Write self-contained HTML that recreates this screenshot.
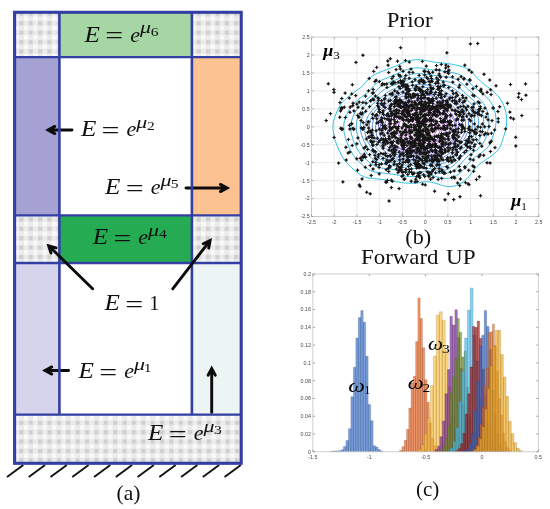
<!DOCTYPE html>
<html lang="en"><head><meta charset="utf-8"><title>Figure</title>
<style>
html,body{margin:0;padding:0;background:#fff;overflow:hidden;}
svg{display:block;}
text{white-space:pre;}
.si{font-family:"Liberation Serif",serif;font-style:italic;}
.sr{font-family:"Liberation Serif",serif;}
.sbi{font-family:"Liberation Serif",serif;font-style:italic;font-weight:bold;}
.ss{font-family:"Liberation Sans",sans-serif;}
</style></head><body>
<svg width="550" height="509" viewBox="0 0 550 509">
<rect width="550" height="509" fill="#fff"/>
<defs>
<pattern id="p1" patternUnits="userSpaceOnUse" x="19.2" y="21.1" width="9.38" height="9.38"><rect width="9.38" height="9.38" fill="#ebebeb"/><rect x="0.1" y="0.1" width="4.09" height="4.09" fill="#cfcfcf"/><rect x="4.79" y="4.79" width="4.09" height="4.09" fill="#fbfbfb"/></pattern>
<pattern id="p2" patternUnits="userSpaceOnUse" x="196.5" y="21.1" width="9.38" height="9.38"><rect width="9.38" height="9.38" fill="#ebebeb"/><rect x="0.1" y="0.1" width="4.09" height="4.09" fill="#cfcfcf"/><rect x="4.79" y="4.79" width="4.09" height="4.09" fill="#fbfbfb"/></pattern>
<pattern id="p3" patternUnits="userSpaceOnUse" x="19.2" y="217.3" width="9.38" height="9.38"><rect width="9.38" height="9.38" fill="#ebebeb"/><rect x="0.1" y="0.1" width="4.09" height="4.09" fill="#cfcfcf"/><rect x="4.79" y="4.79" width="4.09" height="4.09" fill="#fbfbfb"/></pattern>
<pattern id="p4" patternUnits="userSpaceOnUse" x="196.5" y="217.3" width="9.38" height="9.38"><rect width="9.38" height="9.38" fill="#ebebeb"/><rect x="0.1" y="0.1" width="4.09" height="4.09" fill="#cfcfcf"/><rect x="4.79" y="4.79" width="4.09" height="4.09" fill="#fbfbfb"/></pattern>
<pattern id="p5" patternUnits="userSpaceOnUse" x="19.2" y="420.7" width="9.38" height="9.38"><rect width="9.38" height="9.38" fill="#ebebeb"/><rect x="0.1" y="0.1" width="4.09" height="4.09" fill="#cfcfcf"/><rect x="4.79" y="4.79" width="4.09" height="4.09" fill="#fbfbfb"/></pattern>
</defs>
<rect x="14.6" y="12.3" width="226.6" height="451.0" fill="#fff"/>
<rect x="14.6" y="12.3" width="44.80" height="44.90" fill="url(#p1)"/>
<rect x="191.9" y="12.3" width="49.30" height="44.90" fill="url(#p2)"/>
<rect x="14.6" y="215.3" width="44.80" height="47.70" fill="url(#p3)"/>
<rect x="191.9" y="215.3" width="49.30" height="47.70" fill="url(#p4)"/>
<rect x="14.6" y="414.7" width="226.60" height="48.60" fill="url(#p5)"/>
<rect x="59.4" y="12.3" width="132.50" height="44.90" fill="#a5d6a4"/>
<rect x="14.6" y="57.2" width="44.80" height="158.10" fill="#a6a1d3"/>
<rect x="191.9" y="57.2" width="49.30" height="158.10" fill="#fcc291"/>
<rect x="59.4" y="215.3" width="132.50" height="47.70" fill="#25ab52"/>
<rect x="14.6" y="263.0" width="44.80" height="151.70" fill="#d6d4ec"/>
<rect x="191.9" y="263.0" width="49.30" height="151.70" fill="#edf4f4"/>
<line x1="7.0" y1="477.0" x2="23.3" y2="464.9" stroke="#111" stroke-width="1.9" stroke-linecap="butt"/>
<line x1="28.76" y1="477.0" x2="45.06" y2="464.9" stroke="#111" stroke-width="1.9" stroke-linecap="butt"/>
<line x1="50.52" y1="477.0" x2="66.82000000000001" y2="464.9" stroke="#111" stroke-width="1.9" stroke-linecap="butt"/>
<line x1="72.28" y1="477.0" x2="88.58" y2="464.9" stroke="#111" stroke-width="1.9" stroke-linecap="butt"/>
<line x1="94.04" y1="477.0" x2="110.34" y2="464.9" stroke="#111" stroke-width="1.9" stroke-linecap="butt"/>
<line x1="115.80000000000001" y1="477.0" x2="132.10000000000002" y2="464.9" stroke="#111" stroke-width="1.9" stroke-linecap="butt"/>
<line x1="137.56" y1="477.0" x2="153.86" y2="464.9" stroke="#111" stroke-width="1.9" stroke-linecap="butt"/>
<line x1="159.32000000000002" y1="477.0" x2="175.62000000000003" y2="464.9" stroke="#111" stroke-width="1.9" stroke-linecap="butt"/>
<line x1="181.08" y1="477.0" x2="197.38000000000002" y2="464.9" stroke="#111" stroke-width="1.9" stroke-linecap="butt"/>
<line x1="202.84" y1="477.0" x2="219.14000000000001" y2="464.9" stroke="#111" stroke-width="1.9" stroke-linecap="butt"/>
<line x1="224.60000000000002" y1="477.0" x2="240.90000000000003" y2="464.9" stroke="#111" stroke-width="1.9" stroke-linecap="butt"/>
<path d="M72.0 130.0L48.1 130.0M54.8 126.4L48.1 130.0L54.8 133.6" fill="none" stroke="#0c0c0c" stroke-width="2.9" stroke-linecap="round" stroke-linejoin="miter"/>
<path d="M186.0 188.0L227.1 188.0M220.4 191.6L227.1 188.0L220.4 184.4" fill="none" stroke="#0c0c0c" stroke-width="2.9" stroke-linecap="round" stroke-linejoin="miter"/>
<path d="M68.6 370.5L45.1 370.5M51.8 366.9L45.1 370.5L51.8 374.1" fill="none" stroke="#0c0c0c" stroke-width="2.9" stroke-linecap="round" stroke-linejoin="miter"/>
<path d="M211.7 412.4L211.7 368.5M215.3 375.2L211.7 368.5L208.1 375.2" fill="none" stroke="#0c0c0c" stroke-width="2.9" stroke-linecap="round" stroke-linejoin="miter"/>
<line x1="59.4" y1="12.3" x2="59.4" y2="414.7" stroke="#333fa3" stroke-width="2.6" stroke-linecap="butt"/>
<line x1="191.9" y1="12.3" x2="191.9" y2="414.7" stroke="#333fa3" stroke-width="2.6" stroke-linecap="butt"/>
<line x1="14.6" y1="57.2" x2="241.2" y2="57.2" stroke="#333fa3" stroke-width="2.3" stroke-linecap="butt"/>
<line x1="14.6" y1="215.3" x2="241.2" y2="215.3" stroke="#333fa3" stroke-width="2.3" stroke-linecap="butt"/>
<line x1="14.6" y1="263.0" x2="241.2" y2="263.0" stroke="#333fa3" stroke-width="2.3" stroke-linecap="butt"/>
<line x1="14.6" y1="414.7" x2="241.2" y2="414.7" stroke="#333fa3" stroke-width="2.3" stroke-linecap="butt"/>
<rect x="14.6" y="12.3" width="226.60" height="451.00" fill="none" stroke="#333fa3" stroke-width="3.1"/>
<path d="M92.6 288.7L48.7 245.8M56.0 247.9L48.7 245.8L51.0 253.0" fill="none" stroke="#0c0c0c" stroke-width="2.9" stroke-linecap="round" stroke-linejoin="miter"/>
<path d="M172.7 288.8L210.1 240.5M208.8 248.0L210.1 240.5L203.2 243.7" fill="none" stroke="#0c0c0c" stroke-width="2.9" stroke-linecap="round" stroke-linejoin="miter"/>
<text class="si" transform="translate(84.61 41.80) scale(1.129 1)" font-size="22.30" fill="#111">E</text>
<text class="sr" transform="translate(105.31 44.30) scale(1.299 1)" font-size="24.50" fill="#111">=</text>
<text class="si" transform="translate(130.24 41.80) scale(1.081 1)" font-size="20.50" fill="#111">e</text>
<text class="si" transform="translate(140.00 33.30) scale(1.289 1)" font-size="17.00" fill="#111">μ</text>
<text class="sr" transform="translate(150.64 35.50) scale(1.300 1)" font-size="12.00" fill="#111">6</text>
<text class="si" transform="translate(80.91 136.40) scale(1.129 1)" font-size="22.30" fill="#111">E</text>
<text class="sr" transform="translate(101.61 138.90) scale(1.299 1)" font-size="24.50" fill="#111">=</text>
<text class="si" transform="translate(126.54 136.40) scale(1.081 1)" font-size="20.50" fill="#111">e</text>
<text class="si" transform="translate(136.30 127.90) scale(1.289 1)" font-size="17.00" fill="#111">μ</text>
<text class="sr" transform="translate(146.94 130.10) scale(1.300 1)" font-size="12.00" fill="#111">2</text>
<text class="si" transform="translate(105.01 194.30) scale(1.129 1)" font-size="22.30" fill="#111">E</text>
<text class="sr" transform="translate(125.71 196.80) scale(1.299 1)" font-size="24.50" fill="#111">=</text>
<text class="si" transform="translate(150.64 194.30) scale(1.081 1)" font-size="20.50" fill="#111">e</text>
<text class="si" transform="translate(160.40 185.80) scale(1.289 1)" font-size="17.00" fill="#111">μ</text>
<text class="sr" transform="translate(170.80 188.00) scale(1.300 1)" font-size="12.00" fill="#111">5</text>
<text class="si" transform="translate(92.71 244.00) scale(1.129 1)" font-size="22.30" fill="#111">E</text>
<text class="sr" transform="translate(113.41 246.50) scale(1.299 1)" font-size="24.50" fill="#111">=</text>
<text class="si" transform="translate(138.34 244.00) scale(1.081 1)" font-size="20.50" fill="#111">e</text>
<text class="si" transform="translate(148.10 235.50) scale(1.289 1)" font-size="17.00" fill="#111">μ</text>
<text class="sr" transform="translate(159.09 237.70) scale(1.300 1)" font-size="12.00" fill="#111">4</text>
<text class="si" transform="translate(78.51 378.20) scale(1.129 1)" font-size="22.30" fill="#111">E</text>
<text class="sr" transform="translate(99.21 380.70) scale(1.299 1)" font-size="24.50" fill="#111">=</text>
<text class="si" transform="translate(124.14 378.20) scale(1.081 1)" font-size="20.50" fill="#111">e</text>
<text class="si" transform="translate(133.90 369.70) scale(1.289 1)" font-size="17.00" fill="#111">μ</text>
<text class="sr" transform="translate(143.83 371.90) scale(1.300 1)" font-size="12.00" fill="#111">1</text>
<text class="si" transform="translate(148.01 440.30) scale(1.129 1)" font-size="22.30" fill="#111">E</text>
<text class="sr" transform="translate(168.71 442.80) scale(1.299 1)" font-size="24.50" fill="#111">=</text>
<text class="si" transform="translate(193.64 440.30) scale(1.081 1)" font-size="20.50" fill="#111">e</text>
<text class="si" transform="translate(203.40 431.80) scale(1.289 1)" font-size="17.00" fill="#111">μ</text>
<text class="sr" transform="translate(213.96 434.00) scale(1.300 1)" font-size="12.00" fill="#111">3</text>
<text class="si" transform="translate(104.51 310.20) scale(1.129 1)" font-size="22.30" fill="#111">E</text>
<text class="sr" transform="translate(125.21 312.70) scale(1.299 1)" font-size="24.50" fill="#111">=</text>
<text class="sr" transform="translate(149.21 310.20) scale(0.950 1)" font-size="21.50" fill="#111">1</text>
<text class="sr" transform="translate(116.48 500.20) scale(1.027 1)" font-size="21.00" fill="#111">(a)</text>
<rect x="311.5" y="37.1" width="227.30" height="179.40" fill="#fff"/>
<path d="M334.23 37.1V216.5M311.5 198.56H538.8M356.96 37.1V216.5M311.5 180.62H538.8M379.69 37.1V216.5M311.5 162.68H538.8M402.42 37.1V216.5M311.5 144.74H538.8M425.15 37.1V216.5M311.5 126.80H538.8M447.88 37.1V216.5M311.5 108.86H538.8M470.61 37.1V216.5M311.5 90.92H538.8M493.34 37.1V216.5M311.5 72.98H538.8M516.07 37.1V216.5M311.5 55.04H538.8" stroke="#dcdcdc" stroke-width="0.6" fill="none"/>
<path d="M333.1 124.0L333.3 121.8L334.0 119.5L334.7 117.4L335.5 115.2L336.3 113.1L337.2 111.0L338.1 109.0L339.2 107.0L340.3 105.1L341.7 103.3L343.1 101.5L344.7 99.9L346.5 98.3L348.2 96.8L350.0 95.4L351.7 94.1L353.5 92.7L355.2 91.5L356.9 90.3L358.6 89.1L360.2 88.0L361.7 86.8L363.0 85.5L364.2 84.2L365.4 82.8L366.4 81.4L367.5 80.0L368.8 78.8L370.1 77.6L371.5 76.5L373.0 75.5L374.5 74.6L376.1 73.8L377.8 73.1L379.4 72.4L381.0 71.8L382.7 71.1L384.3 70.5L385.9 69.9L387.4 69.3L389.0 68.7L390.5 68.1L392.0 67.5L393.6 66.9L395.1 66.3L396.6 65.6L398.1 64.9L399.6 64.2L401.1 63.5L402.6 62.8L404.1 62.1L405.7 61.6L407.3 61.1L409.0 60.7L410.6 60.4L412.3 60.1L414.0 60.0L415.6 59.8L417.3 59.8L419.0 59.8L420.7 59.8L422.4 60.0L424.0 60.2L425.7 60.5L427.3 60.8L429.0 61.1L430.6 61.5L432.2 61.8L433.9 62.1L435.5 62.3L437.2 62.5L438.9 62.7L440.7 62.8L442.4 63.0L444.2 63.2L446.0 63.4L447.8 63.7L449.6 63.9L451.5 64.2L453.3 64.5L455.2 64.9L457.1 65.3L459.0 65.7L460.9 66.3L462.9 66.8L464.8 67.5L466.6 68.3L468.3 69.2L470.0 70.3L471.5 71.5L472.8 72.9L474.1 74.4L475.4 75.8L476.7 77.3L478.0 78.7L479.4 80.1L480.8 81.5L482.3 82.9L483.9 84.2L485.6 85.6L487.4 86.9L489.2 88.2L491.1 89.6L492.9 91.1L494.7 92.6L496.4 94.3L497.9 96.1L499.4 97.9L500.7 99.8L502.0 101.8L503.0 103.8L503.9 105.9L504.7 108.1L505.4 110.3L505.9 112.6L506.2 114.8L506.5 117.1L506.7 119.4L506.7 121.7L506.6 124.0L506.4 126.3L506.0 128.6L505.4 130.8L504.8 133.0L504.1 135.2L503.4 137.4L502.7 139.5L502.0 141.6L501.3 143.8L500.5 145.8L499.4 147.8L498.2 149.7L496.7 151.5L495.0 153.2L493.1 154.7L491.2 156.1L489.2 157.5L487.2 158.8L485.4 160.0L483.6 161.3L481.8 162.5L480.2 163.7L478.6 165.0L477.2 166.3L475.9 167.6L474.6 169.0L473.4 170.5L472.3 172.0L471.3 173.6L470.1 175.1L468.9 176.6L467.6 178.0L466.2 179.3L464.8 180.6L463.3 181.8L461.8 182.8L460.1 183.8L458.4 184.7L456.6 185.4L454.8 186.0L452.8 186.3L450.9 186.5L448.8 186.6L446.8 186.4L444.7 186.0L442.6 185.5L440.6 184.9L438.6 184.2L436.7 183.6L434.8 183.1L433.1 182.6L431.4 182.2L429.7 181.9L428.2 181.8L426.6 181.7L425.1 181.8L423.6 181.9L422.0 182.1L420.5 182.4L419.0 182.7L417.5 182.9L415.9 183.0L414.3 183.2L412.8 183.2L411.2 183.3L409.6 183.2L408.0 183.2L406.4 183.1L404.8 182.9L403.3 182.8L401.7 182.5L400.1 182.3L398.5 182.0L396.8 181.8L395.2 181.5L393.5 181.2L391.8 180.9L390.2 180.6L388.4 180.3L386.6 180.0L384.8 179.8L382.9 179.5L381.0 179.3L379.0 179.1L376.9 178.9L374.7 178.7L372.5 178.5L370.2 178.3L367.9 177.9L365.7 177.3L363.6 176.6L361.6 175.6L359.8 174.5L358.1 173.3L356.5 172.0L354.8 170.6L353.2 169.2L351.6 167.8L350.1 166.2L348.5 164.7L347.1 163.1L345.6 161.4L344.3 159.7L343.0 157.8L341.9 156.0L340.8 154.0L339.9 152.0L339.0 150.0L338.1 148.0L337.2 145.9L336.4 143.8L335.6 141.7L334.9 139.6L334.4 137.4L334.0 135.2L333.5 133.0L333.1 130.8L333.0 128.5L333.0 126.3Z" fill="none" stroke="rgb(40, 195, 225)" stroke-width="1.0"/>
<path d="M343.9 124.2L344.1 122.3L344.7 120.3L345.3 118.4L346.0 116.6L346.7 114.7L347.5 112.9L348.3 111.1L349.3 109.4L350.3 107.7L351.5 106.1L352.8 104.6L354.2 103.1L355.7 101.8L357.2 100.5L358.7 99.2L360.2 98.0L361.7 96.9L363.2 95.8L364.7 94.7L366.1 93.6L367.4 92.5L368.6 91.4L369.8 90.3L370.8 89.1L371.8 87.9L372.8 86.7L373.8 85.6L375.0 84.5L376.2 83.5L377.4 82.5L378.7 81.7L380.1 80.9L381.5 80.2L382.9 79.6L384.4 78.9L385.8 78.4L387.2 77.8L388.6 77.2L390.0 76.7L391.3 76.1L392.7 75.6L394.1 75.0L395.4 74.5L396.7 73.9L398.0 73.3L399.4 72.7L400.7 72.1L402.0 71.5L403.3 70.9L404.7 70.3L406.1 69.8L407.5 69.3L408.9 68.9L410.3 68.6L411.8 68.4L413.2 68.2L414.7 68.0L416.2 68.0L417.7 67.9L419.1 68.0L420.6 68.0L422.1 68.2L423.5 68.4L425.0 68.6L426.4 68.9L427.9 69.2L429.3 69.4L430.7 69.7L432.2 69.9L433.6 70.1L435.1 70.2L436.6 70.4L438.2 70.5L439.7 70.7L441.2 70.9L442.8 71.0L444.4 71.2L446.0 71.5L447.6 71.7L449.3 72.0L451.0 72.3L452.6 72.6L454.3 73.0L456.0 73.5L457.7 74.0L459.3 74.6L460.9 75.4L462.4 76.2L463.8 77.2L465.1 78.3L466.3 79.4L467.5 80.7L468.7 81.9L469.9 83.1L471.1 84.4L472.3 85.6L473.7 86.7L475.1 87.9L476.6 89.0L478.1 90.2L479.7 91.4L481.3 92.6L482.9 93.8L484.5 95.1L486.1 96.5L487.5 98.0L488.8 99.6L490.0 101.2L491.2 102.9L492.2 104.7L493.1 106.5L493.8 108.4L494.5 110.3L495.0 112.2L495.4 114.2L495.7 116.2L495.9 118.2L496.0 120.2L496.0 122.2L495.9 124.2L495.6 126.2L495.3 128.2L494.8 130.2L494.3 132.1L493.7 134.1L493.1 136.0L492.5 137.8L491.9 139.7L491.2 141.5L490.3 143.3L489.3 145.0L488.2 146.7L486.8 148.2L485.4 149.7L483.7 151.0L482.1 152.3L480.4 153.5L478.8 154.6L477.2 155.8L475.6 156.9L474.2 158.0L472.8 159.1L471.5 160.2L470.3 161.4L469.2 162.6L468.1 163.9L467.1 165.2L466.1 166.5L465.1 167.8L464.0 169.1L462.9 170.4L461.7 171.6L460.5 172.7L459.3 173.8L457.9 174.7L456.5 175.6L455.0 176.4L453.5 177.2L451.9 177.7L450.2 178.1L448.5 178.4L446.8 178.5L445.0 178.5L443.2 178.3L441.4 178.0L439.6 177.6L437.8 177.1L436.2 176.6L434.5 176.2L432.9 175.8L431.4 175.4L430.0 175.2L428.5 175.0L427.2 175.0L425.8 175.0L424.5 175.1L423.1 175.3L421.8 175.5L420.5 175.8L419.1 176.0L417.8 176.2L416.4 176.3L415.0 176.4L413.6 176.5L412.2 176.5L410.9 176.5L409.4 176.5L408.0 176.4L406.6 176.3L405.2 176.1L403.8 175.9L402.4 175.8L401.0 175.6L399.5 175.3L398.1 175.1L396.6 174.9L395.1 174.6L393.6 174.4L392.0 174.1L390.4 173.9L388.8 173.7L387.2 173.5L385.4 173.3L383.6 173.1L381.8 172.9L379.8 172.8L377.9 172.5L376.0 172.2L374.0 171.8L372.2 171.2L370.4 170.5L368.7 169.6L367.2 168.6L365.7 167.5L364.2 166.4L362.8 165.2L361.4 163.9L360.0 162.6L358.7 161.3L357.3 159.9L356.0 158.5L354.8 157.0L353.6 155.5L352.6 153.9L351.6 152.2L350.6 150.5L349.8 148.8L349.0 147.0L348.2 145.3L347.4 143.5L346.6 141.6L346.0 139.8L345.4 137.9L345.0 136.0L344.4 134.1L344.0 132.1L343.8 130.2L343.8 128.2L343.8 126.2Z" fill="none" stroke="rgb(46, 186, 223)" stroke-width="1.0"/>
<path d="M351.1 124.5L351.3 122.7L351.6 120.9L352.2 119.2L352.8 117.5L353.4 115.8L354.1 114.2L354.9 112.6L355.8 111.0L356.8 109.5L357.9 108.0L359.0 106.6L360.2 105.3L361.5 104.0L362.8 102.8L364.1 101.6L365.5 100.5L366.8 99.5L368.1 98.4L369.4 97.4L370.6 96.4L371.8 95.4L372.9 94.3L373.9 93.3L374.9 92.2L375.9 91.2L376.9 90.2L377.9 89.1L378.9 88.1L380.0 87.2L381.1 86.3L382.3 85.6L383.6 84.8L384.9 84.2L386.2 83.6L387.5 83.0L388.8 82.5L390.1 82.0L391.4 81.5L392.6 81.0L393.9 80.5L395.2 80.1L396.4 79.6L397.6 79.1L398.9 78.6L400.1 78.1L401.3 77.6L402.5 77.1L403.7 76.6L405.0 76.2L406.2 75.7L407.4 75.3L408.7 74.9L410.0 74.6L411.3 74.3L412.6 74.1L413.9 73.9L415.3 73.8L416.6 73.7L417.9 73.7L419.3 73.7L420.6 73.8L421.9 73.9L423.2 74.0L424.6 74.2L425.9 74.4L427.2 74.6L428.5 74.7L429.8 74.9L431.1 75.1L432.5 75.2L433.8 75.4L435.2 75.5L436.6 75.6L438.0 75.7L439.4 75.8L440.8 76.0L442.3 76.2L443.8 76.4L445.3 76.6L446.8 76.8L448.3 77.1L449.8 77.4L451.3 77.8L452.9 78.2L454.4 78.7L455.8 79.3L457.2 80.0L458.6 80.8L459.8 81.7L461.1 82.7L462.3 83.7L463.4 84.7L464.5 85.9L465.6 87.0L466.7 88.1L467.8 89.2L469.0 90.3L470.3 91.3L471.6 92.4L473.0 93.5L474.3 94.6L475.7 95.7L477.1 96.9L478.5 98.1L479.9 99.4L481.1 100.7L482.3 102.1L483.4 103.6L484.5 105.2L485.4 106.8L486.2 108.4L486.9 110.1L487.5 111.8L488.0 113.6L488.4 115.4L488.7 117.2L488.9 119.0L489.0 120.8L489.0 122.6L488.9 124.5L488.7 126.3L488.4 128.1L488.0 129.9L487.6 131.7L487.1 133.4L486.6 135.1L486.1 136.9L485.4 138.5L484.7 140.2L483.9 141.8L482.9 143.3L481.9 144.8L480.7 146.2L479.4 147.6L478.0 148.8L476.5 150.0L475.0 151.1L473.6 152.1L472.1 153.2L470.7 154.2L469.4 155.2L468.1 156.2L466.9 157.2L465.8 158.3L464.8 159.4L463.8 160.5L462.8 161.6L461.8 162.8L460.8 163.9L459.8 165.0L458.8 166.2L457.8 167.2L456.6 168.2L455.5 169.2L454.2 170.1L453.0 170.9L451.7 171.6L450.3 172.2L448.8 172.7L447.4 173.1L445.8 173.4L444.3 173.6L442.7 173.6L441.1 173.5L439.5 173.3L437.9 173.0L436.3 172.7L434.8 172.4L433.4 172.1L431.9 171.8L430.5 171.5L429.2 171.3L427.9 171.2L426.7 171.2L425.4 171.2L424.2 171.3L423.0 171.4L421.7 171.5L420.5 171.7L419.3 171.9L418.0 172.0L416.8 172.2L415.5 172.2L414.2 172.3L413.0 172.3L411.7 172.2L410.4 172.2L409.1 172.1L407.9 171.9L406.6 171.8L405.3 171.6L404.0 171.4L402.7 171.2L401.4 170.9L400.1 170.7L398.8 170.5L397.4 170.2L396.1 170.0L394.7 169.8L393.2 169.5L391.8 169.3L390.3 169.1L388.7 168.9L387.1 168.7L385.4 168.6L383.7 168.4L382.0 168.1L380.3 167.7L378.7 167.3L377.0 166.7L375.4 166.1L373.8 165.4L372.3 164.5L370.9 163.6L369.6 162.6L368.3 161.5L367.0 160.4L365.7 159.3L364.4 158.1L363.2 156.8L362.0 155.6L360.9 154.2L359.8 152.8L358.8 151.4L357.9 149.9L357.0 148.4L356.2 146.8L355.4 145.2L354.6 143.6L353.9 142.0L353.3 140.3L352.8 138.6L352.3 136.9L351.7 135.2L351.3 133.4L351.0 131.6L350.9 129.9L350.8 128.1L350.9 126.3Z" fill="none" stroke="rgb(52, 177, 222)" stroke-width="1.0"/>
<path d="M356.4 124.7L356.6 123.1L356.8 121.4L357.1 119.8L357.6 118.2L358.2 116.7L358.8 115.1L359.5 113.6L360.3 112.1L361.1 110.7L362.0 109.3L363.0 108.0L364.1 106.7L365.2 105.5L366.4 104.4L367.7 103.3L368.9 102.2L370.2 101.2L371.4 100.3L372.7 99.3L373.8 98.4L375.0 97.5L376.0 96.6L377.1 95.6L378.1 94.7L379.1 93.8L380.1 92.9L381.1 92.0L382.1 91.1L383.2 90.3L384.2 89.6L385.4 88.8L386.5 88.2L387.7 87.6L388.9 87.1L390.2 86.6L391.4 86.1L392.6 85.7L393.8 85.2L394.9 84.8L396.1 84.4L397.3 84.0L398.4 83.6L399.6 83.2L400.7 82.7L401.8 82.3L402.9 81.8L404.0 81.4L405.2 80.9L406.3 80.5L407.4 80.0L408.6 79.6L409.7 79.2L410.9 78.9L412.1 78.6L413.3 78.3L414.5 78.1L415.7 77.9L416.9 77.8L418.2 77.7L419.4 77.7L420.6 77.7L421.9 77.8L423.1 77.9L424.3 78.0L425.5 78.2L426.7 78.3L428.0 78.5L429.2 78.7L430.4 78.8L431.6 79.0L432.9 79.2L434.1 79.3L435.4 79.5L436.7 79.7L438.0 79.8L439.3 80.0L440.6 80.2L442.0 80.4L443.3 80.7L444.7 80.9L446.0 81.2L447.4 81.6L448.8 81.9L450.2 82.4L451.5 82.8L452.8 83.4L454.1 84.0L455.4 84.8L456.6 85.6L457.7 86.4L458.8 87.3L459.9 88.2L461.0 89.2L462.0 90.2L463.0 91.3L464.0 92.3L465.1 93.3L466.3 94.3L467.5 95.2L468.7 96.2L470.0 97.3L471.2 98.3L472.5 99.4L473.8 100.5L475.0 101.7L476.2 102.9L477.3 104.2L478.4 105.5L479.4 107.0L480.2 108.4L481.0 109.9L481.7 111.5L482.2 113.1L482.7 114.7L483.1 116.3L483.4 118.0L483.6 119.7L483.7 121.3L483.7 123.0L483.6 124.7L483.3 126.4L483.1 128.0L482.7 129.7L482.3 131.3L481.8 132.9L481.3 134.5L480.8 136.1L480.2 137.6L479.5 139.1L478.7 140.6L477.8 142.0L476.9 143.4L475.8 144.7L474.7 145.9L473.5 147.1L472.2 148.2L470.9 149.3L469.6 150.3L468.3 151.2L467.0 152.2L465.8 153.1L464.6 154.1L463.5 155.0L462.5 156.0L461.5 157.0L460.5 158.0L459.6 159.1L458.7 160.1L457.8 161.1L456.9 162.2L456.0 163.2L455.0 164.3L454.0 165.2L452.9 166.1L451.8 167.0L450.7 167.8L449.5 168.5L448.2 169.1L446.9 169.6L445.6 170.0L444.2 170.3L442.7 170.5L441.3 170.6L439.8 170.5L438.3 170.4L436.8 170.2L435.4 169.9L434.0 169.6L432.6 169.3L431.3 169.0L429.9 168.7L428.7 168.4L427.5 168.2L426.3 168.1L425.1 168.0L424.0 168.1L422.8 168.1L421.7 168.1L420.5 168.2L419.4 168.3L418.3 168.4L417.1 168.4L415.9 168.5L414.8 168.5L413.6 168.5L412.5 168.4L411.3 168.4L410.1 168.3L409.0 168.2L407.8 168.0L406.6 167.9L405.4 167.7L404.2 167.5L403.0 167.3L401.8 167.1L400.6 166.9L399.4 166.7L398.1 166.5L396.8 166.3L395.5 166.1L394.2 165.9L392.8 165.7L391.4 165.5L389.9 165.3L388.4 165.1L386.8 164.9L385.3 164.7L383.7 164.3L382.2 163.9L380.7 163.4L379.2 162.9L377.7 162.2L376.3 161.5L375.0 160.7L373.7 159.8L372.5 158.8L371.3 157.7L370.2 156.7L369.0 155.6L367.9 154.4L366.8 153.2L365.8 152.0L364.8 150.7L363.9 149.4L363.1 148.0L362.3 146.6L361.5 145.2L360.7 143.8L360.0 142.3L359.4 140.8L358.8 139.2L358.3 137.7L357.9 136.1L357.4 134.5L356.9 132.9L356.6 131.3L356.4 129.7L356.3 128.0L356.3 126.4Z" fill="none" stroke="rgb(58, 168, 221)" stroke-width="1.0"/>
<path d="M360.5 124.9L360.7 123.4L360.9 121.9L361.2 120.4L361.6 118.9L362.2 117.4L362.9 116.0L363.6 114.6L364.4 113.2L365.2 111.9L366.2 110.6L367.1 109.4L368.2 108.3L369.3 107.1L370.4 106.1L371.6 105.1L372.8 104.1L374.0 103.2L375.1 102.3L376.3 101.5L377.4 100.6L378.4 99.8L379.5 98.9L380.4 98.1L381.4 97.3L382.4 96.5L383.4 95.7L384.3 94.9L385.3 94.1L386.2 93.3L387.2 92.6L388.2 91.9L389.2 91.3L390.3 90.7L391.3 90.1L392.4 89.6L393.5 89.1L394.6 88.7L395.7 88.2L396.7 87.8L397.8 87.3L398.9 86.9L399.9 86.5L401.0 86.0L402.0 85.6L403.0 85.1L404.1 84.7L405.1 84.2L406.2 83.8L407.2 83.4L408.3 83.0L409.4 82.6L410.5 82.3L411.6 82.0L412.7 81.7L413.8 81.5L414.9 81.3L416.1 81.2L417.2 81.1L418.4 81.1L419.5 81.1L420.7 81.1L421.8 81.2L423.0 81.4L424.1 81.5L425.2 81.7L426.4 81.8L427.5 82.0L428.6 82.2L429.8 82.3L430.9 82.5L432.0 82.7L433.2 82.9L434.4 83.0L435.5 83.2L436.8 83.4L438.0 83.5L439.2 83.7L440.4 83.9L441.7 84.1L442.9 84.4L444.2 84.7L445.5 85.0L446.8 85.3L448.1 85.7L449.3 86.1L450.6 86.6L451.8 87.2L452.9 87.9L454.1 88.6L455.2 89.3L456.2 90.1L457.3 90.9L458.3 91.8L459.3 92.7L460.3 93.7L461.3 94.6L462.3 95.5L463.4 96.5L464.5 97.4L465.6 98.4L466.7 99.3L467.8 100.4L468.9 101.4L470.0 102.5L471.0 103.6L472.1 104.8L473.1 106.0L474.0 107.3L474.8 108.6L475.5 109.9L476.2 111.3L476.8 112.8L477.3 114.2L477.7 115.7L478.0 117.2L478.3 118.8L478.4 120.3L478.5 121.9L478.5 123.4L478.4 124.9L478.3 126.5L478.1 128.0L477.8 129.5L477.5 131.0L477.2 132.5L476.8 134.0L476.3 135.5L475.8 136.9L475.1 138.3L474.5 139.7L473.7 141.0L472.9 142.3L472.0 143.5L471.1 144.7L470.1 145.9L469.0 147.0L467.9 148.0L466.7 149.0L465.6 150.0L464.4 150.9L463.3 151.8L462.3 152.7L461.3 153.6L460.3 154.6L459.3 155.5L458.4 156.4L457.5 157.4L456.6 158.3L455.7 159.2L454.7 160.2L453.8 161.1L452.9 162.0L451.9 162.8L450.8 163.6L449.7 164.3L448.6 165.0L447.4 165.6L446.2 166.0L445.0 166.5L443.7 166.8L442.4 167.0L441.0 167.1L439.7 167.2L438.3 167.1L436.9 167.0L435.6 166.8L434.3 166.6L433.0 166.4L431.7 166.1L430.5 165.8L429.3 165.6L428.1 165.4L427.0 165.3L425.9 165.2L424.8 165.1L423.7 165.1L422.7 165.2L421.6 165.2L420.6 165.3L419.5 165.3L418.5 165.4L417.4 165.5L416.3 165.6L415.2 165.7L414.2 165.7L413.1 165.7L412.0 165.6L410.9 165.6L409.8 165.5L408.7 165.4L407.6 165.2L406.5 165.1L405.4 165.0L404.2 164.8L403.1 164.6L402.0 164.4L400.8 164.2L399.6 164.0L398.4 163.8L397.2 163.6L396.0 163.4L394.7 163.2L393.4 162.9L392.1 162.7L390.7 162.5L389.3 162.3L387.9 161.9L386.5 161.6L385.2 161.2L383.8 160.7L382.5 160.1L381.1 159.5L379.8 158.8L378.6 158.1L377.4 157.3L376.2 156.4L375.1 155.5L374.0 154.5L372.9 153.5L371.9 152.5L370.9 151.4L369.9 150.2L369.0 149.1L368.1 147.9L367.2 146.6L366.3 145.4L365.5 144.1L364.8 142.7L364.1 141.4L363.4 140.0L362.9 138.5L362.4 137.1L361.8 135.6L361.3 134.2L361.0 132.7L360.7 131.1L360.5 129.6L360.4 128.0L360.4 126.5Z" fill="none" stroke="rgb(65, 159, 220)" stroke-width="1.0"/>
<path d="M365.1 125.2L365.4 123.8L365.7 122.4L366.0 121.0L366.5 119.6L367.1 118.3L367.7 117.0L368.4 115.7L369.2 114.5L370.0 113.3L370.8 112.1L371.7 111.0L372.6 109.9L373.6 108.9L374.6 107.9L375.6 106.9L376.6 106.0L377.6 105.1L378.6 104.3L379.5 103.4L380.5 102.6L381.4 101.7L382.2 100.9L383.1 100.1L384.0 99.2L384.8 98.5L385.7 97.7L386.5 96.9L387.4 96.2L388.3 95.4L389.2 94.7L390.1 94.1L391.1 93.5L392.1 92.9L393.1 92.3L394.1 91.8L395.1 91.4L396.1 90.9L397.1 90.5L398.2 90.1L399.2 89.7L400.2 89.3L401.2 88.9L402.2 88.5L403.2 88.1L404.2 87.8L405.1 87.4L406.1 87.0L407.1 86.7L408.1 86.3L409.2 86.0L410.2 85.7L411.2 85.4L412.2 85.2L413.3 85.0L414.3 84.8L415.4 84.7L416.5 84.5L417.5 84.5L418.6 84.5L419.7 84.5L420.7 84.5L421.8 84.5L422.9 84.6L423.9 84.7L425.0 84.8L426.0 84.9L427.1 85.0L428.2 85.1L429.2 85.2L430.3 85.4L431.4 85.5L432.5 85.6L433.6 85.7L434.7 85.9L435.9 86.0L437.0 86.2L438.2 86.3L439.4 86.5L440.5 86.7L441.7 87.0L442.9 87.3L444.1 87.6L445.3 87.9L446.4 88.4L447.5 88.8L448.7 89.4L449.7 90.0L450.8 90.6L451.8 91.3L452.8 92.1L453.7 92.8L454.7 93.6L455.6 94.5L456.5 95.3L457.4 96.2L458.3 97.1L459.3 98.0L460.2 98.8L461.2 99.7L462.2 100.6L463.2 101.5L464.2 102.5L465.2 103.4L466.2 104.4L467.2 105.5L468.2 106.6L469.1 107.7L470.0 108.8L470.8 110.0L471.5 111.3L472.2 112.6L472.8 113.9L473.3 115.2L473.8 116.6L474.2 118.0L474.5 119.4L474.7 120.8L474.9 122.3L475.0 123.7L475.0 125.2L474.9 126.6L474.8 128.1L474.7 129.5L474.5 130.9L474.2 132.4L473.8 133.8L473.4 135.1L472.9 136.5L472.3 137.8L471.6 139.1L470.9 140.3L470.0 141.6L469.2 142.7L468.2 143.8L467.2 144.9L466.2 145.9L465.1 146.9L464.0 147.8L462.9 148.6L461.8 149.5L460.7 150.3L459.7 151.2L458.7 152.0L457.7 152.8L456.8 153.7L455.9 154.5L455.0 155.3L454.1 156.2L453.2 157.0L452.3 157.8L451.3 158.6L450.4 159.3L449.5 160.1L448.5 160.8L447.4 161.4L446.4 162.0L445.3 162.5L444.2 162.9L443.0 163.3L441.8 163.6L440.6 163.8L439.4 163.9L438.2 164.0L436.9 164.0L435.7 163.9L434.5 163.8L433.3 163.7L432.1 163.6L431.0 163.4L429.9 163.3L428.8 163.1L427.7 163.0L426.7 163.0L425.6 162.9L424.6 162.9L423.6 162.9L422.6 163.0L421.6 163.1L420.7 163.1L419.7 163.2L418.7 163.2L417.7 163.3L416.7 163.3L415.6 163.4L414.6 163.3L413.6 163.3L412.6 163.2L411.6 163.1L410.6 163.0L409.5 162.9L408.5 162.8L407.5 162.6L406.5 162.5L405.4 162.3L404.4 162.1L403.3 161.9L402.2 161.7L401.1 161.6L400.0 161.4L398.9 161.2L397.7 161.1L396.5 160.9L395.2 160.7L393.9 160.6L392.7 160.4L391.4 160.1L390.0 159.9L388.7 159.5L387.4 159.2L386.1 158.7L384.8 158.2L383.6 157.7L382.3 157.1L381.1 156.4L379.9 155.7L378.8 154.9L377.7 154.0L376.6 153.2L375.5 152.2L374.5 151.2L373.6 150.2L372.6 149.1L371.8 148.0L370.9 146.9L370.1 145.7L369.3 144.5L368.6 143.3L367.9 142.0L367.4 140.7L366.8 139.3L366.4 138.0L365.9 136.6L365.5 135.2L365.2 133.8L365.0 132.4L364.8 130.9L364.8 129.5L364.8 128.1L364.9 126.6Z" fill="none" stroke="rgb(71, 150, 219)" stroke-width="1.0"/>
<path d="M369.5 125.4L369.6 124.1L369.8 122.8L370.0 121.5L370.4 120.2L370.7 119.0L371.2 117.7L371.8 116.5L372.4 115.3L373.0 114.2L373.7 113.1L374.4 112.0L375.2 110.9L376.0 109.9L376.9 109.0L377.8 108.0L378.7 107.1L379.6 106.3L380.6 105.4L381.5 104.6L382.4 103.8L383.2 103.0L384.1 102.2L385.0 101.5L385.8 100.8L386.7 100.0L387.6 99.3L388.4 98.7L389.3 98.0L390.2 97.3L391.1 96.7L392.0 96.1L392.9 95.6L393.9 95.1L394.8 94.6L395.8 94.1L396.8 93.7L397.7 93.3L398.7 92.9L399.7 92.6L400.6 92.2L401.6 91.9L402.5 91.5L403.4 91.2L404.4 90.8L405.3 90.4L406.2 90.1L407.1 89.7L408.1 89.4L409.0 89.0L410.0 88.7L410.9 88.4L411.9 88.1L412.8 87.9L413.8 87.6L414.8 87.4L415.8 87.3L416.8 87.1L417.8 87.0L418.8 87.0L419.8 87.0L420.8 87.0L421.8 87.0L422.8 87.1L423.8 87.2L424.8 87.3L425.8 87.5L426.8 87.6L427.8 87.8L428.8 87.9L429.8 88.1L430.8 88.3L431.8 88.5L432.8 88.7L433.8 88.9L434.8 89.1L435.9 89.3L436.9 89.6L437.9 89.8L439.0 90.1L440.0 90.4L441.1 90.7L442.1 91.0L443.2 91.4L444.2 91.8L445.3 92.2L446.3 92.7L447.2 93.3L448.2 93.9L449.2 94.5L450.1 95.1L451.1 95.8L452.0 96.4L452.9 97.2L453.8 97.9L454.7 98.6L455.6 99.4L456.6 100.1L457.5 100.9L458.5 101.7L459.5 102.5L460.5 103.3L461.5 104.1L462.6 105.0L463.6 105.9L464.6 106.9L465.6 107.9L466.5 108.9L467.4 110.0L468.2 111.1L469.0 112.2L469.7 113.4L470.3 114.7L470.8 116.0L471.3 117.3L471.7 118.6L472.0 119.9L472.2 121.3L472.3 122.7L472.4 124.0L472.3 125.4L472.2 126.8L472.0 128.2L471.8 129.5L471.5 130.9L471.2 132.2L470.8 133.5L470.3 134.8L469.7 136.0L469.0 137.2L468.3 138.4L467.6 139.6L466.8 140.7L465.9 141.7L465.0 142.8L464.1 143.8L463.1 144.7L462.1 145.6L461.1 146.5L460.0 147.3L459.0 148.1L458.0 148.9L457.1 149.6L456.1 150.4L455.2 151.2L454.4 151.9L453.5 152.7L452.7 153.5L451.8 154.3L451.0 155.0L450.2 155.8L449.3 156.6L448.5 157.3L447.6 158.0L446.7 158.7L445.8 159.3L444.8 159.9L443.8 160.4L442.8 160.8L441.7 161.2L440.6 161.5L439.5 161.7L438.3 161.8L437.2 161.9L436.0 161.9L434.9 161.9L433.8 161.8L432.6 161.7L431.5 161.6L430.4 161.4L429.4 161.2L428.4 161.1L427.3 160.9L426.4 160.8L425.4 160.7L424.4 160.7L423.5 160.6L422.6 160.6L421.6 160.6L420.7 160.7L419.8 160.7L418.9 160.7L417.9 160.7L417.0 160.8L416.1 160.8L415.1 160.8L414.2 160.8L413.2 160.8L412.3 160.7L411.3 160.7L410.4 160.6L409.4 160.6L408.4 160.5L407.4 160.4L406.4 160.3L405.4 160.2L404.4 160.0L403.3 159.9L402.3 159.8L401.2 159.7L400.1 159.5L399.0 159.4L397.8 159.3L396.6 159.1L395.4 159.0L394.2 158.8L393.0 158.5L391.7 158.3L390.5 157.9L389.3 157.6L388.1 157.1L386.9 156.6L385.7 156.1L384.6 155.5L383.5 154.8L382.4 154.1L381.4 153.3L380.4 152.5L379.5 151.6L378.6 150.7L377.8 149.7L377.0 148.7L376.2 147.6L375.4 146.6L374.7 145.5L374.1 144.4L373.4 143.2L372.8 142.0L372.3 140.9L371.8 139.6L371.4 138.4L371.0 137.1L370.6 135.9L370.2 134.6L369.9 133.3L369.7 132.0L369.5 130.7L369.4 129.4L369.4 128.1L369.4 126.7Z" fill="none" stroke="rgb(77, 141, 218)" stroke-width="1.0"/>
<path d="M372.4 125.7L372.5 124.4L372.6 123.2L372.8 122.0L373.2 120.7L373.5 119.5L373.9 118.4L374.5 117.2L375.1 116.1L375.7 115.1L376.4 114.0L377.2 113.0L377.9 112.0L378.7 111.1L379.6 110.2L380.4 109.3L381.3 108.5L382.2 107.7L383.1 106.9L383.9 106.1L384.8 105.4L385.6 104.6L386.5 103.9L387.3 103.2L388.1 102.5L388.9 101.9L389.8 101.2L390.6 100.6L391.4 100.0L392.2 99.4L393.0 98.8L393.9 98.2L394.7 97.6L395.5 97.1L396.4 96.6L397.3 96.1L398.1 95.7L399.0 95.3L399.9 94.9L400.8 94.5L401.7 94.1L402.6 93.7L403.5 93.4L404.3 93.0L405.2 92.7L406.1 92.3L407.0 92.0L407.9 91.7L408.8 91.4L409.7 91.1L410.6 90.9L411.5 90.7L412.4 90.5L413.4 90.3L414.3 90.1L415.2 90.0L416.2 90.0L417.1 89.9L418.0 89.9L419.0 89.9L419.9 90.0L420.9 90.1L421.8 90.2L422.7 90.4L423.6 90.5L424.5 90.7L425.4 90.8L426.3 91.0L427.3 91.2L428.2 91.3L429.1 91.5L430.0 91.7L430.9 91.9L431.8 92.0L432.8 92.2L433.7 92.4L434.7 92.5L435.6 92.7L436.6 92.9L437.6 93.1L438.6 93.3L439.6 93.5L440.7 93.7L441.7 94.0L442.7 94.3L443.7 94.7L444.7 95.0L445.7 95.5L446.7 95.9L447.7 96.4L448.6 96.9L449.6 97.5L450.5 98.1L451.5 98.7L452.4 99.3L453.4 100.0L454.3 100.7L455.2 101.4L456.1 102.1L457.1 102.9L458.0 103.7L458.9 104.5L459.8 105.3L460.7 106.2L461.6 107.1L462.5 108.0L463.3 109.0L464.1 110.0L464.8 111.1L465.5 112.2L466.1 113.3L466.7 114.4L467.2 115.6L467.6 116.8L467.9 118.1L468.2 119.3L468.4 120.6L468.5 121.8L468.6 123.1L468.6 124.4L468.5 125.7L468.4 126.9L468.2 128.2L468.0 129.4L467.8 130.7L467.5 131.9L467.1 133.1L466.7 134.3L466.2 135.5L465.6 136.6L465.0 137.7L464.3 138.8L463.6 139.9L462.9 140.9L462.1 141.9L461.3 142.8L460.5 143.7L459.6 144.6L458.7 145.4L457.8 146.3L456.9 147.0L456.0 147.8L455.2 148.5L454.3 149.3L453.4 150.0L452.6 150.7L451.7 151.4L450.9 152.1L450.1 152.8L449.2 153.5L448.4 154.1L447.5 154.8L446.7 155.4L445.8 156.0L444.9 156.5L444.0 157.1L443.1 157.5L442.1 157.9L441.1 158.3L440.1 158.6L439.1 158.8L438.0 159.0L437.0 159.1L435.9 159.2L434.9 159.2L433.8 159.2L432.8 159.2L431.8 159.2L430.8 159.1L429.8 159.0L428.8 158.9L427.9 158.9L427.0 158.8L426.1 158.8L425.2 158.8L424.3 158.8L423.4 158.8L422.5 158.8L421.7 158.9L420.8 159.0L419.9 159.1L419.0 159.2L418.2 159.3L417.3 159.4L416.4 159.4L415.5 159.5L414.6 159.5L413.6 159.6L412.7 159.6L411.8 159.5L410.9 159.5L409.9 159.4L409.0 159.3L408.0 159.2L407.1 159.1L406.1 159.0L405.2 158.8L404.2 158.7L403.2 158.5L402.2 158.3L401.2 158.1L400.2 157.9L399.1 157.7L398.1 157.4L397.0 157.2L396.0 156.9L394.9 156.5L393.9 156.2L392.8 155.8L391.8 155.3L390.7 154.9L389.7 154.3L388.7 153.8L387.7 153.2L386.7 152.5L385.8 151.9L384.9 151.1L384.0 150.4L383.1 149.6L382.3 148.7L381.5 147.8L380.7 146.9L380.0 146.0L379.3 145.1L378.5 144.1L377.9 143.1L377.2 142.1L376.5 141.0L375.9 139.9L375.4 138.8L374.9 137.7L374.4 136.6L373.9 135.4L373.5 134.3L373.2 133.1L372.9 131.8L372.7 130.6L372.5 129.4L372.4 128.1L372.3 126.9Z" fill="none" stroke="rgb(84, 132, 217)" stroke-width="1.0"/>
<path d="M375.7 125.9L375.9 124.7L376.1 123.6L376.3 122.5L376.6 121.3L377.0 120.2L377.4 119.1L377.9 118.1L378.5 117.1L379.0 116.0L379.6 115.1L380.3 114.1L380.9 113.2L381.6 112.3L382.3 111.4L383.1 110.6L383.8 109.8L384.5 109.0L385.3 108.2L386.0 107.4L386.8 106.7L387.5 105.9L388.2 105.2L389.0 104.5L389.7 103.9L390.5 103.2L391.2 102.6L392.0 101.9L392.8 101.3L393.6 100.8L394.4 100.2L395.2 99.7L396.0 99.2L396.8 98.7L397.7 98.2L398.5 97.8L399.4 97.5L400.3 97.1L401.2 96.8L402.0 96.5L402.9 96.2L403.8 96.0L404.7 95.7L405.5 95.5L406.4 95.2L407.3 95.0L408.1 94.8L409.0 94.6L409.8 94.4L410.7 94.2L411.5 94.1L412.4 93.9L413.2 93.8L414.1 93.7L414.9 93.6L415.8 93.5L416.6 93.4L417.5 93.4L418.3 93.4L419.2 93.4L420.1 93.4L420.9 93.4L421.8 93.5L422.6 93.5L423.5 93.5L424.3 93.6L425.2 93.6L426.0 93.7L426.9 93.7L427.8 93.8L428.6 93.8L429.5 93.9L430.4 94.0L431.3 94.0L432.3 94.1L433.2 94.2L434.1 94.3L435.1 94.4L436.0 94.5L437.0 94.6L438.0 94.8L439.0 95.0L440.0 95.3L440.9 95.5L441.9 95.9L442.8 96.2L443.8 96.6L444.7 97.1L445.6 97.5L446.5 98.1L447.3 98.6L448.2 99.2L449.1 99.8L449.9 100.4L450.7 101.0L451.6 101.7L452.4 102.4L453.2 103.1L454.0 103.8L454.8 104.6L455.6 105.3L456.4 106.1L457.3 106.9L458.1 107.8L458.8 108.6L459.6 109.5L460.3 110.4L461.0 111.4L461.7 112.4L462.3 113.4L462.9 114.4L463.5 115.5L463.9 116.6L464.4 117.7L464.7 118.8L465.0 120.0L465.3 121.1L465.5 122.3L465.6 123.5L465.6 124.7L465.6 125.9L465.6 127.1L465.5 128.3L465.3 129.5L465.1 130.6L464.8 131.8L464.4 132.9L464.0 134.0L463.5 135.1L462.9 136.2L462.3 137.2L461.7 138.2L461.0 139.2L460.2 140.1L459.4 141.0L458.6 141.9L457.8 142.7L457.0 143.5L456.1 144.3L455.2 145.0L454.3 145.7L453.5 146.4L452.6 147.0L451.8 147.7L450.9 148.3L450.1 149.0L449.3 149.6L448.5 150.2L447.7 150.8L447.0 151.4L446.2 152.0L445.4 152.6L444.6 153.2L443.8 153.7L443.0 154.3L442.2 154.8L441.4 155.2L440.5 155.6L439.6 156.0L438.7 156.4L437.8 156.6L436.9 156.9L435.9 157.1L435.0 157.3L434.1 157.4L433.1 157.5L432.2 157.6L431.3 157.6L430.4 157.7L429.5 157.7L428.6 157.7L427.7 157.8L426.8 157.8L426.0 157.8L425.1 157.8L424.3 157.8L423.4 157.9L422.6 157.9L421.7 158.0L420.9 158.0L420.1 158.1L419.2 158.1L418.4 158.1L417.5 158.1L416.7 158.1L415.8 158.1L415.0 158.0L414.1 158.0L413.3 157.9L412.4 157.8L411.5 157.6L410.7 157.5L409.8 157.3L409.0 157.1L408.1 156.9L407.3 156.8L406.4 156.6L405.5 156.3L404.6 156.1L403.7 155.9L402.8 155.7L401.9 155.5L400.9 155.3L400.0 155.1L399.0 154.9L398.0 154.6L397.1 154.3L396.1 154.0L395.1 153.6L394.1 153.3L393.1 152.8L392.1 152.4L391.1 151.9L390.2 151.4L389.2 150.9L388.2 150.3L387.3 149.7L386.4 149.0L385.6 148.3L384.7 147.5L383.9 146.8L383.1 145.9L382.4 145.1L381.7 144.2L380.9 143.3L380.3 142.4L379.6 141.4L379.0 140.4L378.5 139.4L378.0 138.4L377.5 137.3L377.0 136.2L376.7 135.1L376.4 134.0L376.1 132.9L375.9 131.7L375.8 130.6L375.7 129.4L375.6 128.2L375.6 127.1Z" fill="none" stroke="rgb(90, 123, 216)" stroke-width="1.0"/>
<path d="M378.6 126.1L378.6 125.0L378.7 124.0L378.9 122.9L379.1 121.8L379.3 120.8L379.7 119.7L380.0 118.7L380.4 117.7L380.9 116.7L381.5 115.8L382.0 114.8L382.6 113.9L383.3 113.1L383.9 112.2L384.6 111.4L385.3 110.6L386.0 109.9L386.8 109.1L387.6 108.4L388.3 107.7L389.1 107.1L389.9 106.5L390.7 105.9L391.5 105.3L392.3 104.8L393.1 104.2L394.0 103.7L394.8 103.3L395.6 102.8L396.4 102.4L397.3 102.0L398.1 101.6L398.9 101.2L399.7 100.9L400.6 100.6L401.4 100.3L402.2 100.0L403.0 99.7L403.8 99.4L404.6 99.2L405.4 98.9L406.2 98.7L407.0 98.4L407.8 98.2L408.5 98.0L409.3 97.7L410.0 97.5L410.8 97.3L411.6 97.0L412.3 96.8L413.1 96.6L413.9 96.4L414.6 96.2L415.4 96.0L416.2 95.8L417.0 95.7L417.8 95.5L418.6 95.4L419.4 95.3L420.2 95.3L421.0 95.2L421.8 95.2L422.6 95.2L423.4 95.2L424.3 95.2L425.1 95.2L425.9 95.3L426.7 95.3L427.6 95.4L428.4 95.5L429.2 95.6L430.1 95.7L430.9 95.8L431.8 95.9L432.6 96.1L433.5 96.2L434.4 96.4L435.2 96.6L436.1 96.8L437.0 97.0L437.9 97.3L438.7 97.6L439.6 97.9L440.4 98.3L441.3 98.6L442.1 99.0L443.0 99.5L443.8 99.9L444.6 100.4L445.4 100.9L446.2 101.4L447.0 101.9L447.9 102.5L448.7 103.1L449.5 103.6L450.3 104.2L451.1 104.9L451.9 105.5L452.7 106.2L453.5 106.9L454.3 107.6L455.1 108.3L455.9 109.1L456.6 109.9L457.4 110.7L458.1 111.6L458.8 112.5L459.4 113.4L460.0 114.3L460.6 115.3L461.1 116.3L461.5 117.4L461.9 118.4L462.2 119.5L462.4 120.6L462.6 121.7L462.6 122.8L462.7 123.9L462.7 125.0L462.6 126.1L462.4 127.2L462.2 128.3L462.0 129.4L461.7 130.5L461.3 131.5L460.9 132.6L460.4 133.6L459.9 134.6L459.3 135.5L458.7 136.5L458.1 137.4L457.4 138.2L456.8 139.1L456.1 139.9L455.4 140.7L454.7 141.5L454.0 142.2L453.2 143.0L452.5 143.7L451.8 144.4L451.1 145.1L450.4 145.7L449.7 146.4L449.0 147.1L448.3 147.7L447.6 148.4L447.0 149.0L446.3 149.6L445.6 150.3L445.0 150.9L444.3 151.5L443.6 152.1L442.9 152.7L442.1 153.2L441.4 153.8L440.6 154.2L439.8 154.7L439.0 155.1L438.1 155.4L437.2 155.7L436.4 155.9L435.5 156.1L434.6 156.3L433.7 156.4L432.7 156.5L431.8 156.5L430.9 156.5L430.1 156.5L429.2 156.5L428.3 156.4L427.4 156.4L426.6 156.3L425.8 156.2L424.9 156.2L424.1 156.1L423.3 156.0L422.5 156.0L421.7 155.9L421.0 155.9L420.2 155.8L419.4 155.8L418.6 155.7L417.9 155.7L417.1 155.6L416.3 155.6L415.5 155.5L414.7 155.5L414.0 155.4L413.2 155.3L412.4 155.2L411.6 155.1L410.8 155.0L410.0 154.9L409.2 154.8L408.4 154.7L407.5 154.5L406.7 154.4L405.8 154.3L405.0 154.2L404.1 154.0L403.2 153.9L402.3 153.7L401.3 153.5L400.4 153.3L399.5 153.1L398.6 152.8L397.6 152.5L396.7 152.2L395.8 151.9L394.8 151.5L393.9 151.1L393.0 150.6L392.1 150.1L391.2 149.6L390.4 149.0L389.5 148.4L388.7 147.8L388.0 147.1L387.2 146.3L386.5 145.6L385.8 144.8L385.2 144.0L384.5 143.1L383.9 142.3L383.3 141.4L382.8 140.5L382.2 139.6L381.8 138.6L381.3 137.7L380.8 136.7L380.4 135.7L380.0 134.7L379.7 133.6L379.4 132.6L379.2 131.5L379.0 130.5L378.8 129.4L378.7 128.3L378.7 127.2Z" fill="none" stroke="rgb(96, 114, 215)" stroke-width="1.0"/>
<path d="M380.4 126.4L380.4 125.3L380.6 124.3L380.8 123.3L381.0 122.2L381.4 121.2L381.8 120.3L382.2 119.3L382.7 118.4L383.3 117.5L383.9 116.6L384.6 115.8L385.3 115.0L386.0 114.2L386.7 113.5L387.5 112.8L388.2 112.1L389.0 111.4L389.7 110.8L390.5 110.2L391.3 109.6L392.1 109.1L392.8 108.5L393.6 108.0L394.3 107.5L395.1 107.0L395.8 106.5L396.6 106.1L397.3 105.6L398.0 105.2L398.7 104.8L399.4 104.4L400.1 103.9L400.8 103.5L401.5 103.1L402.2 102.8L402.9 102.4L403.6 102.1L404.3 101.7L405.0 101.4L405.7 101.1L406.4 100.8L407.1 100.5L407.8 100.2L408.5 99.9L409.2 99.6L409.9 99.3L410.6 99.1L411.4 98.8L412.1 98.6L412.8 98.4L413.5 98.2L414.3 98.0L415.0 97.8L415.8 97.7L416.5 97.6L417.3 97.5L418.0 97.4L418.8 97.3L419.6 97.3L420.3 97.3L421.1 97.3L421.8 97.3L422.6 97.4L423.4 97.4L424.1 97.5L424.9 97.6L425.6 97.7L426.4 97.8L427.2 97.9L427.9 98.0L428.7 98.1L429.5 98.2L430.2 98.4L431.0 98.5L431.8 98.6L432.6 98.8L433.4 98.9L434.2 99.1L435.1 99.2L435.9 99.4L436.7 99.6L437.6 99.8L438.4 100.1L439.2 100.4L440.0 100.7L440.9 101.0L441.7 101.4L442.5 101.7L443.3 102.2L444.1 102.6L444.9 103.1L445.7 103.5L446.4 104.1L447.2 104.6L448.0 105.1L448.7 105.7L449.5 106.3L450.2 107.0L450.9 107.6L451.5 108.3L452.2 109.1L452.9 109.8L453.5 110.5L454.1 111.3L454.7 112.1L455.2 113.0L455.7 113.8L456.2 114.7L456.7 115.6L457.1 116.5L457.5 117.5L457.8 118.4L458.0 119.4L458.3 120.4L458.4 121.3L458.6 122.3L458.6 123.4L458.7 124.4L458.7 125.4L458.7 126.4L458.6 127.4L458.5 128.4L458.4 129.4L458.2 130.3L458.0 131.3L457.7 132.3L457.4 133.2L457.1 134.2L456.7 135.1L456.3 136.0L455.8 136.9L455.4 137.8L454.9 138.6L454.4 139.4L453.8 140.2L453.3 141.0L452.7 141.8L452.1 142.6L451.5 143.3L450.9 144.0L450.2 144.7L449.6 145.4L448.9 146.0L448.3 146.7L447.6 147.3L446.9 147.9L446.2 148.5L445.5 149.1L444.8 149.6L444.1 150.1L443.4 150.7L442.6 151.2L441.9 151.6L441.1 152.0L440.3 152.4L439.5 152.8L438.7 153.1L437.9 153.4L437.0 153.6L436.2 153.8L435.3 154.0L434.4 154.1L433.6 154.1L432.7 154.2L431.9 154.2L431.0 154.2L430.2 154.2L429.4 154.2L428.5 154.2L427.8 154.1L427.0 154.1L426.2 154.0L425.4 154.0L424.7 153.9L423.9 153.9L423.2 153.9L422.5 153.8L421.8 153.8L421.0 153.8L420.3 153.8L419.6 153.8L418.9 153.9L418.2 153.9L417.4 153.9L416.7 153.9L416.0 153.9L415.2 153.8L414.5 153.8L413.7 153.8L413.0 153.7L412.2 153.6L411.5 153.5L410.7 153.4L410.0 153.3L409.2 153.2L408.4 153.0L407.7 152.9L406.9 152.7L406.1 152.6L405.3 152.4L404.5 152.2L403.7 152.0L402.9 151.8L402.0 151.5L401.2 151.3L400.4 151.0L399.6 150.6L398.8 150.3L397.9 150.0L397.1 149.6L396.3 149.2L395.5 148.7L394.7 148.3L393.8 147.8L393.0 147.3L392.2 146.8L391.5 146.2L390.7 145.6L390.0 145.0L389.2 144.3L388.5 143.6L387.8 142.9L387.1 142.2L386.5 141.4L385.8 140.7L385.2 139.9L384.6 139.0L384.0 138.2L383.4 137.3L382.9 136.4L382.4 135.5L382.0 134.5L381.6 133.5L381.3 132.6L381.0 131.5L380.7 130.5L380.6 129.5L380.4 128.5L380.4 127.4Z" fill="none" stroke="rgb(105, 106, 214)" stroke-width="1.0"/>
<path d="M384.0 126.6L384.2 125.7L384.5 124.7L384.8 123.8L385.1 122.9L385.5 122.0L385.9 121.1L386.4 120.3L386.8 119.5L387.4 118.7L387.9 117.9L388.5 117.1L389.1 116.4L389.6 115.7L390.2 115.0L390.8 114.3L391.4 113.7L392.0 113.0L392.6 112.4L393.2 111.8L393.8 111.2L394.4 110.6L395.0 110.1L395.6 109.5L396.2 109.0L396.8 108.5L397.5 108.0L398.1 107.5L398.7 107.0L399.3 106.6L400.0 106.1L400.6 105.7L401.3 105.3L401.9 104.9L402.6 104.5L403.2 104.2L403.9 103.8L404.6 103.5L405.2 103.2L405.9 102.9L406.6 102.6L407.3 102.4L408.0 102.1L408.7 101.9L409.4 101.7L410.0 101.5L410.7 101.3L411.4 101.1L412.1 100.9L412.8 100.8L413.5 100.6L414.2 100.5L414.9 100.4L415.6 100.3L416.3 100.2L417.0 100.1L417.6 100.0L418.3 99.9L419.0 99.8L419.7 99.8L420.4 99.8L421.2 99.7L421.9 99.7L422.6 99.7L423.3 99.7L424.0 99.7L424.7 99.7L425.4 99.8L426.1 99.8L426.9 99.8L427.6 99.9L428.3 99.9L429.1 100.0L429.8 100.1L430.6 100.2L431.3 100.3L432.1 100.4L432.9 100.5L433.6 100.7L434.4 100.9L435.2 101.1L435.9 101.3L436.7 101.6L437.4 101.9L438.2 102.2L438.9 102.6L439.6 103.0L440.3 103.4L441.0 103.8L441.7 104.2L442.3 104.7L443.0 105.2L443.6 105.7L444.3 106.2L444.9 106.8L445.5 107.4L446.2 107.9L446.8 108.5L447.4 109.1L447.9 109.8L448.5 110.4L449.1 111.1L449.7 111.7L450.2 112.4L450.8 113.1L451.3 113.8L451.9 114.5L452.4 115.3L452.9 116.1L453.4 116.8L453.9 117.6L454.3 118.5L454.7 119.3L455.1 120.2L455.5 121.1L455.8 122.0L456.1 122.9L456.3 123.8L456.5 124.7L456.6 125.7L456.7 126.6L456.8 127.6L456.8 128.5L456.8 129.5L456.7 130.4L456.6 131.4L456.4 132.3L456.1 133.2L455.8 134.1L455.5 135.0L455.1 135.9L454.6 136.7L454.1 137.5L453.6 138.3L453.0 139.1L452.5 139.9L451.8 140.6L451.2 141.3L450.6 142.0L449.9 142.6L449.2 143.2L448.5 143.8L447.8 144.4L447.1 144.9L446.4 145.5L445.7 146.0L445.0 146.5L444.3 147.0L443.6 147.4L442.9 147.9L442.1 148.3L441.4 148.7L440.7 149.1L440.0 149.5L439.3 149.9L438.6 150.2L437.8 150.5L437.1 150.8L436.4 151.1L435.6 151.3L434.8 151.5L434.1 151.7L433.3 151.9L432.6 152.0L431.8 152.1L431.0 152.2L430.3 152.3L429.6 152.3L428.8 152.4L428.1 152.4L427.4 152.4L426.7 152.4L425.9 152.4L425.2 152.4L424.5 152.4L423.8 152.4L423.2 152.4L422.5 152.4L421.8 152.4L421.1 152.4L420.4 152.4L419.8 152.3L419.1 152.3L418.4 152.3L417.8 152.2L417.1 152.2L416.4 152.1L415.7 152.0L415.1 152.0L414.4 151.9L413.7 151.7L413.0 151.6L412.4 151.5L411.7 151.4L411.0 151.3L410.3 151.1L409.6 151.0L408.9 150.9L408.2 150.7L407.4 150.6L406.7 150.5L405.9 150.3L405.1 150.2L404.4 150.0L403.6 149.8L402.8 149.6L402.0 149.4L401.2 149.2L400.3 149.0L399.5 148.7L398.6 148.4L397.8 148.1L397.0 147.8L396.1 147.4L395.3 147.0L394.4 146.6L393.6 146.1L392.8 145.6L392.0 145.1L391.3 144.5L390.5 143.9L389.8 143.2L389.1 142.6L388.5 141.8L387.9 141.1L387.3 140.3L386.7 139.5L386.2 138.7L385.7 137.9L385.3 137.0L384.9 136.1L384.6 135.2L384.3 134.3L384.1 133.3L383.9 132.4L383.8 131.4L383.8 130.5L383.8 129.5L383.8 128.5L383.9 127.6Z" fill="none" stroke="rgb(116, 99, 212)" stroke-width="1.0"/>
<path d="M387.9 126.8L388.0 126.0L388.1 125.1L388.3 124.3L388.4 123.5L388.7 122.6L388.9 121.8L389.2 121.0L389.5 120.2L389.9 119.5L390.3 118.7L390.7 118.0L391.1 117.3L391.6 116.6L392.1 115.9L392.6 115.2L393.1 114.6L393.6 114.0L394.2 113.4L394.7 112.8L395.3 112.2L395.9 111.7L396.5 111.2L397.1 110.7L397.7 110.2L398.4 109.8L399.0 109.4L399.6 108.9L400.3 108.6L400.9 108.2L401.5 107.8L402.2 107.5L402.8 107.1L403.4 106.8L404.1 106.5L404.7 106.2L405.3 105.9L406.0 105.6L406.6 105.3L407.2 105.1L407.9 104.8L408.5 104.6L409.1 104.3L409.7 104.1L410.4 103.9L411.0 103.6L411.6 103.4L412.2 103.2L412.8 103.0L413.5 102.8L414.1 102.6L414.7 102.4L415.4 102.3L416.0 102.1L416.6 102.0L417.3 101.8L417.9 101.7L418.6 101.6L419.3 101.5L419.9 101.5L420.6 101.4L421.2 101.4L421.9 101.4L422.6 101.4L423.3 101.4L423.9 101.5L424.6 101.5L425.3 101.6L425.9 101.7L426.6 101.8L427.3 101.9L427.9 102.1L428.6 102.3L429.2 102.4L429.9 102.6L430.5 102.8L431.2 103.0L431.8 103.2L432.5 103.5L433.1 103.7L433.8 104.0L434.4 104.3L435.0 104.6L435.7 104.9L436.3 105.2L436.9 105.6L437.5 105.9L438.1 106.3L438.8 106.7L439.4 107.0L440.0 107.4L440.6 107.8L441.3 108.2L441.9 108.6L442.6 109.0L443.2 109.5L443.9 109.9L444.5 110.4L445.2 110.9L445.9 111.3L446.5 111.9L447.2 112.4L447.8 113.0L448.5 113.5L449.1 114.1L449.7 114.8L450.4 115.4L450.9 116.1L451.5 116.8L452.1 117.5L452.6 118.3L453.1 119.0L453.5 119.8L453.9 120.7L454.2 121.5L454.5 122.4L454.7 123.3L454.9 124.1L455.0 125.0L455.1 125.9L455.1 126.8L455.1 127.7L455.0 128.6L454.8 129.5L454.6 130.4L454.4 131.3L454.1 132.1L453.7 133.0L453.3 133.8L452.9 134.6L452.4 135.4L451.9 136.1L451.4 136.9L450.8 137.6L450.3 138.2L449.7 138.9L449.1 139.6L448.5 140.2L448.0 140.8L447.4 141.4L446.8 142.0L446.1 142.5L445.5 143.0L444.9 143.6L444.3 144.1L443.7 144.6L443.1 145.0L442.4 145.5L441.8 146.0L441.2 146.4L440.6 146.9L440.0 147.3L439.3 147.7L438.7 148.1L438.1 148.4L437.4 148.8L436.7 149.1L436.0 149.3L435.4 149.6L434.7 149.8L434.0 150.0L433.2 150.2L432.5 150.3L431.8 150.4L431.1 150.5L430.4 150.5L429.7 150.6L429.0 150.6L428.3 150.6L427.6 150.6L426.9 150.6L426.3 150.6L425.6 150.5L425.0 150.5L424.3 150.4L423.7 150.4L423.0 150.3L422.4 150.2L421.8 150.2L421.2 150.2L420.6 150.1L420.0 150.1L419.4 150.1L418.8 150.1L418.1 150.0L417.5 150.0L416.9 150.0L416.3 150.0L415.7 150.0L415.0 150.0L414.4 150.0L413.7 150.0L413.1 149.9L412.4 149.9L411.7 149.9L411.0 149.9L410.3 149.8L409.6 149.8L408.9 149.8L408.2 149.7L407.4 149.7L406.6 149.6L405.9 149.5L405.1 149.3L404.3 149.2L403.6 149.0L402.8 148.8L402.0 148.6L401.2 148.3L400.4 148.1L399.7 147.7L398.9 147.4L398.2 147.0L397.4 146.6L396.7 146.2L396.0 145.7L395.4 145.2L394.7 144.6L394.1 144.0L393.5 143.4L392.9 142.8L392.4 142.1L391.9 141.4L391.4 140.7L391.0 140.0L390.6 139.3L390.2 138.5L389.8 137.7L389.5 136.9L389.2 136.1L388.9 135.3L388.7 134.5L388.5 133.7L388.3 132.8L388.1 132.0L388.0 131.1L388.0 130.3L387.9 129.4L387.9 128.6L387.9 127.7Z" fill="none" stroke="rgb(127, 92, 211)" stroke-width="1.0"/>
<path d="M390.2 127.1L390.2 126.3L390.3 125.5L390.4 124.7L390.6 123.9L390.8 123.1L391.1 122.4L391.4 121.6L391.8 120.9L392.1 120.2L392.5 119.5L393.0 118.9L393.4 118.2L393.9 117.6L394.4 117.0L394.9 116.4L395.4 115.8L396.0 115.3L396.5 114.7L397.1 114.2L397.6 113.7L398.2 113.3L398.7 112.8L399.3 112.3L399.8 111.9L400.4 111.5L400.9 111.1L401.5 110.7L402.1 110.3L402.6 109.9L403.1 109.5L403.7 109.1L404.2 108.8L404.8 108.4L405.3 108.1L405.9 107.7L406.4 107.4L407.0 107.1L407.5 106.8L408.1 106.5L408.7 106.2L409.2 106.0L409.8 105.7L410.4 105.5L411.0 105.2L411.6 105.0L412.2 104.8L412.8 104.7L413.4 104.5L414.0 104.4L414.6 104.3L415.2 104.2L415.8 104.1L416.4 104.0L417.1 104.0L417.7 104.0L418.3 103.9L418.9 104.0L419.5 104.0L420.1 104.0L420.7 104.1L421.3 104.2L421.9 104.3L422.5 104.4L423.1 104.5L423.7 104.6L424.2 104.7L424.8 104.9L425.4 105.0L426.0 105.1L426.5 105.3L427.1 105.4L427.7 105.6L428.3 105.7L428.9 105.8L429.4 106.0L430.0 106.1L430.6 106.3L431.2 106.4L431.9 106.6L432.5 106.7L433.1 106.9L433.7 107.0L434.4 107.2L435.0 107.4L435.6 107.6L436.3 107.8L436.9 108.1L437.6 108.3L438.3 108.6L438.9 108.9L439.6 109.2L440.3 109.5L440.9 109.8L441.6 110.2L442.3 110.5L442.9 110.9L443.6 111.4L444.2 111.8L444.8 112.3L445.4 112.8L446.0 113.3L446.6 113.9L447.1 114.5L447.7 115.1L448.2 115.7L448.7 116.3L449.1 117.0L449.6 117.7L450.0 118.4L450.3 119.1L450.7 119.9L451.0 120.7L451.2 121.4L451.4 122.2L451.6 123.0L451.7 123.8L451.8 124.6L451.9 125.4L451.9 126.3L451.9 127.1L451.9 127.9L451.8 128.7L451.6 129.5L451.5 130.3L451.3 131.1L451.0 131.9L450.8 132.7L450.5 133.4L450.1 134.1L449.8 134.9L449.4 135.6L449.0 136.3L448.6 136.9L448.1 137.6L447.6 138.2L447.2 138.9L446.7 139.5L446.2 140.0L445.6 140.6L445.1 141.2L444.5 141.7L444.0 142.2L443.4 142.7L442.8 143.1L442.2 143.6L441.6 144.0L441.0 144.4L440.4 144.8L439.7 145.1L439.1 145.5L438.5 145.8L437.8 146.1L437.2 146.4L436.6 146.6L435.9 146.9L435.3 147.1L434.6 147.3L434.0 147.5L433.3 147.6L432.6 147.7L432.0 147.9L431.3 148.0L430.7 148.0L430.1 148.1L429.4 148.2L428.8 148.2L428.2 148.3L427.6 148.3L427.0 148.4L426.4 148.4L425.8 148.4L425.3 148.5L424.7 148.5L424.1 148.6L423.5 148.6L423.0 148.6L422.4 148.7L421.8 148.8L421.3 148.8L420.7 148.9L420.1 148.9L419.6 149.0L419.0 149.1L418.4 149.1L417.8 149.2L417.2 149.3L416.6 149.3L416.0 149.3L415.4 149.3L414.7 149.4L414.1 149.3L413.5 149.3L412.9 149.3L412.2 149.2L411.6 149.1L410.9 149.0L410.3 148.9L409.6 148.8L409.0 148.7L408.3 148.5L407.7 148.3L407.0 148.1L406.4 147.9L405.8 147.7L405.1 147.4L404.5 147.1L403.9 146.8L403.2 146.5L402.6 146.1L402.0 145.8L401.4 145.4L400.8 145.0L400.2 144.6L399.6 144.1L399.1 143.7L398.5 143.2L398.0 142.7L397.4 142.2L396.9 141.7L396.4 141.1L395.9 140.6L395.4 140.0L394.9 139.4L394.4 138.8L394.0 138.2L393.5 137.5L393.1 136.9L392.7 136.2L392.3 135.5L392.0 134.8L391.6 134.1L391.3 133.3L391.1 132.6L390.8 131.8L390.6 131.0L390.5 130.3L390.3 129.5L390.2 128.7L390.2 127.9Z" fill="none" stroke="rgb(138, 86, 209)" stroke-width="1.0"/>
<path d="M393.4 127.3L393.5 126.6L393.6 125.9L393.7 125.2L393.9 124.5L394.1 123.8L394.3 123.1L394.6 122.4L394.8 121.8L395.1 121.1L395.4 120.5L395.8 119.9L396.1 119.3L396.5 118.7L396.8 118.1L397.2 117.5L397.6 117.0L398.0 116.4L398.4 115.9L398.8 115.4L399.3 114.9L399.7 114.4L400.2 113.9L400.6 113.4L401.1 113.0L401.6 112.5L402.1 112.1L402.6 111.7L403.1 111.4L403.6 111.0L404.2 110.6L404.7 110.3L405.2 110.0L405.8 109.7L406.4 109.4L406.9 109.2L407.5 108.9L408.0 108.7L408.6 108.5L409.2 108.3L409.8 108.1L410.4 108.0L410.9 107.9L411.5 107.8L412.1 107.7L412.7 107.6L413.2 107.5L413.8 107.5L414.4 107.4L414.9 107.4L415.5 107.4L416.0 107.4L416.6 107.3L417.1 107.3L417.7 107.3L418.2 107.3L418.7 107.3L419.3 107.4L419.8 107.4L420.3 107.4L420.8 107.4L421.4 107.4L421.9 107.4L422.4 107.4L422.9 107.4L423.5 107.4L424.0 107.4L424.5 107.4L425.1 107.5L425.6 107.5L426.2 107.5L426.7 107.5L427.3 107.5L427.8 107.6L428.4 107.6L429.0 107.7L429.6 107.7L430.2 107.8L430.7 107.9L431.3 108.0L431.9 108.1L432.5 108.2L433.1 108.4L433.7 108.6L434.3 108.8L434.9 109.0L435.5 109.2L436.1 109.5L436.7 109.8L437.2 110.0L437.8 110.3L438.4 110.7L438.9 111.0L439.5 111.4L440.0 111.8L440.6 112.2L441.1 112.6L441.7 113.0L442.2 113.5L442.7 113.9L443.2 114.4L443.7 114.9L444.1 115.5L444.6 116.0L445.0 116.5L445.5 117.1L445.9 117.7L446.3 118.3L446.7 118.9L447.1 119.5L447.5 120.2L447.8 120.8L448.1 121.5L448.4 122.2L448.7 122.9L448.9 123.6L449.1 124.3L449.3 125.1L449.4 125.8L449.5 126.6L449.5 127.3L449.5 128.1L449.5 128.8L449.4 129.6L449.3 130.3L449.1 131.0L448.9 131.8L448.6 132.5L448.3 133.2L448.0 133.8L447.6 134.5L447.2 135.1L446.7 135.7L446.3 136.3L445.8 136.9L445.3 137.4L444.8 138.0L444.2 138.5L443.7 139.0L443.2 139.4L442.6 139.9L442.0 140.3L441.5 140.7L440.9 141.1L440.3 141.5L439.7 141.8L439.2 142.1L438.6 142.5L438.0 142.8L437.5 143.1L436.9 143.4L436.4 143.7L435.8 144.0L435.3 144.2L434.8 144.5L434.2 144.8L433.7 145.0L433.2 145.2L432.6 145.5L432.1 145.7L431.6 145.9L431.1 146.1L430.5 146.3L430.0 146.5L429.5 146.7L428.9 146.9L428.4 147.0L427.9 147.2L427.3 147.3L426.8 147.4L426.3 147.6L425.7 147.7L425.2 147.8L424.7 147.9L424.1 147.9L423.6 148.0L423.0 148.1L422.5 148.1L421.9 148.1L421.4 148.1L420.8 148.1L420.3 148.1L419.8 148.1L419.2 148.1L418.7 148.1L418.1 148.0L417.6 148.0L417.0 147.9L416.5 147.8L415.9 147.7L415.4 147.6L414.9 147.5L414.3 147.4L413.8 147.3L413.2 147.1L412.7 147.0L412.2 146.8L411.6 146.7L411.1 146.5L410.5 146.3L410.0 146.2L409.4 146.0L408.9 145.8L408.3 145.6L407.7 145.4L407.2 145.1L406.6 144.9L406.0 144.7L405.4 144.4L404.9 144.2L404.3 143.9L403.7 143.6L403.1 143.3L402.5 143.0L401.9 142.6L401.3 142.3L400.8 141.9L400.2 141.5L399.6 141.1L399.1 140.6L398.6 140.2L398.0 139.7L397.5 139.2L397.1 138.7L396.6 138.1L396.2 137.5L395.8 136.9L395.4 136.3L395.0 135.7L394.7 135.1L394.4 134.4L394.2 133.7L393.9 133.0L393.7 132.3L393.6 131.6L393.5 130.9L393.4 130.2L393.3 129.5L393.3 128.8L393.3 128.0Z" fill="none" stroke="rgb(149, 79, 207)" stroke-width="1.0"/>
<path d="M396.1 127.6L396.1 126.9L396.1 126.2L396.1 125.6L396.2 124.9L396.3 124.3L396.4 123.7L396.5 123.0L396.7 122.4L396.9 121.8L397.1 121.2L397.4 120.6L397.7 120.0L398.0 119.4L398.4 118.9L398.7 118.3L399.1 117.8L399.5 117.3L400.0 116.9L400.4 116.4L400.9 116.0L401.4 115.6L401.9 115.2L402.4 114.8L403.0 114.5L403.5 114.2L404.1 113.9L404.6 113.6L405.2 113.3L405.7 113.1L406.3 112.9L406.8 112.6L407.4 112.4L407.9 112.3L408.4 112.1L409.0 111.9L409.5 111.8L410.0 111.6L410.5 111.5L411.0 111.3L411.5 111.2L412.0 111.1L412.5 111.0L413.0 110.9L413.5 110.8L414.0 110.6L414.4 110.5L414.9 110.4L415.4 110.3L415.8 110.2L416.3 110.1L416.8 110.0L417.2 109.9L417.7 109.8L418.1 109.7L418.6 109.6L419.1 109.5L419.5 109.4L420.0 109.3L420.5 109.3L421.0 109.2L421.5 109.2L421.9 109.1L422.4 109.1L422.9 109.1L423.4 109.0L423.9 109.0L424.4 109.0L424.9 109.1L425.4 109.1L425.9 109.1L426.4 109.2L426.9 109.3L427.4 109.4L427.9 109.4L428.4 109.5L428.9 109.7L429.4 109.8L429.9 109.9L430.5 110.1L431.0 110.3L431.5 110.4L432.0 110.6L432.5 110.8L433.0 111.0L433.5 111.3L434.0 111.5L434.5 111.7L435.0 112.0L435.5 112.2L436.0 112.5L436.6 112.8L437.1 113.1L437.6 113.4L438.1 113.7L438.6 114.0L439.2 114.3L439.7 114.7L440.2 115.1L440.7 115.5L441.2 115.9L441.7 116.3L442.2 116.7L442.6 117.2L443.1 117.7L443.5 118.2L444.0 118.7L444.4 119.3L444.7 119.8L445.1 120.4L445.4 121.0L445.7 121.6L445.9 122.2L446.2 122.9L446.3 123.5L446.5 124.2L446.6 124.9L446.6 125.5L446.6 126.2L446.6 126.9L446.5 127.6L446.4 128.2L446.3 128.9L446.1 129.5L445.9 130.2L445.6 130.8L445.3 131.4L445.0 132.0L444.7 132.6L444.3 133.2L443.9 133.7L443.5 134.2L443.1 134.8L442.7 135.3L442.3 135.7L441.9 136.2L441.5 136.7L441.1 137.1L440.7 137.6L440.3 138.0L439.8 138.5L439.4 138.9L439.0 139.3L438.6 139.7L438.2 140.1L437.8 140.5L437.4 140.8L437.0 141.2L436.6 141.6L436.1 141.9L435.7 142.3L435.3 142.6L434.9 143.0L434.4 143.3L434.0 143.6L433.5 143.9L433.0 144.2L432.6 144.4L432.1 144.7L431.6 144.9L431.1 145.1L430.6 145.3L430.1 145.5L429.6 145.6L429.1 145.8L428.6 145.9L428.0 146.0L427.5 146.1L427.0 146.1L426.5 146.2L426.0 146.2L425.5 146.2L424.9 146.2L424.4 146.2L423.9 146.2L423.4 146.1L422.9 146.1L422.4 146.0L421.9 146.0L421.5 145.9L421.0 145.9L420.5 145.8L420.0 145.7L419.5 145.7L419.1 145.6L418.6 145.6L418.1 145.5L417.7 145.4L417.2 145.4L416.7 145.3L416.2 145.3L415.7 145.2L415.3 145.1L414.8 145.1L414.3 145.0L413.8 144.9L413.3 144.8L412.8 144.8L412.2 144.7L411.7 144.6L411.2 144.5L410.7 144.4L410.1 144.2L409.6 144.1L409.1 143.9L408.6 143.7L408.0 143.6L407.5 143.3L407.0 143.1L406.4 142.9L405.9 142.6L405.4 142.3L404.9 142.1L404.4 141.7L403.9 141.4L403.4 141.0L402.9 140.7L402.4 140.3L402.0 139.9L401.6 139.4L401.1 139.0L400.7 138.5L400.3 138.1L400.0 137.6L399.6 137.1L399.3 136.5L398.9 136.0L398.6 135.5L398.3 134.9L398.0 134.3L397.8 133.8L397.5 133.2L397.3 132.6L397.1 132.0L396.9 131.4L396.7 130.7L396.5 130.1L396.4 129.5L396.3 128.8L396.2 128.2Z" fill="none" stroke="rgb(160, 72, 206)" stroke-width="1.0"/>
<path d="M398.0 127.8L398.1 127.2L398.1 126.6L398.2 126.0L398.3 125.4L398.5 124.8L398.7 124.2L398.9 123.7L399.2 123.1L399.5 122.6L399.9 122.1L400.2 121.6L400.6 121.1L401.0 120.7L401.4 120.2L401.9 119.8L402.3 119.4L402.8 119.0L403.2 118.7L403.7 118.3L404.2 118.0L404.6 117.7L405.1 117.4L405.6 117.1L406.0 116.8L406.5 116.6L406.9 116.3L407.4 116.1L407.8 115.8L408.3 115.6L408.7 115.4L409.1 115.2L409.5 115.0L410.0 114.7L410.4 114.5L410.8 114.3L411.2 114.1L411.6 113.9L412.0 113.7L412.4 113.5L412.8 113.3L413.2 113.2L413.6 113.0L414.0 112.8L414.4 112.7L414.8 112.5L415.2 112.4L415.6 112.2L416.0 112.1L416.4 112.0L416.8 111.9L417.3 111.8L417.7 111.7L418.1 111.7L418.5 111.6L419.0 111.5L419.4 111.5L419.8 111.5L420.2 111.5L420.7 111.4L421.1 111.4L421.5 111.4L422.0 111.5L422.4 111.5L422.8 111.5L423.2 111.5L423.7 111.6L424.1 111.6L424.5 111.7L425.0 111.7L425.4 111.8L425.8 111.8L426.3 111.9L426.7 112.0L427.1 112.0L427.6 112.1L428.0 112.2L428.5 112.3L429.0 112.4L429.4 112.5L429.9 112.6L430.4 112.7L430.8 112.8L431.3 112.9L431.8 113.1L432.3 113.2L432.8 113.4L433.2 113.6L433.7 113.8L434.2 114.0L434.7 114.2L435.2 114.4L435.7 114.7L436.1 115.0L436.6 115.2L437.1 115.5L437.5 115.9L437.9 116.2L438.3 116.6L438.8 117.0L439.1 117.4L439.5 117.8L439.8 118.2L440.2 118.7L440.5 119.2L440.8 119.7L441.0 120.1L441.3 120.7L441.5 121.2L441.7 121.7L441.9 122.2L442.0 122.8L442.1 123.3L442.2 123.9L442.3 124.4L442.4 125.0L442.4 125.5L442.5 126.1L442.5 126.7L442.5 127.2L442.4 127.8L442.4 128.3L442.3 128.9L442.2 129.5L442.1 130.0L442.0 130.5L441.9 131.1L441.7 131.6L441.6 132.1L441.4 132.7L441.2 133.2L441.0 133.7L440.8 134.2L440.5 134.7L440.3 135.2L440.0 135.6L439.8 136.1L439.5 136.6L439.2 137.0L438.9 137.5L438.6 137.9L438.3 138.3L437.9 138.7L437.6 139.1L437.2 139.5L436.8 139.8L436.4 140.2L436.0 140.5L435.6 140.8L435.1 141.1L434.7 141.4L434.3 141.6L433.8 141.9L433.3 142.1L432.9 142.3L432.4 142.5L431.9 142.7L431.4 142.8L431.0 143.0L430.5 143.1L430.0 143.2L429.5 143.3L429.1 143.4L428.6 143.5L428.1 143.5L427.6 143.6L427.2 143.6L426.7 143.7L426.3 143.7L425.8 143.7L425.4 143.7L424.9 143.7L424.5 143.7L424.1 143.8L423.6 143.8L423.2 143.8L422.8 143.8L422.4 143.8L421.9 143.8L421.5 143.8L421.1 143.8L420.7 143.7L420.3 143.7L419.9 143.7L419.4 143.7L419.0 143.7L418.6 143.7L418.2 143.7L417.7 143.7L417.3 143.6L416.9 143.6L416.4 143.5L416.0 143.5L415.6 143.4L415.1 143.3L414.7 143.2L414.3 143.1L413.8 143.0L413.4 142.9L413.0 142.8L412.5 142.6L412.1 142.5L411.7 142.3L411.2 142.1L410.8 142.0L410.4 141.8L410.0 141.6L409.5 141.3L409.1 141.1L408.7 140.9L408.2 140.6L407.8 140.4L407.4 140.1L407.0 139.9L406.5 139.6L406.1 139.3L405.7 139.0L405.2 138.7L404.8 138.4L404.4 138.0L403.9 137.7L403.5 137.3L403.1 137.0L402.7 136.6L402.2 136.2L401.8 135.8L401.4 135.3L401.0 134.9L400.7 134.4L400.3 134.0L400.0 133.5L399.6 132.9L399.3 132.4L399.1 131.9L398.8 131.3L398.6 130.8L398.4 130.2L398.3 129.6L398.2 129.0L398.1 128.4Z" fill="none" stroke="rgb(171, 65, 204)" stroke-width="1.0"/>
<path d="M402.0 128.0L402.2 127.5L402.3 127.0L402.5 126.5L402.6 126.1L402.8 125.6L403.0 125.1L403.3 124.7L403.5 124.3L403.8 123.8L404.1 123.4L404.3 123.0L404.6 122.6L404.9 122.2L405.2 121.9L405.5 121.5L405.8 121.2L406.1 120.8L406.4 120.5L406.7 120.1L407.0 119.8L407.4 119.5L407.7 119.2L408.0 118.9L408.3 118.7L408.7 118.4L409.0 118.1L409.3 117.9L409.7 117.6L410.0 117.4L410.4 117.2L410.7 116.9L411.1 116.7L411.4 116.5L411.8 116.4L412.1 116.2L412.5 116.0L412.9 115.8L413.2 115.7L413.6 115.5L414.0 115.4L414.3 115.3L414.7 115.2L415.1 115.1L415.4 115.0L415.8 114.9L416.2 114.8L416.5 114.8L416.9 114.7L417.3 114.6L417.6 114.6L418.0 114.5L418.4 114.5L418.7 114.4L419.1 114.4L419.4 114.4L419.8 114.3L420.2 114.3L420.5 114.2L420.9 114.2L421.2 114.2L421.6 114.1L422.0 114.1L422.3 114.1L422.7 114.1L423.1 114.0L423.5 114.0L423.8 114.0L424.2 114.0L424.6 114.0L425.0 114.0L425.4 114.0L425.8 114.0L426.2 114.1L426.6 114.1L427.0 114.2L427.4 114.2L427.8 114.3L428.2 114.4L428.6 114.5L429.0 114.6L429.4 114.8L429.8 114.9L430.1 115.1L430.5 115.3L430.9 115.4L431.3 115.6L431.6 115.9L432.0 116.1L432.3 116.3L432.7 116.6L433.0 116.8L433.3 117.1L433.7 117.4L434.0 117.7L434.3 118.0L434.6 118.3L434.9 118.6L435.2 119.0L435.5 119.3L435.7 119.7L436.0 120.0L436.3 120.4L436.5 120.7L436.8 121.1L437.0 121.5L437.3 121.9L437.5 122.3L437.8 122.7L438.0 123.1L438.2 123.5L438.5 123.9L438.7 124.3L438.9 124.8L439.1 125.2L439.2 125.7L439.4 126.1L439.6 126.6L439.7 127.1L439.8 127.5L439.9 128.0L440.0 128.5L440.0 129.0L440.0 129.5L440.0 130.0L440.0 130.5L439.9 131.0L439.8 131.5L439.7 131.9L439.5 132.4L439.4 132.9L439.2 133.3L438.9 133.8L438.7 134.2L438.4 134.6L438.1 135.0L437.8 135.4L437.5 135.8L437.2 136.2L436.8 136.5L436.5 136.8L436.1 137.1L435.8 137.5L435.4 137.7L435.0 138.0L434.6 138.3L434.2 138.5L433.8 138.7L433.4 139.0L433.0 139.2L432.6 139.4L432.2 139.6L431.8 139.7L431.4 139.9L431.0 140.1L430.6 140.2L430.2 140.4L429.8 140.5L429.4 140.6L429.0 140.8L428.7 140.9L428.3 141.0L427.9 141.1L427.5 141.2L427.2 141.3L426.8 141.4L426.4 141.5L426.0 141.6L425.7 141.6L425.3 141.7L424.9 141.7L424.5 141.8L424.2 141.8L423.8 141.8L423.4 141.9L423.1 141.9L422.7 141.9L422.3 141.9L422.0 141.8L421.6 141.8L421.2 141.8L420.9 141.7L420.5 141.7L420.2 141.6L419.8 141.6L419.5 141.5L419.1 141.5L418.8 141.4L418.4 141.3L418.1 141.2L417.7 141.2L417.4 141.1L417.0 141.0L416.7 140.9L416.3 140.8L416.0 140.7L415.6 140.6L415.3 140.6L414.9 140.5L414.5 140.4L414.2 140.3L413.8 140.2L413.4 140.1L413.0 140.0L412.6 139.9L412.2 139.8L411.8 139.6L411.4 139.5L411.0 139.4L410.6 139.3L410.1 139.1L409.7 139.0L409.3 138.8L408.8 138.6L408.4 138.5L407.9 138.2L407.5 138.0L407.0 137.8L406.6 137.5L406.2 137.3L405.7 137.0L405.3 136.7L404.9 136.3L404.5 136.0L404.2 135.6L403.8 135.2L403.5 134.8L403.2 134.4L403.0 134.0L402.7 133.5L402.5 133.0L402.3 132.6L402.2 132.1L402.0 131.6L402.0 131.1L401.9 130.6L401.9 130.1L401.9 129.6L401.9 129.0L402.0 128.5Z" fill="none" stroke="rgb(182, 58, 203)" stroke-width="1.0"/>
<path d="M406.5 128.3L406.6 127.9L406.6 127.5L406.7 127.1L406.7 126.7L406.8 126.3L406.9 126.0L407.0 125.6L407.1 125.2L407.3 124.9L407.4 124.5L407.6 124.2L407.8 123.8L408.0 123.5L408.2 123.2L408.4 122.9L408.6 122.6L408.9 122.3L409.1 122.0L409.4 121.8L409.6 121.5L409.9 121.3L410.2 121.0L410.5 120.8L410.8 120.6L411.1 120.4L411.4 120.2L411.7 120.0L412.0 119.8L412.3 119.7L412.6 119.5L412.9 119.4L413.2 119.2L413.5 119.1L413.8 119.0L414.1 118.8L414.4 118.7L414.7 118.6L415.0 118.5L415.3 118.4L415.6 118.3L415.9 118.1L416.2 118.0L416.4 117.9L416.7 117.8L417.0 117.7L417.3 117.6L417.6 117.5L417.9 117.4L418.1 117.3L418.4 117.3L418.7 117.2L419.0 117.1L419.3 117.0L419.6 116.9L419.9 116.9L420.2 116.8L420.5 116.7L420.8 116.7L421.1 116.6L421.4 116.6L421.7 116.6L422.0 116.6L422.3 116.6L422.6 116.6L422.9 116.6L423.2 116.6L423.5 116.6L423.8 116.7L424.1 116.7L424.4 116.8L424.7 116.9L425.0 117.0L425.3 117.1L425.6 117.2L425.9 117.3L426.2 117.4L426.5 117.5L426.8 117.7L427.0 117.8L427.3 118.0L427.6 118.1L427.8 118.3L428.1 118.4L428.4 118.6L428.7 118.8L428.9 118.9L429.2 119.1L429.5 119.3L429.7 119.4L430.0 119.6L430.3 119.8L430.6 120.0L430.9 120.2L431.2 120.3L431.5 120.5L431.7 120.7L432.1 120.9L432.4 121.1L432.7 121.3L433.0 121.6L433.3 121.8L433.6 122.0L433.9 122.3L434.2 122.6L434.4 122.8L434.7 123.1L435.0 123.4L435.3 123.7L435.5 124.1L435.8 124.4L436.0 124.8L436.2 125.1L436.4 125.5L436.5 125.9L436.7 126.2L436.8 126.6L436.9 127.0L437.0 127.4L437.0 127.9L437.0 128.3L437.0 128.7L437.0 129.1L436.9 129.5L436.8 129.9L436.7 130.3L436.6 130.7L436.4 131.1L436.3 131.4L436.1 131.8L435.9 132.1L435.7 132.5L435.4 132.8L435.2 133.2L435.0 133.5L434.7 133.8L434.4 134.1L434.2 134.4L433.9 134.7L433.7 134.9L433.4 135.2L433.1 135.5L432.8 135.7L432.6 135.9L432.3 136.2L432.0 136.4L431.7 136.6L431.4 136.8L431.1 137.0L430.8 137.2L430.5 137.4L430.2 137.6L429.9 137.8L429.6 137.9L429.3 138.1L429.0 138.2L428.7 138.3L428.4 138.5L428.1 138.6L427.7 138.7L427.4 138.8L427.1 138.8L426.8 138.9L426.5 139.0L426.2 139.0L425.8 139.0L425.5 139.1L425.2 139.1L424.9 139.1L424.6 139.1L424.3 139.1L424.0 139.1L423.7 139.1L423.4 139.1L423.1 139.0L422.8 139.0L422.5 139.0L422.2 138.9L421.9 138.9L421.6 138.9L421.4 138.8L421.1 138.8L420.8 138.8L420.5 138.8L420.3 138.7L420.0 138.7L419.7 138.7L419.4 138.7L419.2 138.7L418.9 138.7L418.6 138.7L418.3 138.7L418.0 138.7L417.7 138.7L417.4 138.7L417.0 138.7L416.7 138.7L416.4 138.7L416.1 138.7L415.7 138.6L415.4 138.6L415.0 138.6L414.7 138.5L414.3 138.5L414.0 138.4L413.6 138.3L413.3 138.3L412.9 138.2L412.6 138.0L412.2 137.9L411.9 137.8L411.5 137.6L411.2 137.4L410.9 137.2L410.5 137.0L410.2 136.8L409.9 136.6L409.6 136.3L409.3 136.1L409.1 135.8L408.8 135.5L408.6 135.2L408.3 134.9L408.1 134.6L407.9 134.2L407.7 133.9L407.6 133.6L407.4 133.2L407.3 132.8L407.1 132.5L407.0 132.1L406.9 131.7L406.8 131.4L406.7 131.0L406.7 130.6L406.6 130.2L406.6 129.8L406.5 129.4L406.5 129.0L406.5 128.7Z" fill="none" stroke="rgb(193, 51, 201)" stroke-width="1.0"/>
<path d="M410.9 128.5L411.0 128.2L411.0 127.9L411.0 127.7L411.1 127.4L411.2 127.1L411.3 126.9L411.4 126.6L411.5 126.4L411.6 126.1L411.7 125.9L411.9 125.7L412.0 125.4L412.2 125.2L412.4 125.0L412.5 124.8L412.7 124.6L412.9 124.4L413.1 124.2L413.3 124.0L413.5 123.9L413.7 123.7L413.9 123.5L414.1 123.4L414.3 123.2L414.4 123.1L414.6 122.9L414.8 122.8L415.0 122.7L415.2 122.5L415.4 122.4L415.6 122.3L415.8 122.1L415.9 122.0L416.1 121.9L416.3 121.7L416.5 121.6L416.7 121.5L416.9 121.4L417.1 121.3L417.3 121.2L417.5 121.1L417.7 121.0L417.9 120.9L418.1 120.8L418.3 120.7L418.5 120.7L418.7 120.6L418.9 120.6L419.1 120.5L419.4 120.5L419.6 120.4L419.8 120.4L420.0 120.4L420.2 120.4L420.4 120.4L420.7 120.4L420.9 120.4L421.1 120.5L421.3 120.5L421.5 120.5L421.7 120.6L421.9 120.6L422.1 120.7L422.3 120.7L422.5 120.8L422.7 120.8L422.9 120.9L423.1 120.9L423.3 121.0L423.5 121.1L423.7 121.1L423.9 121.2L424.1 121.2L424.3 121.3L424.5 121.3L424.7 121.4L424.9 121.5L425.1 121.5L425.3 121.6L425.5 121.6L425.7 121.7L425.9 121.7L426.1 121.8L426.3 121.9L426.5 121.9L426.8 122.0L427.0 122.1L427.2 122.1L427.5 122.2L427.7 122.3L427.9 122.4L428.2 122.5L428.4 122.6L428.6 122.7L428.9 122.8L429.1 123.0L429.3 123.1L429.6 123.3L429.8 123.4L430.0 123.6L430.2 123.8L430.4 124.0L430.6 124.2L430.8 124.4L431.0 124.6L431.1 124.8L431.3 125.0L431.4 125.3L431.5 125.5L431.7 125.8L431.8 126.0L431.9 126.3L432.0 126.6L432.0 126.8L432.1 127.1L432.1 127.4L432.2 127.7L432.2 127.9L432.2 128.2L432.2 128.5L432.2 128.8L432.2 129.1L432.1 129.3L432.1 129.6L432.0 129.9L432.0 130.2L431.9 130.4L431.8 130.7L431.7 131.0L431.6 131.2L431.5 131.5L431.4 131.7L431.2 131.9L431.1 132.2L430.9 132.4L430.8 132.6L430.6 132.8L430.4 133.1L430.3 133.3L430.1 133.5L429.9 133.6L429.7 133.8L429.5 134.0L429.3 134.1L429.0 134.3L428.8 134.4L428.6 134.5L428.4 134.7L428.1 134.8L427.9 134.9L427.6 135.0L427.4 135.1L427.2 135.1L426.9 135.2L426.7 135.3L426.4 135.3L426.2 135.4L426.0 135.4L425.7 135.4L425.5 135.5L425.3 135.5L425.1 135.5L424.9 135.6L424.7 135.6L424.4 135.6L424.2 135.6L424.0 135.6L423.8 135.7L423.6 135.7L423.4 135.7L423.2 135.7L423.0 135.8L422.9 135.8L422.7 135.8L422.5 135.9L422.3 135.9L422.1 135.9L421.9 136.0L421.7 136.0L421.5 136.0L421.3 136.1L421.1 136.1L420.9 136.1L420.7 136.2L420.5 136.2L420.3 136.2L420.1 136.3L419.8 136.3L419.6 136.3L419.4 136.3L419.2 136.3L419.0 136.3L418.7 136.3L418.5 136.3L418.3 136.3L418.1 136.2L417.8 136.2L417.6 136.1L417.4 136.1L417.2 136.0L416.9 135.9L416.7 135.9L416.5 135.8L416.3 135.7L416.1 135.6L415.9 135.5L415.7 135.3L415.5 135.2L415.3 135.1L415.1 134.9L414.9 134.8L414.7 134.7L414.5 134.5L414.3 134.3L414.1 134.2L413.9 134.0L413.7 133.8L413.5 133.7L413.4 133.5L413.2 133.3L413.0 133.1L412.8 132.9L412.7 132.7L412.5 132.5L412.3 132.3L412.2 132.1L412.0 131.9L411.9 131.6L411.7 131.4L411.6 131.1L411.5 130.9L411.4 130.7L411.3 130.4L411.2 130.1L411.1 129.9L411.1 129.6L411.0 129.3L411.0 129.1L410.9 128.8Z" fill="none" stroke="rgb(205, 45, 200)" stroke-width="1.0"/>
<path d="M452.3 159.8h3.6M454.1 158.0v3.6M376.4 156.9h3.6M378.2 155.1v3.6M417.8 137.2h3.6M419.6 135.4v3.6M407.5 62.1h3.6M409.3 60.3v3.6M429.2 92.7h3.6M431.0 90.9v3.6M401.2 145.0h3.6M403.0 143.2v3.6M380.8 125.3h3.6M382.6 123.5v3.6M404.7 154.8h3.6M406.5 153.0v3.6M409.5 155.6h3.6M411.3 153.8v3.6M445.9 121.6h3.6M447.7 119.8v3.6M425.9 106.9h3.6M427.7 105.1v3.6M423.2 102.0h3.6M425.0 100.2v3.6M419.3 79.5h3.6M421.1 77.7v3.6M453.8 113.8h3.6M455.6 112.0v3.6M429.7 128.3h3.6M431.5 126.5v3.6M453.9 138.8h3.6M455.7 137.0v3.6M394.8 127.9h3.6M396.6 126.1v3.6M418.5 132.1h3.6M420.3 130.3v3.6M474.7 179.5h3.6M476.5 177.7v3.6M388.9 129.0h3.6M390.7 127.2v3.6M411.3 94.1h3.6M413.1 92.3v3.6M405.4 105.7h3.6M407.2 103.9v3.6M427.0 134.4h3.6M428.8 132.6v3.6M351.0 105.7h3.6M352.8 103.9v3.6M342.5 107.2h3.6M344.3 105.4v3.6M442.2 129.5h3.6M444.0 127.7v3.6M455.4 118.6h3.6M457.2 116.8v3.6M390.2 143.0h3.6M392.0 141.2v3.6M431.7 140.7h3.6M433.5 138.9v3.6M470.4 130.4h3.6M472.2 128.6v3.6M480.6 124.0h3.6M482.4 122.2v3.6M417.3 80.9h3.6M419.1 79.1v3.6M366.2 121.9h3.6M368.0 120.1v3.6M417.7 123.5h3.6M419.5 121.7v3.6M426.0 145.5h3.6M427.8 143.7v3.6M408.9 96.3h3.6M410.7 94.5v3.6M450.5 90.9h3.6M452.3 89.1v3.6M383.5 125.8h3.6M385.3 124.0v3.6M404.5 152.1h3.6M406.3 150.3v3.6M389.5 83.7h3.6M391.3 81.9v3.6M420.1 122.2h3.6M421.9 120.4v3.6M400.3 144.4h3.6M402.1 142.6v3.6M448.8 128.8h3.6M450.6 127.0v3.6M368.4 193.8h3.6M370.2 192.0v3.6M432.9 144.0h3.6M434.7 142.2v3.6M419.8 135.5h3.6M421.6 133.7v3.6M394.0 110.6h3.6M395.8 108.8v3.6M466.8 138.7h3.6M468.6 136.9v3.6M440.1 128.4h3.6M441.9 126.6v3.6M377.2 167.4h3.6M379.0 165.6v3.6M432.1 111.7h3.6M433.9 109.9v3.6M455.7 152.3h3.6M457.5 150.5v3.6M401.7 120.6h3.6M403.5 118.8v3.6M465.1 84.2h3.6M466.9 82.4v3.6M427.4 110.3h3.6M429.2 108.5v3.6M392.9 90.8h3.6M394.7 89.0v3.6M397.9 169.8h3.6M399.7 168.0v3.6M436.2 110.7h3.6M438.0 108.9v3.6M403.5 129.8h3.6M405.3 128.0v3.6M452.1 147.5h3.6M453.9 145.7v3.6M446.0 147.7h3.6M447.8 145.9v3.6M440.8 152.7h3.6M442.6 150.9v3.6M440.1 169.7h3.6M441.9 167.9v3.6M401.2 102.3h3.6M403.0 100.5v3.6M456.0 111.5h3.6M457.8 109.7v3.6M416.5 95.6h3.6M418.3 93.8v3.6M446.6 106.7h3.6M448.4 104.9v3.6M395.1 110.2h3.6M396.9 108.4v3.6M398.2 131.7h3.6M400.0 129.9v3.6M414.0 105.1h3.6M415.8 103.3v3.6M429.8 147.4h3.6M431.6 145.6v3.6M425.3 107.6h3.6M427.1 105.8v3.6M379.7 163.9h3.6M381.5 162.1v3.6M427.0 140.2h3.6M428.8 138.4v3.6M406.2 113.3h3.6M408.0 111.5v3.6M399.2 154.4h3.6M401.0 152.6v3.6M390.3 137.2h3.6M392.1 135.4v3.6M398.5 141.2h3.6M400.3 139.4v3.6M447.0 139.9h3.6M448.8 138.1v3.6M399.1 101.2h3.6M400.9 99.4v3.6M404.5 89.6h3.6M406.3 87.8v3.6M336.8 163.1h3.6M338.6 161.3v3.6M480.0 146.2h3.6M481.8 144.4v3.6M407.0 101.6h3.6M408.8 99.8v3.6M392.2 150.0h3.6M394.0 148.2v3.6M438.4 151.0h3.6M440.2 149.2v3.6M440.6 137.3h3.6M442.4 135.5v3.6M469.9 72.2h3.6M471.7 70.4v3.6M429.5 121.4h3.6M431.3 119.6v3.6M417.8 109.0h3.6M419.6 107.2v3.6M370.7 114.2h3.6M372.5 112.4v3.6M388.3 155.5h3.6M390.1 153.7v3.6M447.7 121.1h3.6M449.5 119.3v3.6M493.2 147.6h3.6M495.0 145.8v3.6M431.2 100.8h3.6M433.0 99.0v3.6M418.0 158.7h3.6M419.8 156.9v3.6M404.3 125.3h3.6M406.1 123.5v3.6M461.7 78.9h3.6M463.5 77.1v3.6M403.5 124.6h3.6M405.3 122.8v3.6M398.6 107.1h3.6M400.4 105.3v3.6M346.6 139.5h3.6M348.4 137.7v3.6M455.8 183.0h3.6M457.6 181.2v3.6M481.0 93.8h3.6M482.8 92.0v3.6M482.5 134.8h3.6M484.3 133.0v3.6M402.9 143.6h3.6M404.7 141.8v3.6M423.7 121.7h3.6M425.5 119.9v3.6M446.5 144.3h3.6M448.3 142.5v3.6M423.5 137.2h3.6M425.3 135.4v3.6M463.0 65.2h3.6M464.8 63.4v3.6M424.2 128.8h3.6M426.0 127.0v3.6M416.7 148.8h3.6M418.5 147.0v3.6M399.8 139.5h3.6M401.6 137.7v3.6M416.9 124.5h3.6M418.7 122.7v3.6M381.3 142.8h3.6M383.1 141.0v3.6M405.0 127.3h3.6M406.8 125.5v3.6M416.6 176.0h3.6M418.4 174.2v3.6M403.6 161.9h3.6M405.4 160.1v3.6M401.5 106.7h3.6M403.3 104.9v3.6M471.0 95.2h3.6M472.8 93.4v3.6M399.6 167.2h3.6M401.4 165.4v3.6M387.8 124.0h3.6M389.6 122.2v3.6M457.4 166.4h3.6M459.2 164.6v3.6M402.2 179.2h3.6M404.0 177.4v3.6M467.7 130.0h3.6M469.5 128.2v3.6M422.1 149.1h3.6M423.9 147.3v3.6M409.2 69.1h3.6M411.0 67.3v3.6M397.9 66.4h3.6M399.7 64.6v3.6M437.2 105.3h3.6M439.0 103.5v3.6M414.5 117.6h3.6M416.3 115.8v3.6M450.7 76.8h3.6M452.5 75.0v3.6M369.6 142.2h3.6M371.4 140.4v3.6M439.8 137.5h3.6M441.6 135.7v3.6M438.5 94.4h3.6M440.3 92.6v3.6M421.9 104.3h3.6M423.7 102.5v3.6M344.1 147.2h3.6M345.9 145.4v3.6M448.8 115.8h3.6M450.6 114.0v3.6M395.4 130.2h3.6M397.2 128.4v3.6M430.1 129.0h3.6M431.9 127.2v3.6M451.1 131.1h3.6M452.9 129.3v3.6M341.1 181.9h3.6M342.9 180.1v3.6M419.7 144.3h3.6M421.5 142.5v3.6M448.5 143.1h3.6M450.3 141.3v3.6M494.2 85.8h3.6M496.0 84.0v3.6M416.9 130.9h3.6M418.7 129.1v3.6M441.4 112.9h3.6M443.2 111.1v3.6M362.5 154.2h3.6M364.3 152.4v3.6M406.8 121.9h3.6M408.6 120.1v3.6M485.3 92.3h3.6M487.1 90.5v3.6M483.7 133.1h3.6M485.5 131.3v3.6M400.4 133.4h3.6M402.2 131.6v3.6M418.5 90.5h3.6M420.3 88.7v3.6M407.1 156.7h3.6M408.9 154.9v3.6M437.7 165.0h3.6M439.5 163.2v3.6M423.1 147.6h3.6M424.9 145.8v3.6M439.1 148.3h3.6M440.9 146.5v3.6M392.7 131.8h3.6M394.5 130.0v3.6M430.7 106.2h3.6M432.5 104.4v3.6M434.7 115.7h3.6M436.5 113.9v3.6M401.3 71.3h3.6M403.1 69.5v3.6M355.1 104.1h3.6M356.9 102.3v3.6M412.9 102.3h3.6M414.7 100.5v3.6M373.7 151.8h3.6M375.5 150.0v3.6M401.4 153.3h3.6M403.2 151.5v3.6M401.4 112.1h3.6M403.2 110.3v3.6M440.7 143.5h3.6M442.5 141.7v3.6M508.1 112.1h3.6M509.9 110.3v3.6M441.5 142.2h3.6M443.3 140.4v3.6M439.5 159.1h3.6M441.3 157.3v3.6M439.5 64.4h3.6M441.3 62.6v3.6M389.8 134.1h3.6M391.6 132.3v3.6M481.1 111.4h3.6M482.9 109.6v3.6M429.6 138.4h3.6M431.4 136.6v3.6M450.1 162.0h3.6M451.9 160.2v3.6M399.2 82.8h3.6M401.0 81.0v3.6M364.2 103.1h3.6M366.0 101.3v3.6M488.0 80.0h3.6M489.8 78.2v3.6M414.7 164.0h3.6M416.5 162.2v3.6M389.6 187.6h3.6M391.4 185.8v3.6M421.3 146.4h3.6M423.1 144.6v3.6M392.6 104.0h3.6M394.4 102.2v3.6M398.8 139.4h3.6M400.6 137.6v3.6M415.8 138.0h3.6M417.6 136.2v3.6M394.0 150.3h3.6M395.8 148.5v3.6M473.4 133.7h3.6M475.2 131.9v3.6M367.9 154.6h3.6M369.7 152.8v3.6M413.6 126.4h3.6M415.4 124.6v3.6M339.6 109.2h3.6M341.4 107.4v3.6M392.9 123.8h3.6M394.7 122.0v3.6M419.2 104.7h3.6M421.0 102.9v3.6M417.3 75.4h3.6M419.1 73.6v3.6M396.9 74.9h3.6M398.7 73.1v3.6M465.9 147.0h3.6M467.7 145.2v3.6M389.6 119.5h3.6M391.4 117.7v3.6M446.9 144.5h3.6M448.7 142.7v3.6M393.2 82.8h3.6M395.0 81.0v3.6M430.6 151.1h3.6M432.4 149.3v3.6M356.9 117.1h3.6M358.7 115.3v3.6M435.4 81.6h3.6M437.2 79.8v3.6M382.4 141.2h3.6M384.2 139.4v3.6M488.6 142.1h3.6M490.4 140.3v3.6M409.0 150.3h3.6M410.8 148.5v3.6M445.0 166.8h3.6M446.8 165.0v3.6M450.6 152.9h3.6M452.4 151.1v3.6M410.3 105.0h3.6M412.1 103.2v3.6M453.1 143.7h3.6M454.9 141.9v3.6M374.5 114.8h3.6M376.3 113.0v3.6M408.3 156.1h3.6M410.1 154.3v3.6M402.4 131.9h3.6M404.2 130.1v3.6M364.9 192.3h3.6M366.7 190.5v3.6M340.0 98.5h3.6M341.8 96.7v3.6M423.7 121.1h3.6M425.5 119.3v3.6M444.1 65.1h3.6M445.9 63.3v3.6M392.2 103.7h3.6M394.0 101.9v3.6M430.2 138.8h3.6M432.0 137.0v3.6M404.2 169.5h3.6M406.0 167.7v3.6M430.0 99.5h3.6M431.8 97.7v3.6M387.4 161.3h3.6M389.2 159.5v3.6M404.1 169.9h3.6M405.9 168.1v3.6M394.8 101.3h3.6M396.6 99.5v3.6M418.5 135.9h3.6M420.3 134.1v3.6M374.2 164.7h3.6M376.0 162.9v3.6M405.2 88.0h3.6M407.0 86.2v3.6M478.4 154.9h3.6M480.2 153.1v3.6M434.4 145.5h3.6M436.2 143.7v3.6M457.6 157.9h3.6M459.4 156.1v3.6M371.5 92.9h3.6M373.3 91.1v3.6M433.6 150.6h3.6M435.4 148.8v3.6M439.6 149.5h3.6M441.4 147.7v3.6M408.0 148.2h3.6M409.8 146.4v3.6M418.7 130.9h3.6M420.5 129.1v3.6M428.6 108.8h3.6M430.4 107.0v3.6M422.6 148.4h3.6M424.4 146.6v3.6M409.2 138.6h3.6M411.0 136.8v3.6M374.9 159.6h3.6M376.7 157.8v3.6M403.9 102.9h3.6M405.7 101.1v3.6M374.9 118.7h3.6M376.7 116.9v3.6M433.3 147.1h3.6M435.1 145.3v3.6M413.2 102.2h3.6M415.0 100.4v3.6M468.1 146.6h3.6M469.9 144.8v3.6M381.6 139.7h3.6M383.4 137.9v3.6M448.3 97.6h3.6M450.1 95.8v3.6M419.1 98.6h3.6M420.9 96.8v3.6M462.1 113.9h3.6M463.9 112.1v3.6M452.1 177.0h3.6M453.9 175.2v3.6M400.9 113.8h3.6M402.7 112.0v3.6M445.6 100.9h3.6M447.4 99.1v3.6M390.4 94.7h3.6M392.2 92.9v3.6M426.0 138.7h3.6M427.8 136.9v3.6M384.9 182.3h3.6M386.7 180.5v3.6M444.4 101.0h3.6M446.2 99.2v3.6M435.0 110.3h3.6M436.8 108.5v3.6M474.7 139.8h3.6M476.5 138.0v3.6M407.4 78.2h3.6M409.2 76.4v3.6M417.6 88.5h3.6M419.4 86.7v3.6M447.2 70.2h3.6M449.0 68.4v3.6M434.3 123.6h3.6M436.1 121.8v3.6M387.6 108.9h3.6M389.4 107.1v3.6M417.3 165.3h3.6M419.1 163.5v3.6M477.1 156.8h3.6M478.9 155.0v3.6M430.0 89.5h3.6M431.8 87.7v3.6M383.3 107.5h3.6M385.1 105.7v3.6M416.6 151.1h3.6M418.4 149.3v3.6M394.0 99.8h3.6M395.8 98.0v3.6M395.0 100.2h3.6M396.8 98.4v3.6M377.5 81.6h3.6M379.3 79.8v3.6M371.2 99.0h3.6M373.0 97.2v3.6M373.1 155.4h3.6M374.9 153.6v3.6M424.5 66.1h3.6M426.3 64.3v3.6M422.8 118.2h3.6M424.6 116.4v3.6M395.3 164.9h3.6M397.1 163.1v3.6M442.9 149.3h3.6M444.7 147.5v3.6M401.5 85.9h3.6M403.3 84.1v3.6M445.1 115.5h3.6M446.9 113.7v3.6M391.6 150.5h3.6M393.4 148.7v3.6M457.9 85.1h3.6M459.7 83.3v3.6M421.1 134.6h3.6M422.9 132.8v3.6M399.6 113.5h3.6M401.4 111.7v3.6M422.5 154.0h3.6M424.3 152.2v3.6M409.8 172.2h3.6M411.6 170.4v3.6M409.2 145.8h3.6M411.0 144.0v3.6M442.2 172.4h3.6M444.0 170.6v3.6M434.9 110.2h3.6M436.7 108.4v3.6M394.8 116.6h3.6M396.6 114.8v3.6M463.2 131.4h3.6M465.0 129.6v3.6M416.5 161.3h3.6M418.3 159.5v3.6M398.6 75.9h3.6M400.4 74.1v3.6M423.1 71.5h3.6M424.9 69.7v3.6M445.1 133.1h3.6M446.9 131.3v3.6M418.4 165.3h3.6M420.2 163.5v3.6M381.3 153.9h3.6M383.1 152.1v3.6M399.3 107.1h3.6M401.1 105.3v3.6M400.2 84.8h3.6M402.0 83.0v3.6M401.2 175.3h3.6M403.0 173.5v3.6M439.8 153.6h3.6M441.6 151.8v3.6M427.1 176.5h3.6M428.9 174.7v3.6M400.2 127.9h3.6M402.0 126.1v3.6M399.4 135.3h3.6M401.2 133.5v3.6M392.2 164.3h3.6M394.0 162.5v3.6M415.2 148.0h3.6M417.0 146.2v3.6M450.6 101.0h3.6M452.4 99.2v3.6M440.8 153.8h3.6M442.6 152.0v3.6M413.2 114.0h3.6M415.0 112.2v3.6M415.6 166.1h3.6M417.4 164.3v3.6M416.1 165.4h3.6M417.9 163.6v3.6M421.6 141.0h3.6M423.4 139.2v3.6M444.5 117.8h3.6M446.3 116.0v3.6M457.2 87.4h3.6M459.0 85.6v3.6M478.6 90.7h3.6M480.4 88.9v3.6M352.1 110.9h3.6M353.9 109.1v3.6M400.1 153.6h3.6M401.9 151.8v3.6M451.1 135.5h3.6M452.9 133.7v3.6M444.0 104.8h3.6M445.8 103.0v3.6M439.8 133.8h3.6M441.6 132.0v3.6M423.5 154.3h3.6M425.3 152.5v3.6M435.5 111.9h3.6M437.3 110.1v3.6M411.3 141.5h3.6M413.1 139.7v3.6M389.5 142.9h3.6M391.3 141.1v3.6M427.9 120.4h3.6M429.7 118.6v3.6M398.6 103.0h3.6M400.4 101.2v3.6M415.7 163.2h3.6M417.5 161.4v3.6M366.7 128.1h3.6M368.5 126.3v3.6M374.9 67.4h3.6M376.7 65.6v3.6M429.4 174.0h3.6M431.2 172.2v3.6M401.2 159.1h3.6M403.0 157.3v3.6M354.9 158.7h3.6M356.7 156.9v3.6M397.0 105.3h3.6M398.8 103.5v3.6M376.1 98.0h3.6M377.9 96.2v3.6M389.5 129.2h3.6M391.3 127.4v3.6M393.0 103.3h3.6M394.8 101.5v3.6M386.0 61.0h3.6M387.8 59.2v3.6M456.1 145.2h3.6M457.9 143.4v3.6M457.6 112.5h3.6M459.4 110.7v3.6M417.8 167.6h3.6M419.6 165.8v3.6M410.6 105.9h3.6M412.4 104.1v3.6M363.9 157.1h3.6M365.7 155.3v3.6M418.4 123.0h3.6M420.2 121.2v3.6M416.7 145.4h3.6M418.5 143.6v3.6M401.7 119.5h3.6M403.5 117.7v3.6M446.7 122.4h3.6M448.5 120.6v3.6M339.4 108.0h3.6M341.2 106.2v3.6M421.9 122.4h3.6M423.7 120.6v3.6M427.7 105.5h3.6M429.5 103.7v3.6M424.4 157.3h3.6M426.2 155.5v3.6M470.9 110.3h3.6M472.7 108.5v3.6M367.8 106.6h3.6M369.6 104.8v3.6M383.4 127.7h3.6M385.2 125.9v3.6M401.3 142.0h3.6M403.1 140.2v3.6M361.4 157.6h3.6M363.2 155.8v3.6M418.9 113.8h3.6M420.7 112.0v3.6M428.4 120.7h3.6M430.2 118.9v3.6M416.2 107.8h3.6M418.0 106.0v3.6M395.6 103.4h3.6M397.4 101.6v3.6M340.3 107.9h3.6M342.1 106.1v3.6M476.0 126.7h3.6M477.8 124.9v3.6M392.7 101.1h3.6M394.5 99.3v3.6M404.4 98.1h3.6M406.2 96.3v3.6M389.1 160.5h3.6M390.9 158.7v3.6M468.8 120.9h3.6M470.6 119.1v3.6M409.2 105.2h3.6M411.0 103.4v3.6M425.6 139.2h3.6M427.4 137.4v3.6M420.8 109.4h3.6M422.6 107.6v3.6M478.0 135.5h3.6M479.8 133.7v3.6M425.9 89.5h3.6M427.7 87.7v3.6M480.5 131.6h3.6M482.3 129.8v3.6M425.8 134.6h3.6M427.6 132.8v3.6M489.5 141.2h3.6M491.3 139.4v3.6M442.8 108.1h3.6M444.6 106.3v3.6M403.1 178.9h3.6M404.9 177.1v3.6M388.9 156.0h3.6M390.7 154.2v3.6M404.4 96.7h3.6M406.2 94.9v3.6M385.2 87.5h3.6M387.0 85.7v3.6M388.6 100.3h3.6M390.4 98.5v3.6M365.7 132.5h3.6M367.5 130.7v3.6M399.8 134.8h3.6M401.6 133.0v3.6M413.9 90.1h3.6M415.7 88.3v3.6M385.8 133.0h3.6M387.6 131.2v3.6M416.5 117.5h3.6M418.3 115.7v3.6M438.7 128.3h3.6M440.5 126.5v3.6M460.1 125.7h3.6M461.9 123.9v3.6M396.0 140.6h3.6M397.8 138.8v3.6M363.9 111.3h3.6M365.7 109.5v3.6M424.9 114.5h3.6M426.7 112.7v3.6M423.6 131.1h3.6M425.4 129.3v3.6M326.5 83.8h3.6M328.3 82.0v3.6M416.8 103.7h3.6M418.6 101.9v3.6M460.4 116.9h3.6M462.2 115.1v3.6M402.7 142.3h3.6M404.5 140.5v3.6M417.8 144.2h3.6M419.6 142.4v3.6M405.7 150.5h3.6M407.5 148.7v3.6M414.9 168.1h3.6M416.7 166.3v3.6M421.3 134.9h3.6M423.1 133.1v3.6M386.5 168.2h3.6M388.3 166.4v3.6M451.9 199.6h3.6M453.7 197.8v3.6M421.1 156.7h3.6M422.9 154.9v3.6M426.9 102.5h3.6M428.7 100.7v3.6M409.4 110.4h3.6M411.2 108.6v3.6M418.4 143.1h3.6M420.2 141.3v3.6M407.0 106.8h3.6M408.8 105.0v3.6M360.6 156.6h3.6M362.4 154.8v3.6M421.6 129.7h3.6M423.4 127.9v3.6M441.4 82.1h3.6M443.2 80.3v3.6M371.1 145.6h3.6M372.9 143.8v3.6M416.5 123.8h3.6M418.3 122.0v3.6M433.0 129.0h3.6M434.8 127.2v3.6M379.8 100.7h3.6M381.6 98.9v3.6M366.8 137.1h3.6M368.6 135.3v3.6M443.2 139.4h3.6M445.0 137.6v3.6M401.1 172.0h3.6M402.9 170.2v3.6M422.6 109.3h3.6M424.4 107.5v3.6M410.0 152.1h3.6M411.8 150.3v3.6M422.9 139.9h3.6M424.7 138.1v3.6M445.0 159.8h3.6M446.8 158.0v3.6M404.8 132.3h3.6M406.6 130.5v3.6M438.7 118.6h3.6M440.5 116.8v3.6M464.3 98.0h3.6M466.1 96.2v3.6M429.8 156.0h3.6M431.6 154.2v3.6M398.0 159.9h3.6M399.8 158.1v3.6M441.6 85.6h3.6M443.4 83.8v3.6M437.6 160.9h3.6M439.4 159.1v3.6M414.5 110.1h3.6M416.3 108.3v3.6M468.0 142.4h3.6M469.8 140.6v3.6M417.7 139.9h3.6M419.5 138.1v3.6M396.6 117.3h3.6M398.4 115.5v3.6M422.2 152.5h3.6M424.0 150.7v3.6M401.9 125.9h3.6M403.7 124.1v3.6M402.9 132.0h3.6M404.7 130.2v3.6M469.4 115.6h3.6M471.2 113.8v3.6M461.1 97.8h3.6M462.9 96.0v3.6M423.0 149.8h3.6M424.8 148.0v3.6M453.6 131.8h3.6M455.4 130.0v3.6M421.0 143.7h3.6M422.8 141.9v3.6M388.5 108.6h3.6M390.3 106.8v3.6M458.3 142.7h3.6M460.1 140.9v3.6M488.7 151.5h3.6M490.5 149.7v3.6M410.2 132.1h3.6M412.0 130.3v3.6M348.4 107.0h3.6M350.2 105.2v3.6M517.1 93.5h3.6M518.9 91.7v3.6M437.7 147.3h3.6M439.5 145.5v3.6M470.0 142.7h3.6M471.8 140.9v3.6M369.2 100.6h3.6M371.0 98.8v3.6M454.3 149.7h3.6M456.1 147.9v3.6M415.0 105.2h3.6M416.8 103.4v3.6M406.1 91.9h3.6M407.9 90.1v3.6M371.3 169.0h3.6M373.1 167.2v3.6M415.2 115.7h3.6M417.0 113.9v3.6M457.5 114.9h3.6M459.3 113.1v3.6M419.5 133.4h3.6M421.3 131.6v3.6M430.4 171.2h3.6M432.2 169.4v3.6M473.1 144.6h3.6M474.9 142.8v3.6M416.6 135.4h3.6M418.4 133.6v3.6M475.7 112.8h3.6M477.5 111.0v3.6M451.2 156.9h3.6M453.0 155.1v3.6M413.4 140.0h3.6M415.2 138.2v3.6M433.7 157.7h3.6M435.5 155.9v3.6M446.9 161.3h3.6M448.7 159.5v3.6M442.4 111.0h3.6M444.2 109.2v3.6M455.5 140.5h3.6M457.3 138.7v3.6M482.2 74.3h3.6M484.0 72.5v3.6M419.5 160.1h3.6M421.3 158.3v3.6M445.0 101.5h3.6M446.8 99.7v3.6M432.6 125.0h3.6M434.4 123.2v3.6M418.7 140.2h3.6M420.5 138.4v3.6M487.2 126.5h3.6M489.0 124.7v3.6M442.8 85.3h3.6M444.6 83.5v3.6M394.7 169.0h3.6M396.5 167.2v3.6M447.9 98.7h3.6M449.7 96.9v3.6M397.9 156.2h3.6M399.7 154.4v3.6M411.6 156.3h3.6M413.4 154.5v3.6M471.5 107.1h3.6M473.3 105.3v3.6M423.9 148.5h3.6M425.7 146.7v3.6M380.0 117.9h3.6M381.8 116.1v3.6M445.2 104.2h3.6M447.0 102.4v3.6M390.4 159.2h3.6M392.2 157.4v3.6M438.2 137.7h3.6M440.0 135.9v3.6M426.7 130.8h3.6M428.5 129.0v3.6M425.9 138.8h3.6M427.7 137.0v3.6M427.1 143.7h3.6M428.9 141.9v3.6M469.2 154.7h3.6M471.0 152.9v3.6M462.9 101.1h3.6M464.7 99.3v3.6M400.7 86.4h3.6M402.5 84.6v3.6M426.2 98.7h3.6M428.0 96.9v3.6M422.6 115.5h3.6M424.4 113.7v3.6M452.6 110.6h3.6M454.4 108.8v3.6M347.7 125.3h3.6M349.5 123.5v3.6M439.9 97.8h3.6M441.7 96.0v3.6M464.8 109.9h3.6M466.6 108.1v3.6M439.4 105.1h3.6M441.2 103.3v3.6M434.6 136.1h3.6M436.4 134.3v3.6M372.1 141.6h3.6M373.9 139.8v3.6M389.8 150.4h3.6M391.6 148.6v3.6M439.2 106.9h3.6M441.0 105.1v3.6M421.1 106.5h3.6M422.9 104.7v3.6M381.2 158.4h3.6M383.0 156.6v3.6M450.8 125.6h3.6M452.6 123.8v3.6M432.7 159.5h3.6M434.5 157.7v3.6M398.1 116.7h3.6M399.9 114.9v3.6M384.2 163.0h3.6M386.0 161.2v3.6M429.0 102.1h3.6M430.8 100.3v3.6M460.0 124.9h3.6M461.8 123.1v3.6M398.6 69.0h3.6M400.4 67.2v3.6M462.9 101.0h3.6M464.7 99.2v3.6M397.8 163.5h3.6M399.6 161.7v3.6M407.3 148.3h3.6M409.1 146.5v3.6M485.3 113.7h3.6M487.1 111.9v3.6M415.9 151.0h3.6M417.7 149.2v3.6M516.7 97.2h3.6M518.5 95.4v3.6M462.5 78.7h3.6M464.3 76.9v3.6M466.7 140.2h3.6M468.5 138.4v3.6M403.1 78.6h3.6M404.9 76.8v3.6M432.4 94.6h3.6M434.2 92.8v3.6M429.0 164.7h3.6M430.8 162.9v3.6M417.5 140.4h3.6M419.3 138.6v3.6M332.2 92.4h3.6M334.0 90.6v3.6M422.5 167.6h3.6M424.3 165.8v3.6M413.1 140.8h3.6M414.9 139.0v3.6M443.6 118.2h3.6M445.4 116.4v3.6M381.3 110.7h3.6M383.1 108.9v3.6M437.3 168.5h3.6M439.1 166.7v3.6M418.7 112.1h3.6M420.5 110.3v3.6M463.7 182.6h3.6M465.5 180.8v3.6M439.1 106.8h3.6M440.9 105.0v3.6M478.7 195.7h3.6M480.5 193.9v3.6M420.2 81.5h3.6M422.0 79.7v3.6M459.9 120.2h3.6M461.7 118.4v3.6M452.0 131.9h3.6M453.8 130.1v3.6M428.6 137.7h3.6M430.4 135.9v3.6M415.9 116.8h3.6M417.7 115.0v3.6M370.2 137.6h3.6M372.0 135.8v3.6M428.9 81.6h3.6M430.7 79.8v3.6M437.4 70.1h3.6M439.2 68.3v3.6M419.7 101.3h3.6M421.5 99.5v3.6M353.9 95.6h3.6M355.7 93.8v3.6M443.3 114.1h3.6M445.1 112.3v3.6M409.4 181.2h3.6M411.2 179.4v3.6M431.2 177.5h3.6M433.0 175.7v3.6M414.0 113.0h3.6M415.8 111.2v3.6M382.9 84.4h3.6M384.7 82.6v3.6M436.8 86.8h3.6M438.6 85.0v3.6M413.7 163.6h3.6M415.5 161.8v3.6M486.3 119.8h3.6M488.1 118.0v3.6M380.9 145.8h3.6M382.7 144.0v3.6M438.3 156.0h3.6M440.1 154.2v3.6M439.6 146.5h3.6M441.4 144.7v3.6M412.3 173.3h3.6M414.1 171.5v3.6M417.4 176.0h3.6M419.2 174.2v3.6M428.8 112.8h3.6M430.6 111.0v3.6M419.9 80.2h3.6M421.7 78.4v3.6M444.4 116.4h3.6M446.2 114.6v3.6M442.4 125.7h3.6M444.2 123.9v3.6M407.6 113.2h3.6M409.4 111.4v3.6M460.3 109.9h3.6M462.1 108.1v3.6M434.6 146.0h3.6M436.4 144.2v3.6M405.4 111.6h3.6M407.2 109.8v3.6M411.1 118.0h3.6M412.9 116.2v3.6M408.1 106.3h3.6M409.9 104.5v3.6M427.3 81.4h3.6M429.1 79.6v3.6M412.2 129.9h3.6M414.0 128.1v3.6M379.8 120.0h3.6M381.6 118.2v3.6M404.1 93.9h3.6M405.9 92.1v3.6M415.0 120.6h3.6M416.8 118.8v3.6M448.9 122.0h3.6M450.7 120.2v3.6M343.6 117.5h3.6M345.4 115.7v3.6M524.1 95.2h3.6M525.9 93.4v3.6M391.5 82.0h3.6M393.3 80.2v3.6M421.1 111.2h3.6M422.9 109.4v3.6M406.8 166.4h3.6M408.6 164.6v3.6M407.1 100.5h3.6M408.9 98.7v3.6M432.7 139.7h3.6M434.5 137.9v3.6M448.3 106.5h3.6M450.1 104.7v3.6M479.2 89.2h3.6M481.0 87.4v3.6M396.2 172.6h3.6M398.0 170.8v3.6M404.7 104.4h3.6M406.5 102.6v3.6M408.2 133.6h3.6M410.0 131.8v3.6M363.5 167.3h3.6M365.3 165.5v3.6M458.2 196.7h3.6M460.0 194.9v3.6M381.8 114.5h3.6M383.6 112.7v3.6M430.1 145.5h3.6M431.9 143.7v3.6M448.4 148.1h3.6M450.2 146.3v3.6M412.8 163.3h3.6M414.6 161.5v3.6M411.7 96.8h3.6M413.5 95.0v3.6M387.3 136.2h3.6M389.1 134.4v3.6M400.3 143.2h3.6M402.1 141.4v3.6M401.0 111.3h3.6M402.8 109.5v3.6M422.9 119.7h3.6M424.7 117.9v3.6M393.3 121.8h3.6M395.1 120.0v3.6M385.7 180.4h3.6M387.5 178.6v3.6M415.8 130.5h3.6M417.6 128.7v3.6M361.1 129.2h3.6M362.9 127.4v3.6M457.4 158.7h3.6M459.2 156.9v3.6M433.9 152.7h3.6M435.7 150.9v3.6M435.0 160.6h3.6M436.8 158.8v3.6M439.7 136.9h3.6M441.5 135.1v3.6M368.9 140.9h3.6M370.7 139.1v3.6M454.0 154.5h3.6M455.8 152.7v3.6M441.8 85.6h3.6M443.6 83.8v3.6M460.1 129.7h3.6M461.9 127.9v3.6M328.7 113.6h3.6M330.5 111.8v3.6M425.4 171.9h3.6M427.2 170.1v3.6M430.4 158.7h3.6M432.2 156.9v3.6M461.1 102.5h3.6M462.9 100.7v3.6M405.1 145.6h3.6M406.9 143.8v3.6M415.3 181.5h3.6M417.1 179.7v3.6M439.6 90.5h3.6M441.4 88.7v3.6M363.7 96.1h3.6M365.5 94.3v3.6M403.4 110.1h3.6M405.2 108.3v3.6M388.6 58.7h3.6M390.4 56.9v3.6M423.5 115.4h3.6M425.3 113.6v3.6M459.1 112.3h3.6M460.9 110.5v3.6M404.0 135.0h3.6M405.8 133.2v3.6M422.1 110.3h3.6M423.9 108.5v3.6M373.5 158.3h3.6M375.3 156.5v3.6M423.8 137.5h3.6M425.6 135.7v3.6M401.5 149.3h3.6M403.3 147.5v3.6M435.9 115.6h3.6M437.7 113.8v3.6M349.7 123.5h3.6M351.5 121.7v3.6M416.8 138.0h3.6M418.6 136.2v3.6M418.1 102.5h3.6M419.9 100.7v3.6M384.9 84.0h3.6M386.7 82.2v3.6M406.4 162.3h3.6M408.2 160.5v3.6M434.8 165.1h3.6M436.6 163.3v3.6M398.8 47.7h3.6M400.6 45.9v3.6M420.1 122.3h3.6M421.9 120.5v3.6M370.8 144.8h3.6M372.6 143.0v3.6M423.0 82.5h3.6M424.8 80.7v3.6M430.5 165.8h3.6M432.3 164.0v3.6M388.3 94.1h3.6M390.1 92.3v3.6M415.2 137.1h3.6M417.0 135.3v3.6M410.5 119.7h3.6M412.3 117.9v3.6M478.4 131.4h3.6M480.2 129.6v3.6M373.4 115.8h3.6M375.2 114.0v3.6M444.6 135.4h3.6M446.4 133.6v3.6M417.3 131.4h3.6M419.1 129.6v3.6M388.0 108.3h3.6M389.8 106.5v3.6M421.0 116.2h3.6M422.8 114.4v3.6M414.3 165.9h3.6M416.1 164.1v3.6M439.9 143.9h3.6M441.7 142.1v3.6M436.7 79.9h3.6M438.5 78.1v3.6M428.7 137.6h3.6M430.5 135.8v3.6M458.3 114.7h3.6M460.1 112.9v3.6M410.2 138.2h3.6M412.0 136.4v3.6M430.1 81.2h3.6M431.9 79.4v3.6M416.9 157.5h3.6M418.7 155.7v3.6M433.6 143.9h3.6M435.4 142.1v3.6M420.8 184.2h3.6M422.6 182.4v3.6M451.5 93.7h3.6M453.3 91.9v3.6M422.2 148.5h3.6M424.0 146.7v3.6M433.8 172.9h3.6M435.6 171.1v3.6M441.6 107.1h3.6M443.4 105.3v3.6M338.7 111.0h3.6M340.5 109.2v3.6M389.8 133.8h3.6M391.6 132.0v3.6M432.8 191.2h3.6M434.6 189.4v3.6M416.6 118.6h3.6M418.4 116.8v3.6M422.7 164.0h3.6M424.5 162.2v3.6M422.8 105.3h3.6M424.6 103.5v3.6M456.0 119.2h3.6M457.8 117.4v3.6M391.5 158.2h3.6M393.3 156.4v3.6M429.7 124.4h3.6M431.5 122.6v3.6M423.4 108.7h3.6M425.2 106.9v3.6M423.6 115.5h3.6M425.4 113.7v3.6M375.9 103.3h3.6M377.7 101.5v3.6M415.3 108.6h3.6M417.1 106.8v3.6M422.6 95.6h3.6M424.4 93.8v3.6M407.9 106.1h3.6M409.7 104.3v3.6M398.0 118.3h3.6M399.8 116.5v3.6M497.9 106.7h3.6M499.7 104.9v3.6M411.5 95.6h3.6M413.3 93.8v3.6M420.7 160.5h3.6M422.5 158.7v3.6M371.4 150.3h3.6M373.2 148.5v3.6M424.8 77.3h3.6M426.6 75.5v3.6M441.4 138.0h3.6M443.2 136.2v3.6M434.1 128.4h3.6M435.9 126.6v3.6M389.0 111.4h3.6M390.8 109.6v3.6M406.9 115.2h3.6M408.7 113.4v3.6M414.5 132.5h3.6M416.3 130.7v3.6M496.1 111.5h3.6M497.9 109.7v3.6M406.2 159.5h3.6M408.0 157.7v3.6M389.9 113.8h3.6M391.7 112.0v3.6M432.7 136.7h3.6M434.5 134.9v3.6M384.3 163.5h3.6M386.1 161.7v3.6M393.1 154.2h3.6M394.9 152.4v3.6M396.9 126.5h3.6M398.7 124.7v3.6M513.9 137.3h3.6M515.7 135.5v3.6M467.2 70.1h3.6M469.0 68.3v3.6M413.9 179.3h3.6M415.7 177.5v3.6M368.7 100.8h3.6M370.5 99.0v3.6M421.5 93.8h3.6M423.3 92.0v3.6M410.4 147.3h3.6M412.2 145.5v3.6M469.5 115.9h3.6M471.3 114.1v3.6M438.8 121.5h3.6M440.6 119.7v3.6M370.3 135.5h3.6M372.1 133.7v3.6M423.7 118.4h3.6M425.5 116.6v3.6M414.2 126.7h3.6M416.0 124.9v3.6M455.8 95.2h3.6M457.6 93.4v3.6M404.8 106.7h3.6M406.6 104.9v3.6M379.6 103.9h3.6M381.4 102.1v3.6M468.6 148.3h3.6M470.4 146.5v3.6M355.0 143.8h3.6M356.8 142.0v3.6M455.8 146.4h3.6M457.6 144.6v3.6M452.4 170.9h3.6M454.2 169.1v3.6M436.4 89.3h3.6M438.2 87.5v3.6M481.9 155.3h3.6M483.7 153.5v3.6M416.8 175.7h3.6M418.6 173.9v3.6M427.1 132.8h3.6M428.9 131.0v3.6M412.3 146.2h3.6M414.1 144.4v3.6M451.2 137.3h3.6M453.0 135.5v3.6M412.5 108.1h3.6M414.3 106.3v3.6M435.9 137.0h3.6M437.7 135.2v3.6M490.2 120.6h3.6M492.0 118.8v3.6M416.4 122.9h3.6M418.2 121.1v3.6M433.1 140.3h3.6M434.9 138.5v3.6M400.2 165.2h3.6M402.0 163.4v3.6M406.0 112.4h3.6M407.8 110.6v3.6M444.9 134.6h3.6M446.7 132.8v3.6M423.5 184.9h3.6M425.3 183.1v3.6M460.8 95.5h3.6M462.6 93.7v3.6M422.2 97.8h3.6M424.0 96.0v3.6M430.9 115.3h3.6M432.7 113.5v3.6M445.8 134.2h3.6M447.6 132.4v3.6M446.5 193.7h3.6M448.3 191.9v3.6M472.3 146.5h3.6M474.1 144.7v3.6M410.8 121.0h3.6M412.6 119.2v3.6M401.3 162.5h3.6M403.1 160.7v3.6M389.1 142.0h3.6M390.9 140.2v3.6M382.4 99.2h3.6M384.2 97.4v3.6M418.8 104.5h3.6M420.6 102.7v3.6M412.7 115.2h3.6M414.5 113.4v3.6M416.1 132.8h3.6M417.9 131.0v3.6M394.9 142.0h3.6M396.7 140.2v3.6M356.2 107.3h3.6M358.0 105.5v3.6M446.8 73.4h3.6M448.6 71.6v3.6M404.3 89.2h3.6M406.1 87.4v3.6M476.4 114.1h3.6M478.2 112.3v3.6M399.0 138.0h3.6M400.8 136.2v3.6M393.3 114.7h3.6M395.1 112.9v3.6M391.5 76.4h3.6M393.3 74.6v3.6M520.0 115.6h3.6M521.8 113.8v3.6M456.5 132.2h3.6M458.3 130.4v3.6M419.1 166.8h3.6M420.9 165.0v3.6M489.3 94.6h3.6M491.1 92.8v3.6M361.1 55.2h3.6M362.9 53.4v3.6M434.1 106.8h3.6M435.9 105.0v3.6M366.9 131.6h3.6M368.7 129.8v3.6M418.6 151.0h3.6M420.4 149.2v3.6M395.2 105.4h3.6M397.0 103.6v3.6M408.3 153.2h3.6M410.1 151.4v3.6M427.2 106.4h3.6M429.0 104.6v3.6M418.5 133.0h3.6M420.3 131.2v3.6M359.2 120.6h3.6M361.0 118.8v3.6M385.2 160.1h3.6M387.0 158.3v3.6M391.8 82.8h3.6M393.6 81.0v3.6M439.1 121.7h3.6M440.9 119.9v3.6M430.6 145.9h3.6M432.4 144.1v3.6M466.6 128.4h3.6M468.4 126.6v3.6M386.9 72.5h3.6M388.7 70.7v3.6M398.8 102.8h3.6M400.6 101.0v3.6M422.8 109.8h3.6M424.6 108.0v3.6M377.9 112.2h3.6M379.7 110.4v3.6M403.7 60.5h3.6M405.5 58.7v3.6M380.3 85.0h3.6M382.1 83.2v3.6M491.3 108.0h3.6M493.1 106.2v3.6M437.9 102.2h3.6M439.7 100.4v3.6M439.3 139.4h3.6M441.1 137.6v3.6M427.7 73.4h3.6M429.5 71.6v3.6M360.6 112.9h3.6M362.4 111.1v3.6M444.4 77.2h3.6M446.2 75.4v3.6M417.9 151.1h3.6M419.7 149.3v3.6M419.6 105.0h3.6M421.4 103.2v3.6M438.2 113.9h3.6M440.0 112.1v3.6M416.1 173.4h3.6M417.9 171.6v3.6M474.7 86.4h3.6M476.5 84.6v3.6M395.1 147.0h3.6M396.9 145.2v3.6M358.5 158.2h3.6M360.3 156.4v3.6M428.6 101.7h3.6M430.4 99.9v3.6M420.9 152.6h3.6M422.7 150.8v3.6M419.0 91.8h3.6M420.8 90.0v3.6M406.5 112.2h3.6M408.3 110.4v3.6M444.0 116.7h3.6M445.8 114.9v3.6M437.7 141.2h3.6M439.5 139.4v3.6M394.0 137.7h3.6M395.8 135.9v3.6M398.8 100.6h3.6M400.6 98.8v3.6M421.9 138.9h3.6M423.7 137.1v3.6M479.7 115.7h3.6M481.5 113.9v3.6M407.4 114.6h3.6M409.2 112.8v3.6M380.5 133.1h3.6M382.3 131.3v3.6M430.9 161.5h3.6M432.7 159.7v3.6M408.6 116.4h3.6M410.4 114.6v3.6M390.2 145.7h3.6M392.0 143.9v3.6M389.7 104.4h3.6M391.5 102.6v3.6M388.7 106.6h3.6M390.5 104.8v3.6M446.5 73.2h3.6M448.3 71.4v3.6M362.3 148.1h3.6M364.1 146.3v3.6M402.2 124.0h3.6M404.0 122.2v3.6M362.7 156.1h3.6M364.5 154.3v3.6M447.0 150.3h3.6M448.8 148.5v3.6M376.9 107.2h3.6M378.7 105.4v3.6M436.6 135.4h3.6M438.4 133.6v3.6M457.6 116.0h3.6M459.4 114.2v3.6M464.6 145.4h3.6M466.4 143.6v3.6M421.3 167.6h3.6M423.1 165.8v3.6M440.0 171.2h3.6M441.8 169.4v3.6M393.7 127.6h3.6M395.5 125.8v3.6M390.5 84.0h3.6M392.3 82.2v3.6M405.5 157.0h3.6M407.3 155.2v3.6M457.7 101.0h3.6M459.5 99.2v3.6M407.7 172.1h3.6M409.5 170.3v3.6M392.7 147.6h3.6M394.5 145.8v3.6M339.0 128.3h3.6M340.8 126.5v3.6M423.0 71.3h3.6M424.8 69.5v3.6M478.6 106.7h3.6M480.4 104.9v3.6M386.7 138.7h3.6M388.5 136.9v3.6M378.2 140.5h3.6M380.0 138.7v3.6M432.4 113.6h3.6M434.2 111.8v3.6M364.0 146.7h3.6M365.8 144.9v3.6M471.1 88.7h3.6M472.9 86.9v3.6M432.1 114.3h3.6M433.9 112.5v3.6M416.3 165.5h3.6M418.1 163.7v3.6M472.6 115.7h3.6M474.4 113.9v3.6M428.6 124.9h3.6M430.4 123.1v3.6M468.1 80.4h3.6M469.9 78.6v3.6M453.7 110.6h3.6M455.5 108.8v3.6M405.0 110.3h3.6M406.8 108.5v3.6M412.2 125.1h3.6M414.0 123.3v3.6M416.9 167.5h3.6M418.7 165.7v3.6M446.3 138.6h3.6M448.1 136.8v3.6M435.0 157.2h3.6M436.8 155.4v3.6M413.5 143.3h3.6M415.3 141.5v3.6M413.8 90.0h3.6M415.6 88.2v3.6M415.9 99.9h3.6M417.7 98.1v3.6M426.1 78.7h3.6M427.9 76.9v3.6M431.4 88.3h3.6M433.2 86.5v3.6M415.4 164.5h3.6M417.2 162.7v3.6M435.5 110.3h3.6M437.3 108.5v3.6M423.9 118.6h3.6M425.7 116.8v3.6M457.6 170.8h3.6M459.4 169.0v3.6M394.3 69.6h3.6M396.1 67.8v3.6M386.8 101.0h3.6M388.6 99.2v3.6M436.4 179.4h3.6M438.2 177.6v3.6M416.5 163.6h3.6M418.3 161.8v3.6M428.7 91.2h3.6M430.5 89.4v3.6M439.3 150.3h3.6M441.1 148.5v3.6M387.7 120.0h3.6M389.5 118.2v3.6M448.3 105.9h3.6M450.1 104.1v3.6M438.7 137.7h3.6M440.5 135.9v3.6M419.2 98.4h3.6M421.0 96.6v3.6M438.9 97.5h3.6M440.7 95.7v3.6M425.3 132.8h3.6M427.1 131.0v3.6M444.3 142.9h3.6M446.1 141.1v3.6M406.5 109.0h3.6M408.3 107.2v3.6M427.8 160.2h3.6M429.6 158.4v3.6M372.0 99.9h3.6M373.8 98.1v3.6M370.3 135.2h3.6M372.1 133.4v3.6M406.8 89.0h3.6M408.6 87.2v3.6M419.1 89.4h3.6M420.9 87.6v3.6M412.7 107.8h3.6M414.5 106.0v3.6M383.9 128.5h3.6M385.7 126.7v3.6M429.2 76.2h3.6M431.0 74.4v3.6M472.4 167.0h3.6M474.2 165.2v3.6M396.2 128.7h3.6M398.0 126.9v3.6M414.6 129.8h3.6M416.4 128.0v3.6M338.2 102.5h3.6M340.0 100.7v3.6M486.2 134.0h3.6M488.0 132.2v3.6M450.8 150.0h3.6M452.6 148.2v3.6M431.6 169.8h3.6M433.4 168.0v3.6M438.1 93.0h3.6M439.9 91.2v3.6M445.7 71.5h3.6M447.5 69.7v3.6M392.2 126.4h3.6M394.0 124.6v3.6M383.0 118.5h3.6M384.8 116.7v3.6M466.6 141.5h3.6M468.4 139.7v3.6M400.6 117.7h3.6M402.4 115.9v3.6M406.0 86.3h3.6M407.8 84.5v3.6M430.1 107.5h3.6M431.9 105.7v3.6M375.9 105.6h3.6M377.7 103.8v3.6M358.6 113.5h3.6M360.4 111.7v3.6M386.2 142.6h3.6M388.0 140.8v3.6M508.7 84.5h3.6M510.5 82.7v3.6M407.9 90.4h3.6M409.7 88.6v3.6M428.8 165.7h3.6M430.6 163.9v3.6M412.2 127.7h3.6M414.0 125.9v3.6M418.8 114.4h3.6M420.6 112.6v3.6M364.6 139.0h3.6M366.4 137.2v3.6M355.8 170.2h3.6M357.6 168.4v3.6M446.0 157.7h3.6M447.8 155.9v3.6M366.7 90.8h3.6M368.5 89.0v3.6M423.4 118.9h3.6M425.2 117.1v3.6M348.2 112.3h3.6M350.0 110.5v3.6M407.3 72.3h3.6M409.1 70.5v3.6M371.0 118.3h3.6M372.8 116.5v3.6M397.9 105.5h3.6M399.7 103.7v3.6M449.4 160.3h3.6M451.2 158.5v3.6M401.8 114.6h3.6M403.6 112.8v3.6M396.4 93.4h3.6M398.2 91.6v3.6M376.6 154.7h3.6M378.4 152.9v3.6M436.7 95.4h3.6M438.5 93.6v3.6M430.0 107.6h3.6M431.8 105.8v3.6M418.0 127.4h3.6M419.8 125.6v3.6M414.2 143.5h3.6M416.0 141.7v3.6M441.8 173.2h3.6M443.6 171.4v3.6M442.1 134.2h3.6M443.9 132.4v3.6M428.1 135.8h3.6M429.9 134.0v3.6M401.7 114.5h3.6M403.5 112.7v3.6M420.5 94.2h3.6M422.3 92.4v3.6M453.5 146.4h3.6M455.3 144.6v3.6M350.4 145.5h3.6M352.2 143.7v3.6M397.1 170.9h3.6M398.9 169.1v3.6M466.2 183.8h3.6M468.0 182.0v3.6M489.6 133.3h3.6M491.4 131.5v3.6M380.6 122.8h3.6M382.4 121.0v3.6M405.0 139.0h3.6M406.8 137.2v3.6M349.9 93.9h3.6M351.7 92.1v3.6M405.1 112.6h3.6M406.9 110.8v3.6M431.3 160.9h3.6M433.1 159.1v3.6M411.1 145.9h3.6M412.9 144.1v3.6M407.4 169.6h3.6M409.2 167.8v3.6M441.9 120.2h3.6M443.7 118.4v3.6M406.6 102.2h3.6M408.4 100.4v3.6M395.7 121.9h3.6M397.5 120.1v3.6M384.5 169.7h3.6M386.3 167.9v3.6M369.5 132.8h3.6M371.3 131.0v3.6M416.9 88.5h3.6M418.7 86.7v3.6M401.0 146.7h3.6M402.8 144.9v3.6M435.1 116.1h3.6M436.9 114.3v3.6M437.6 75.7h3.6M439.4 73.9v3.6M478.8 127.3h3.6M480.6 125.5v3.6M361.4 122.6h3.6M363.2 120.8v3.6M523.7 83.9h3.6M525.5 82.1v3.6M408.0 94.4h3.6M409.8 92.6v3.6M422.7 142.6h3.6M424.5 140.8v3.6M467.8 126.8h3.6M469.6 125.0v3.6M401.5 145.7h3.6M403.3 143.9v3.6M387.1 150.1h3.6M388.9 148.3v3.6M431.0 98.5h3.6M432.8 96.7v3.6M424.8 92.9h3.6M426.6 91.1v3.6M346.3 153.0h3.6M348.1 151.2v3.6M482.9 126.8h3.6M484.7 125.0v3.6M394.7 110.0h3.6M396.5 108.2v3.6M361.0 108.2h3.6M362.8 106.4v3.6M348.1 129.1h3.6M349.9 127.3v3.6M464.5 150.6h3.6M466.3 148.8v3.6M380.7 112.7h3.6M382.5 110.9v3.6M492.8 129.9h3.6M494.6 128.1v3.6M460.6 127.4h3.6M462.4 125.6v3.6M434.2 121.2h3.6M436.0 119.4v3.6M392.1 135.5h3.6M393.9 133.7v3.6M370.0 141.8h3.6M371.8 140.0v3.6M399.4 107.4h3.6M401.2 105.6v3.6M402.4 103.7h3.6M404.2 101.9v3.6M445.3 109.1h3.6M447.1 107.3v3.6M410.0 142.7h3.6M411.8 140.9v3.6M428.8 137.1h3.6M430.6 135.3v3.6M420.3 135.6h3.6M422.1 133.8v3.6M459.5 147.2h3.6M461.3 145.4v3.6M412.9 104.1h3.6M414.7 102.3v3.6M406.6 152.7h3.6M408.4 150.9v3.6M338.0 117.2h3.6M339.8 115.4v3.6M429.9 160.6h3.6M431.7 158.8v3.6M401.8 81.2h3.6M403.6 79.4v3.6M477.7 114.4h3.6M479.5 112.6v3.6M332.3 137.4h3.6M334.1 135.6v3.6M432.1 131.0h3.6M433.9 129.2v3.6M389.6 115.8h3.6M391.4 114.0v3.6M488.8 89.7h3.6M490.6 87.9v3.6M436.4 154.7h3.6M438.2 152.9v3.6M347.5 98.1h3.6M349.3 96.3v3.6M419.3 110.1h3.6M421.1 108.3v3.6M407.0 126.4h3.6M408.8 124.6v3.6M488.2 142.8h3.6M490.0 141.0v3.6M442.0 105.1h3.6M443.8 103.3v3.6M461.6 127.3h3.6M463.4 125.5v3.6M434.7 65.6h3.6M436.5 63.8v3.6M430.7 144.9h3.6M432.5 143.1v3.6M386.3 65.2h3.6M388.1 63.4v3.6M390.7 145.2h3.6M392.5 143.4v3.6M393.0 133.7h3.6M394.8 131.9v3.6M445.7 125.9h3.6M447.5 124.1v3.6M461.0 116.9h3.6M462.8 115.1v3.6M397.4 152.1h3.6M399.2 150.3v3.6M431.0 72.2h3.6M432.8 70.4v3.6M416.6 135.8h3.6M418.4 134.0v3.6M421.3 120.1h3.6M423.1 118.3v3.6M421.8 141.4h3.6M423.6 139.6v3.6M437.9 92.3h3.6M439.7 90.5v3.6M458.8 156.0h3.6M460.6 154.2v3.6M383.5 144.0h3.6M385.3 142.2v3.6M377.3 111.4h3.6M379.1 109.6v3.6M405.3 160.1h3.6M407.1 158.3v3.6M426.3 129.9h3.6M428.1 128.1v3.6M435.8 111.0h3.6M437.6 109.2v3.6M475.9 43.5h3.6M477.7 41.7v3.6M394.2 115.4h3.6M396.0 113.6v3.6M420.6 61.4h3.6M422.4 59.6v3.6M443.5 150.7h3.6M445.3 148.9v3.6M402.5 115.6h3.6M404.3 113.8v3.6M420.6 130.2h3.6M422.4 128.4v3.6M394.7 133.0h3.6M396.5 131.2v3.6M387.5 130.6h3.6M389.3 128.8v3.6M391.7 148.9h3.6M393.5 147.1v3.6M408.8 152.7h3.6M410.6 150.9v3.6M404.1 96.8h3.6M405.9 95.0v3.6M378.9 133.9h3.6M380.7 132.1v3.6M417.4 121.4h3.6M419.2 119.6v3.6M402.2 145.0h3.6M404.0 143.2v3.6M360.3 178.9h3.6M362.1 177.1v3.6M424.6 133.0h3.6M426.4 131.2v3.6M474.7 133.1h3.6M476.5 131.3v3.6M409.4 98.1h3.6M411.2 96.3v3.6M472.9 132.3h3.6M474.7 130.5v3.6M424.8 103.6h3.6M426.6 101.8v3.6M399.8 107.6h3.6M401.6 105.8v3.6M395.3 102.2h3.6M397.1 100.4v3.6M400.2 176.4h3.6M402.0 174.6v3.6M391.7 141.2h3.6M393.5 139.4v3.6M411.9 118.6h3.6M413.7 116.8v3.6M409.5 127.1h3.6M411.3 125.3v3.6M422.2 71.1h3.6M424.0 69.3v3.6M402.9 109.0h3.6M404.7 107.2v3.6M414.2 115.3h3.6M416.0 113.5v3.6M454.0 146.6h3.6M455.8 144.8v3.6M472.5 95.9h3.6M474.3 94.1v3.6M458.9 106.6h3.6M460.7 104.8v3.6M414.9 112.7h3.6M416.7 110.9v3.6M434.2 152.7h3.6M436.0 150.9v3.6M424.0 106.7h3.6M425.8 104.9v3.6M424.1 124.7h3.6M425.9 122.9v3.6M505.7 103.3h3.6M507.5 101.5v3.6M388.1 147.3h3.6M389.9 145.5v3.6M418.8 113.0h3.6M420.6 111.2v3.6M427.3 173.6h3.6M429.1 171.8v3.6M445.1 52.8h3.6M446.9 51.0v3.6M371.0 161.7h3.6M372.8 159.9v3.6M437.6 112.4h3.6M439.4 110.6v3.6M442.8 128.0h3.6M444.6 126.2v3.6M390.7 153.2h3.6M392.5 151.4v3.6M436.3 160.0h3.6M438.1 158.2v3.6M370.6 93.1h3.6M372.4 91.3v3.6M371.9 71.4h3.6M373.7 69.6v3.6M340.7 129.0h3.6M342.5 127.2v3.6M388.0 121.1h3.6M389.8 119.3v3.6M429.5 92.3h3.6M431.3 90.5v3.6M401.4 132.2h3.6M403.2 130.4v3.6M376.6 122.3h3.6M378.4 120.5v3.6M413.9 119.1h3.6M415.7 117.3v3.6M416.2 114.9h3.6M418.0 113.1v3.6M406.6 119.9h3.6M408.4 118.1v3.6M449.2 121.5h3.6M451.0 119.7v3.6M440.6 141.2h3.6M442.4 139.4v3.6M435.9 86.6h3.6M437.7 84.8v3.6M410.5 120.6h3.6M412.3 118.8v3.6M414.4 139.4h3.6M416.2 137.6v3.6M405.7 160.8h3.6M407.5 159.0v3.6M463.6 144.4h3.6M465.4 142.6v3.6M390.5 93.2h3.6M392.3 91.4v3.6M471.4 139.9h3.6M473.2 138.1v3.6M448.5 157.8h3.6M450.3 156.0v3.6M456.3 107.8h3.6M458.1 106.0v3.6M385.8 162.5h3.6M387.6 160.7v3.6M429.2 119.5h3.6M431.0 117.7v3.6M444.0 128.9h3.6M445.8 127.1v3.6M383.6 95.4h3.6M385.4 93.6v3.6M439.0 135.7h3.6M440.8 133.9v3.6M415.3 156.4h3.6M417.1 154.6v3.6M421.1 145.7h3.6M422.9 143.9v3.6M419.8 98.2h3.6M421.6 96.4v3.6M351.1 128.4h3.6M352.9 126.6v3.6M424.9 160.7h3.6M426.7 158.9v3.6M450.2 110.0h3.6M452.0 108.2v3.6M441.0 113.9h3.6M442.8 112.1v3.6M409.7 169.0h3.6M411.5 167.2v3.6M401.2 92.1h3.6M403.0 90.3v3.6M439.4 151.5h3.6M441.2 149.7v3.6M427.1 172.3h3.6M428.9 170.5v3.6M472.2 131.2h3.6M474.0 129.4v3.6M357.6 185.0h3.6M359.4 183.2v3.6M470.2 115.4h3.6M472.0 113.6v3.6M491.5 108.0h3.6M493.3 106.2v3.6M425.6 93.7h3.6M427.4 91.9v3.6M371.7 151.3h3.6M373.5 149.5v3.6M438.8 77.2h3.6M440.6 75.4v3.6M423.2 138.7h3.6M425.0 136.9v3.6M448.6 107.1h3.6M450.4 105.3v3.6M375.0 144.5h3.6M376.8 142.7v3.6M407.8 131.8h3.6M409.6 130.0v3.6M359.8 114.1h3.6M361.6 112.3v3.6M361.9 127.5h3.6M363.7 125.7v3.6M471.0 165.9h3.6M472.8 164.1v3.6M393.1 113.9h3.6M394.9 112.1v3.6M459.5 125.6h3.6M461.3 123.8v3.6M351.3 103.2h3.6M353.1 101.4v3.6M452.6 137.3h3.6M454.4 135.5v3.6M398.7 80.6h3.6M400.5 78.8v3.6M440.4 102.8h3.6M442.2 101.0v3.6M427.1 103.6h3.6M428.9 101.8v3.6M438.2 141.4h3.6M440.0 139.6v3.6M410.9 143.7h3.6M412.7 141.9v3.6M384.6 140.9h3.6M386.4 139.1v3.6M427.2 112.4h3.6M429.0 110.6v3.6M471.6 150.3h3.6M473.4 148.5v3.6M324.4 120.6h3.6M326.2 118.8v3.6M429.0 117.5h3.6M430.8 115.7v3.6M407.7 130.8h3.6M409.5 129.0v3.6M417.8 126.7h3.6M419.6 124.9v3.6M369.4 175.5h3.6M371.2 173.7v3.6M426.2 137.6h3.6M428.0 135.8v3.6M429.0 87.3h3.6M430.8 85.5v3.6M415.0 148.0h3.6M416.8 146.2v3.6M423.3 110.0h3.6M425.1 108.2v3.6M399.3 142.3h3.6M401.1 140.5v3.6M380.2 104.0h3.6M382.0 102.2v3.6M415.5 124.5h3.6M417.3 122.7v3.6M417.7 172.8h3.6M419.5 171.0v3.6M461.5 111.8h3.6M463.3 110.0v3.6M407.0 111.3h3.6M408.8 109.5v3.6M443.6 129.3h3.6M445.4 127.5v3.6M429.5 88.8h3.6M431.3 87.0v3.6M464.2 140.6h3.6M466.0 138.8v3.6M419.6 148.2h3.6M421.4 146.4v3.6M402.3 147.6h3.6M404.1 145.8v3.6M386.1 113.8h3.6M387.9 112.0v3.6M471.6 160.0h3.6M473.4 158.2v3.6M374.4 130.7h3.6M376.2 128.9v3.6M483.1 108.1h3.6M484.9 106.3v3.6M413.9 160.9h3.6M415.7 159.1v3.6M388.9 105.5h3.6M390.7 103.7v3.6M393.0 152.3h3.6M394.8 150.5v3.6M458.4 148.5h3.6M460.2 146.7v3.6M389.7 150.7h3.6M391.5 148.9v3.6M408.8 164.6h3.6M410.6 162.8v3.6M405.5 141.8h3.6M407.3 140.0v3.6M392.8 117.1h3.6M394.6 115.3v3.6M428.2 172.8h3.6M430.0 171.0v3.6M410.1 101.9h3.6M411.9 100.1v3.6M422.7 75.0h3.6M424.5 73.2v3.6M446.6 66.6h3.6M448.4 64.8v3.6M451.5 147.5h3.6M453.3 145.7v3.6M429.0 137.8h3.6M430.8 136.0v3.6M365.8 149.4h3.6M367.6 147.6v3.6M367.0 121.7h3.6M368.8 119.9v3.6M411.3 106.6h3.6M413.1 104.8v3.6M456.4 79.2h3.6M458.2 77.4v3.6M406.1 153.7h3.6M407.9 151.9v3.6M430.7 131.5h3.6M432.5 129.7v3.6M432.9 128.8h3.6M434.7 127.0v3.6M417.8 145.0h3.6M419.6 143.2v3.6M441.3 159.9h3.6M443.1 158.1v3.6M429.7 78.6h3.6M431.5 76.8v3.6M408.0 120.8h3.6M409.8 119.0v3.6M427.0 126.3h3.6M428.8 124.5v3.6M385.9 156.3h3.6M387.7 154.5v3.6M443.7 144.3h3.6M445.5 142.5v3.6M386.1 115.2h3.6M387.9 113.4v3.6M476.3 102.0h3.6M478.1 100.2v3.6M467.9 79.7h3.6M469.7 77.9v3.6M485.2 162.7h3.6M487.0 160.9v3.6M462.5 152.5h3.6M464.3 150.7v3.6M416.9 129.2h3.6M418.7 127.4v3.6M427.9 113.2h3.6M429.7 111.4v3.6M453.2 103.3h3.6M455.0 101.5v3.6M471.8 171.3h3.6M473.6 169.5v3.6M409.0 136.6h3.6M410.8 134.8v3.6M426.7 155.6h3.6M428.5 153.8v3.6M454.6 120.0h3.6M456.4 118.2v3.6M408.1 151.0h3.6M409.9 149.2v3.6M447.8 124.3h3.6M449.6 122.5v3.6M391.3 133.4h3.6M393.1 131.6v3.6M422.9 107.9h3.6M424.7 106.1v3.6M410.1 118.2h3.6M411.9 116.4v3.6M402.0 155.8h3.6M403.8 154.0v3.6M427.1 98.7h3.6M428.9 96.9v3.6M392.7 161.7h3.6M394.5 159.9v3.6M450.8 152.6h3.6M452.6 150.8v3.6M503.8 128.9h3.6M505.6 127.1v3.6M396.5 113.2h3.6M398.3 111.4v3.6M406.0 174.5h3.6M407.8 172.7v3.6M391.2 114.6h3.6M393.0 112.8v3.6M367.7 137.0h3.6M369.5 135.2v3.6M377.4 164.7h3.6M379.2 162.9v3.6M427.5 100.9h3.6M429.3 99.1v3.6M397.6 104.8h3.6M399.4 103.0v3.6M384.1 155.7h3.6M385.9 153.9v3.6M436.9 125.3h3.6M438.7 123.5v3.6M394.2 102.0h3.6M396.0 100.2v3.6M435.7 127.5h3.6M437.5 125.7v3.6M418.6 108.0h3.6M420.4 106.2v3.6M454.7 102.1h3.6M456.5 100.3v3.6M467.2 184.6h3.6M469.0 182.8v3.6M412.6 146.0h3.6M414.4 144.2v3.6M411.2 114.8h3.6M413.0 113.0v3.6M461.9 120.0h3.6M463.7 118.2v3.6M457.9 124.5h3.6M459.7 122.7v3.6M383.7 129.0h3.6M385.5 127.2v3.6M376.8 100.4h3.6M378.6 98.6v3.6M474.0 129.4h3.6M475.8 127.6v3.6M381.3 148.3h3.6M383.1 146.5v3.6M452.8 100.4h3.6M454.6 98.6v3.6M420.9 91.2h3.6M422.7 89.4v3.6M465.5 143.1h3.6M467.3 141.3v3.6M443.9 68.0h3.6M445.7 66.2v3.6M344.5 160.0h3.6M346.3 158.2v3.6M350.6 84.7h3.6M352.4 82.9v3.6M403.9 75.5h3.6M405.7 73.7v3.6M407.4 120.7h3.6M409.2 118.9v3.6M425.0 152.9h3.6M426.8 151.1v3.6M430.2 81.2h3.6M432.0 79.4v3.6M396.4 143.2h3.6M398.2 141.4v3.6M383.4 153.5h3.6M385.2 151.7v3.6M408.4 132.5h3.6M410.2 130.7v3.6M419.7 109.1h3.6M421.5 107.3v3.6M382.5 126.5h3.6M384.3 124.7v3.6M428.4 120.0h3.6M430.2 118.2v3.6M382.4 135.2h3.6M384.2 133.4v3.6M417.4 145.1h3.6M419.2 143.3v3.6M361.1 102.6h3.6M362.9 100.8v3.6M425.4 148.5h3.6M427.2 146.7v3.6M389.8 143.2h3.6M391.6 141.4v3.6M356.1 137.9h3.6M357.9 136.1v3.6M425.0 156.8h3.6M426.8 155.0v3.6M413.0 135.3h3.6M414.8 133.5v3.6M408.3 143.6h3.6M410.1 141.8v3.6M444.4 93.7h3.6M446.2 91.9v3.6M403.7 116.2h3.6M405.5 114.4v3.6M421.5 145.3h3.6M423.3 143.5v3.6M393.5 97.1h3.6M395.3 95.3v3.6M445.3 102.4h3.6M447.1 100.6v3.6M390.4 127.8h3.6M392.2 126.0v3.6M458.0 141.7h3.6M459.8 139.9v3.6M467.8 132.7h3.6M469.6 130.9v3.6M409.9 131.2h3.6M411.7 129.4v3.6M423.4 106.2h3.6M425.2 104.4v3.6M388.0 127.0h3.6M389.8 125.2v3.6M359.9 160.3h3.6M361.7 158.5v3.6M426.0 120.3h3.6M427.8 118.5v3.6M431.0 103.6h3.6M432.8 101.8v3.6M406.1 114.1h3.6M407.9 112.3v3.6M373.5 151.8h3.6M375.3 150.0v3.6M399.5 82.2h3.6M401.3 80.4v3.6M407.1 127.2h3.6M408.9 125.4v3.6M368.5 165.5h3.6M370.3 163.7v3.6M455.3 152.0h3.6M457.1 150.2v3.6M428.7 145.4h3.6M430.5 143.6v3.6M423.0 176.5h3.6M424.8 174.7v3.6M392.2 119.6h3.6M394.0 117.8v3.6M376.8 98.5h3.6M378.6 96.7v3.6M433.8 127.7h3.6M435.6 125.9v3.6M384.8 115.4h3.6M386.6 113.6v3.6M461.4 127.5h3.6M463.2 125.7v3.6M421.8 174.7h3.6M423.6 172.9v3.6M448.6 172.0h3.6M450.4 170.2v3.6M446.2 151.2h3.6M448.0 149.4v3.6M409.1 124.8h3.6M410.9 123.0v3.6M416.2 98.3h3.6M418.0 96.5v3.6M393.1 145.9h3.6M394.9 144.1v3.6M354.2 62.4h3.6M356.0 60.6v3.6M469.7 136.6h3.6M471.5 134.8v3.6M387.4 116.4h3.6M389.2 114.6v3.6M387.9 139.1h3.6M389.7 137.3v3.6M397.1 86.6h3.6M398.9 84.8v3.6M431.3 120.0h3.6M433.1 118.2v3.6M478.1 143.4h3.6M479.9 141.6v3.6M425.2 161.2h3.6M427.0 159.4v3.6M384.2 140.7h3.6M386.0 138.9v3.6M421.3 163.0h3.6M423.1 161.2v3.6M435.8 102.2h3.6M437.6 100.4v3.6M404.4 119.9h3.6M406.2 118.1v3.6M425.6 151.9h3.6M427.4 150.1v3.6M407.8 129.9h3.6M409.6 128.1v3.6M404.3 126.1h3.6M406.1 124.3v3.6M414.4 153.0h3.6M416.2 151.2v3.6M396.4 82.3h3.6M398.2 80.5v3.6M442.7 121.1h3.6M444.5 119.3v3.6M459.8 132.2h3.6M461.6 130.4v3.6M477.5 176.8h3.6M479.3 175.0v3.6M351.9 129.4h3.6M353.7 127.6v3.6M439.9 178.4h3.6M441.7 176.6v3.6M453.9 97.0h3.6M455.7 95.2v3.6M425.5 158.0h3.6M427.3 156.2v3.6M464.8 116.2h3.6M466.6 114.4v3.6M454.9 103.7h3.6M456.7 101.9v3.6M441.3 100.8h3.6M443.1 99.0v3.6M453.3 125.3h3.6M455.1 123.5v3.6M422.7 107.9h3.6M424.5 106.1v3.6M418.8 117.9h3.6M420.6 116.1v3.6M403.3 106.0h3.6M405.1 104.2v3.6M472.2 103.9h3.6M474.0 102.1v3.6M427.4 93.7h3.6M429.2 91.9v3.6M410.5 141.5h3.6M412.3 139.7v3.6M388.4 166.8h3.6M390.2 165.0v3.6M424.2 120.7h3.6M426.0 118.9v3.6M466.9 170.3h3.6M468.7 168.5v3.6M379.1 153.4h3.6M380.9 151.6v3.6M442.8 96.3h3.6M444.6 94.5v3.6M451.7 138.4h3.6M453.5 136.6v3.6M477.7 102.9h3.6M479.5 101.1v3.6M421.7 131.2h3.6M423.5 129.4v3.6M413.3 129.8h3.6M415.1 128.0v3.6M397.2 101.0h3.6M399.0 99.2v3.6M389.6 133.4h3.6M391.4 131.6v3.6M433.9 152.6h3.6M435.7 150.8v3.6M409.5 156.3h3.6M411.3 154.5v3.6M425.4 134.8h3.6M427.2 133.0v3.6M358.3 186.4h3.6M360.1 184.6v3.6M437.5 88.4h3.6M439.3 86.6v3.6M422.3 138.9h3.6M424.1 137.1v3.6M421.8 82.7h3.6M423.6 80.9v3.6M462.8 128.6h3.6M464.6 126.8v3.6M436.0 164.6h3.6M437.8 162.8v3.6M405.2 85.1h3.6M407.0 83.3v3.6M332.0 89.6h3.6M333.8 87.8v3.6M415.9 140.0h3.6M417.7 138.2v3.6M387.3 201.0h3.6M389.1 199.2v3.6M435.6 155.5h3.6M437.4 153.7v3.6M427.2 110.3h3.6M429.0 108.5v3.6M434.6 151.1h3.6M436.4 149.3v3.6M395.0 112.9h3.6M396.8 111.1v3.6M450.0 177.6h3.6M451.8 175.8v3.6M452.4 143.8h3.6M454.2 142.0v3.6M427.6 135.4h3.6M429.4 133.6v3.6M470.0 107.6h3.6M471.8 105.8v3.6M413.6 95.5h3.6M415.4 93.7v3.6M424.4 168.3h3.6M426.2 166.5v3.6M430.4 125.4h3.6M432.2 123.6v3.6M419.0 172.6h3.6M420.8 170.8v3.6M459.3 76.8h3.6M461.1 75.0v3.6M416.4 126.3h3.6M418.2 124.5v3.6M456.9 136.9h3.6M458.7 135.1v3.6M430.3 138.3h3.6M432.1 136.5v3.6M381.6 145.9h3.6M383.4 144.1v3.6M408.4 136.9h3.6M410.2 135.1v3.6M357.4 102.1h3.6M359.2 100.3v3.6M416.8 143.2h3.6M418.6 141.4v3.6M421.0 86.7h3.6M422.8 84.9v3.6M430.6 161.9h3.6M432.4 160.1v3.6M438.6 108.1h3.6M440.4 106.3v3.6M427.5 109.6h3.6M429.3 107.8v3.6M496.4 118.6h3.6M498.2 116.8v3.6M429.4 129.9h3.6M431.2 128.1v3.6M425.9 146.4h3.6M427.7 144.6v3.6M436.3 147.4h3.6M438.1 145.6v3.6M434.8 160.1h3.6M436.6 158.3v3.6M440.8 107.0h3.6M442.6 105.2v3.6M425.4 140.3h3.6M427.2 138.5v3.6M439.9 94.6h3.6M441.7 92.8v3.6M454.8 155.0h3.6M456.6 153.2v3.6M471.8 111.7h3.6M473.6 109.9v3.6M453.8 141.0h3.6M455.6 139.2v3.6M389.1 123.6h3.6M390.9 121.8v3.6M424.9 128.2h3.6M426.7 126.4v3.6M412.3 94.1h3.6M414.1 92.3v3.6M450.7 97.6h3.6M452.5 95.8v3.6M390.0 112.2h3.6M391.8 110.4v3.6M458.0 185.6h3.6M459.8 183.8v3.6M401.6 141.0h3.6M403.4 139.2v3.6M451.0 82.1h3.6M452.8 80.3v3.6M383.1 98.4h3.6M384.9 96.6v3.6M463.3 167.7h3.6M465.1 165.9v3.6M374.3 80.2h3.6M376.1 78.4v3.6M400.2 142.3h3.6M402.0 140.5v3.6M373.1 81.5h3.6M374.9 79.7v3.6M438.7 102.9h3.6M440.5 101.1v3.6M472.6 123.9h3.6M474.4 122.1v3.6M367.4 78.5h3.6M369.2 76.7v3.6M433.9 92.3h3.6M435.7 90.5v3.6M423.8 91.7h3.6M425.6 89.9v3.6M421.5 137.2h3.6M423.3 135.4v3.6M370.6 130.1h3.6M372.4 128.3v3.6M433.8 109.7h3.6M435.6 107.9v3.6M412.3 151.0h3.6M414.1 149.2v3.6M401.8 106.2h3.6M403.6 104.4v3.6M488.3 163.0h3.6M490.1 161.2v3.6M461.8 106.2h3.6M463.6 104.4v3.6M428.0 84.7h3.6M429.8 82.9v3.6M411.9 142.1h3.6M413.7 140.3v3.6M419.3 147.7h3.6M421.1 145.9v3.6M380.8 83.6h3.6M382.6 81.8v3.6M422.8 114.4h3.6M424.6 112.6v3.6M390.5 181.2h3.6M392.3 179.4v3.6M380.8 128.3h3.6M382.6 126.5v3.6M441.3 145.7h3.6M443.1 143.9v3.6M392.5 153.3h3.6M394.3 151.5v3.6M380.1 130.3h3.6M381.9 128.5v3.6M420.1 153.6h3.6M421.9 151.8v3.6M438.1 151.6h3.6M439.9 149.8v3.6M410.7 85.3h3.6M412.5 83.5v3.6M436.0 108.9h3.6M437.8 107.1v3.6M432.1 140.2h3.6M433.9 138.4v3.6M385.7 142.9h3.6M387.5 141.1v3.6M423.0 116.6h3.6M424.8 114.8v3.6M445.2 105.9h3.6M447.0 104.1v3.6M378.7 120.7h3.6M380.5 118.9v3.6M432.9 168.4h3.6M434.7 166.6v3.6M435.1 121.7h3.6M436.9 119.9v3.6M411.1 151.1h3.6M412.9 149.3v3.6M413.2 79.7h3.6M415.0 77.9v3.6M433.4 149.8h3.6M435.2 148.0v3.6M443.1 173.3h3.6M444.9 171.5v3.6M473.5 112.9h3.6M475.3 111.1v3.6M416.5 120.8h3.6M418.3 119.0v3.6M443.9 109.0h3.6M445.7 107.2v3.6M419.2 166.3h3.6M421.0 164.5v3.6M406.6 96.9h3.6M408.4 95.1v3.6M382.7 103.2h3.6M384.5 101.4v3.6M519.7 99.6h3.6M521.5 97.8v3.6M414.3 86.2h3.6M416.1 84.4v3.6M408.4 156.5h3.6M410.2 154.7v3.6M397.4 170.3h3.6M399.2 168.5v3.6M383.7 139.0h3.6M385.5 137.2v3.6M417.4 131.6h3.6M419.2 129.8v3.6M433.4 146.4h3.6M435.2 144.6v3.6M405.0 94.0h3.6M406.8 92.2v3.6M389.5 180.2h3.6M391.3 178.4v3.6M422.8 158.5h3.6M424.6 156.7v3.6M419.2 147.0h3.6M421.0 145.2v3.6M443.2 199.8h3.6M445.0 198.0v3.6M405.6 150.4h3.6M407.4 148.6v3.6M424.7 108.6h3.6M426.5 106.8v3.6M435.7 158.8h3.6M437.5 157.0v3.6M451.5 130.3h3.6M453.3 128.5v3.6M426.7 115.4h3.6M428.5 113.6v3.6M438.6 86.5h3.6M440.4 84.7v3.6M395.6 92.3h3.6M397.4 90.5v3.6M511.7 119.0h3.6M513.5 117.2v3.6M430.6 115.1h3.6M432.4 113.3v3.6M479.1 91.3h3.6M480.9 89.5v3.6M387.8 165.7h3.6M389.6 163.9v3.6M428.0 146.9h3.6M429.8 145.1v3.6M432.3 155.8h3.6M434.1 154.0v3.6M368.4 130.9h3.6M370.2 129.1v3.6M414.1 104.1h3.6M415.9 102.3v3.6M436.6 128.5h3.6M438.4 126.7v3.6M373.6 96.0h3.6M375.4 94.2v3.6M433.7 115.7h3.6M435.5 113.9v3.6M379.9 138.8h3.6M381.7 137.0v3.6M392.3 110.7h3.6M394.1 108.9v3.6M415.0 176.5h3.6M416.8 174.7v3.6M392.6 155.2h3.6M394.4 153.4v3.6M456.5 128.7h3.6M458.3 126.9v3.6M397.3 188.6h3.6M399.1 186.8v3.6M448.9 115.0h3.6M450.7 113.2v3.6M447.0 87.5h3.6M448.8 85.7v3.6M445.6 128.1h3.6M447.4 126.3v3.6M403.2 84.7h3.6M405.0 82.9v3.6M433.8 83.5h3.6M435.6 81.7v3.6M434.8 78.0h3.6M436.6 76.2v3.6M377.5 129.3h3.6M379.3 127.5v3.6M429.4 109.5h3.6M431.2 107.7v3.6M413.3 88.8h3.6M415.1 87.0v3.6M348.0 152.1h3.6M349.8 150.3v3.6M403.6 108.8h3.6M405.4 107.0v3.6M412.4 129.7h3.6M414.2 127.9v3.6M407.8 142.1h3.6M409.6 140.3v3.6M458.7 179.0h3.6M460.5 177.2v3.6M422.9 126.7h3.6M424.7 124.9v3.6M416.5 119.5h3.6M418.3 117.7v3.6M409.0 119.6h3.6M410.8 117.8v3.6M371.4 89.4h3.6M373.2 87.6v3.6M435.8 102.9h3.6M437.6 101.1v3.6M457.9 99.4h3.6M459.7 97.6v3.6M371.0 150.1h3.6M372.8 148.3v3.6M455.1 135.0h3.6M456.9 133.2v3.6M360.7 128.9h3.6M362.5 127.1v3.6M423.5 153.0h3.6M425.3 151.2v3.6M398.1 99.5h3.6M399.9 97.7v3.6M446.5 136.6h3.6M448.3 134.8v3.6M418.7 127.0h3.6M420.5 125.2v3.6M375.2 115.2h3.6M377.0 113.4v3.6M393.0 136.6h3.6M394.8 134.8v3.6M431.1 107.1h3.6M432.9 105.3v3.6M398.2 76.2h3.6M400.0 74.4v3.6M397.3 110.8h3.6M399.1 109.0v3.6M427.4 139.2h3.6M429.2 137.4v3.6M467.1 113.7h3.6M468.9 111.9v3.6M375.1 123.0h3.6M376.9 121.2v3.6M421.2 136.3h3.6M423.0 134.5v3.6M419.8 102.0h3.6M421.6 100.2v3.6M411.7 159.6h3.6M413.5 157.8v3.6M448.5 124.9h3.6M450.3 123.1v3.6M514.0 146.0h3.6M515.8 144.2v3.6M478.7 108.4h3.6M480.5 106.6v3.6M433.8 156.8h3.6M435.6 155.0v3.6M339.8 129.3h3.6M341.6 127.5v3.6M417.4 134.6h3.6M419.2 132.8v3.6M399.3 118.1h3.6M401.1 116.3v3.6M496.5 121.9h3.6M498.3 120.1v3.6M415.3 94.7h3.6M417.1 92.9v3.6M405.2 117.0h3.6M407.0 115.2v3.6M407.0 94.4h3.6M408.8 92.6v3.6M417.5 82.8h3.6M419.3 81.0v3.6M372.1 137.9h3.6M373.9 136.1v3.6M419.6 135.5h3.6M421.4 133.7v3.6M414.6 134.4h3.6M416.4 132.6v3.6M427.1 152.0h3.6M428.9 150.2v3.6M421.5 123.5h3.6M423.3 121.7v3.6M429.4 119.4h3.6M431.2 117.6v3.6M464.0 107.9h3.6M465.8 106.1v3.6M426.3 98.9h3.6M428.1 97.1v3.6M431.5 121.1h3.6M433.3 119.3v3.6M411.0 174.2h3.6M412.8 172.4v3.6M393.5 113.7h3.6M395.3 111.9v3.6M426.5 71.8h3.6M428.3 70.0v3.6M467.5 119.4h3.6M469.3 117.6v3.6M436.1 161.7h3.6M437.9 159.9v3.6M438.0 151.8h3.6M439.8 150.0v3.6M423.8 161.1h3.6M425.6 159.3v3.6M402.2 114.1h3.6M404.0 112.3v3.6M410.4 108.8h3.6M412.2 107.0v3.6M437.4 74.0h3.6M439.2 72.2v3.6M422.5 109.6h3.6M424.3 107.8v3.6M417.8 150.9h3.6M419.6 149.1v3.6M359.6 127.9h3.6M361.4 126.1v3.6M429.1 149.9h3.6M430.9 148.1v3.6M387.0 120.0h3.6M388.8 118.2v3.6M434.4 69.7h3.6M436.2 67.9v3.6M413.2 143.8h3.6M415.0 142.0v3.6M396.1 138.8h3.6M397.9 137.0v3.6M468.3 159.1h3.6M470.1 157.3v3.6M432.8 107.5h3.6M434.6 105.7v3.6M435.4 105.4h3.6M437.2 103.6v3.6M458.5 170.2h3.6M460.3 168.4v3.6M401.2 147.0h3.6M403.0 145.2v3.6M468.6 43.9h3.6M470.4 42.1v3.6M400.5 80.9h3.6M402.3 79.1v3.6M350.0 123.8h3.6M351.8 122.0v3.6M406.2 112.2h3.6M408.0 110.4v3.6M407.0 143.4h3.6M408.8 141.6v3.6M453.2 160.4h3.6M455.0 158.6v3.6M352.0 128.9h3.6M353.8 127.1v3.6M399.4 118.0h3.6M401.2 116.2v3.6M433.0 111.5h3.6M434.8 109.7v3.6M413.5 145.4h3.6M415.3 143.6v3.6M427.8 141.4h3.6M429.6 139.6v3.6M389.6 113.6h3.6M391.4 111.8v3.6M448.4 105.0h3.6M450.2 103.2v3.6M445.7 158.0h3.6M447.5 156.2v3.6M422.9 136.6h3.6M424.7 134.8v3.6M441.3 120.3h3.6M443.1 118.5v3.6M414.2 115.4h3.6M416.0 113.6v3.6M391.2 133.0h3.6M393.0 131.2v3.6M441.9 122.4h3.6M443.7 120.6v3.6M428.8 179.2h3.6M430.6 177.4v3.6M452.0 134.1h3.6M453.8 132.3v3.6M405.1 119.7h3.6M406.9 117.9v3.6M414.9 86.7h3.6M416.7 84.9v3.6M343.3 93.1h3.6M345.1 91.3v3.6M401.3 82.8h3.6M403.1 81.0v3.6M406.6 90.1h3.6M408.4 88.3v3.6M445.5 110.8h3.6M447.3 109.0v3.6M431.0 101.0h3.6M432.8 99.2v3.6M435.8 107.1h3.6M437.6 105.3v3.6M398.8 167.7h3.6M400.6 165.9v3.6M357.1 117.0h3.6M358.9 115.2v3.6M392.6 106.7h3.6M394.4 104.9v3.6M399.8 171.8h3.6M401.6 170.0v3.6M467.8 136.5h3.6M469.6 134.7v3.6M466.2 106.3h3.6M468.0 104.5v3.6M421.2 106.0h3.6M423.0 104.2v3.6M444.2 134.0h3.6M446.0 132.2v3.6M415.5 108.2h3.6M417.3 106.4v3.6M377.4 173.9h3.6M379.2 172.1v3.6M396.9 167.0h3.6M398.7 165.2v3.6M443.1 71.9h3.6M444.9 70.1v3.6M355.7 115.4h3.6M357.5 113.6v3.6M373.9 162.6h3.6M375.7 160.8v3.6M427.2 99.1h3.6M429.0 97.3v3.6M445.9 167.5h3.6M447.7 165.7v3.6M407.8 141.3h3.6M409.6 139.5v3.6M407.2 161.0h3.6M409.0 159.2v3.6M413.5 134.8h3.6M415.3 133.0v3.6M509.0 117.7h3.6M510.8 115.9v3.6M387.0 171.5h3.6M388.8 169.7v3.6M440.2 122.1h3.6M442.0 120.3v3.6M421.8 80.7h3.6M423.6 78.9v3.6M484.1 117.1h3.6M485.9 115.3v3.6M423.8 120.6h3.6M425.6 118.8v3.6M414.9 157.8h3.6M416.7 156.0v3.6M404.8 151.0h3.6M406.6 149.2v3.6M394.6 96.9h3.6M396.4 95.1v3.6M390.1 78.6h3.6M391.9 76.8v3.6M454.4 93.0h3.6M456.2 91.2v3.6M443.3 121.5h3.6M445.1 119.7v3.6M375.5 138.2h3.6M377.3 136.4v3.6M376.8 142.1h3.6M378.6 140.3v3.6M414.2 129.3h3.6M416.0 127.5v3.6M420.8 140.4h3.6M422.6 138.6v3.6M430.8 151.2h3.6M432.6 149.4v3.6M421.2 110.7h3.6M423.0 108.9v3.6M434.9 110.7h3.6M436.7 108.9v3.6M365.2 124.8h3.6M367.0 123.0v3.6M383.9 182.0h3.6M385.7 180.2v3.6M423.3 97.6h3.6M425.1 95.8v3.6M381.6 105.9h3.6M383.4 104.1v3.6M436.4 83.1h3.6M438.2 81.3v3.6M436.6 88.5h3.6M438.4 86.7v3.6M423.9 160.5h3.6M425.7 158.7v3.6M417.9 128.3h3.6M419.7 126.5v3.6M411.0 72.4h3.6M412.8 70.6v3.6M403.4 139.3h3.6M405.2 137.5v3.6M407.7 141.9h3.6M409.5 140.1v3.6M443.2 152.3h3.6M445.0 150.5v3.6M459.6 142.1h3.6M461.4 140.3v3.6M410.4 81.9h3.6M412.2 80.1v3.6M400.1 145.6h3.6M401.9 143.8v3.6M413.4 181.9h3.6M415.2 180.1v3.6M468.3 130.0h3.6M470.1 128.2v3.6M391.3 82.7h3.6M393.1 80.9v3.6M412.1 96.9h3.6M413.9 95.1v3.6M428.0 119.5h3.6M429.8 117.7v3.6M421.7 124.3h3.6M423.5 122.5v3.6M377.5 109.4h3.6M379.3 107.6v3.6M446.1 108.2h3.6M447.9 106.4v3.6M454.6 114.5h3.6M456.4 112.7v3.6M424.2 103.9h3.6M426.0 102.1v3.6M433.6 114.4h3.6M435.4 112.6v3.6M434.5 98.2h3.6M436.3 96.4v3.6M435.9 110.4h3.6M437.7 108.6v3.6M463.0 166.8h3.6M464.8 165.0v3.6M442.1 126.9h3.6M443.9 125.1v3.6M395.7 61.2h3.6M397.5 59.4v3.6M403.8 172.3h3.6M405.6 170.5v3.6M454.0 129.6h3.6M455.8 127.8v3.6M476.7 109.6h3.6M478.5 107.8v3.6M425.8 157.7h3.6M427.6 155.9v3.6M418.2 153.8h3.6M420.0 152.0v3.6M388.0 166.7h3.6M389.8 164.9v3.6M399.8 169.5h3.6M401.6 167.7v3.6M428.7 144.7h3.6M430.5 142.9v3.6M426.8 175.5h3.6M428.6 173.7v3.6M415.7 122.3h3.6M417.5 120.5v3.6M420.5 130.9h3.6M422.3 129.1v3.6M419.4 95.8h3.6M421.2 94.0v3.6M419.9 104.3h3.6M421.7 102.5v3.6M397.2 106.4h3.6M399.0 104.6v3.6M446.7 105.1h3.6M448.5 103.3v3.6M380.0 121.6h3.6M381.8 119.8v3.6M452.9 178.0h3.6M454.7 176.2v3.6M418.1 177.7h3.6M419.9 175.9v3.6M415.0 149.6h3.6M416.8 147.8v3.6M403.0 110.3h3.6M404.8 108.5v3.6M445.9 159.7h3.6M447.7 157.9v3.6M409.3 142.9h3.6M411.1 141.1v3.6M385.5 119.0h3.6M387.3 117.2v3.6M403.8 87.2h3.6M405.6 85.4v3.6M419.9 125.4h3.6M421.7 123.6v3.6M477.3 110.9h3.6M479.1 109.1v3.6M398.3 88.4h3.6M400.1 86.6v3.6M452.4 135.1h3.6M454.2 133.3v3.6M431.3 108.5h3.6M433.1 106.7v3.6M439.4 157.1h3.6M441.2 155.3v3.6M447.9 132.7h3.6M449.7 130.9v3.6M437.6 171.8h3.6M439.4 170.0v3.6M417.5 90.5h3.6M419.3 88.7v3.6M424.6 147.9h3.6M426.4 146.1v3.6" stroke="#151515" stroke-width="0.8" fill="none"/>
<path d="M452.6 159.8l1.45 -1.45l1.45 1.45l-1.45 1.45zM376.8 156.9l1.45 -1.45l1.45 1.45l-1.45 1.45zM418.1 137.2l1.45 -1.45l1.45 1.45l-1.45 1.45zM407.9 62.1l1.45 -1.45l1.45 1.45l-1.45 1.45zM429.6 92.7l1.45 -1.45l1.45 1.45l-1.45 1.45zM401.5 145.0l1.45 -1.45l1.45 1.45l-1.45 1.45zM381.1 125.3l1.45 -1.45l1.45 1.45l-1.45 1.45zM405.1 154.8l1.45 -1.45l1.45 1.45l-1.45 1.45zM409.9 155.6l1.45 -1.45l1.45 1.45l-1.45 1.45zM446.2 121.6l1.45 -1.45l1.45 1.45l-1.45 1.45zM426.2 106.9l1.45 -1.45l1.45 1.45l-1.45 1.45zM423.5 102.0l1.45 -1.45l1.45 1.45l-1.45 1.45zM419.7 79.5l1.45 -1.45l1.45 1.45l-1.45 1.45zM454.2 113.8l1.45 -1.45l1.45 1.45l-1.45 1.45zM430.1 128.3l1.45 -1.45l1.45 1.45l-1.45 1.45zM454.3 138.8l1.45 -1.45l1.45 1.45l-1.45 1.45zM395.2 127.9l1.45 -1.45l1.45 1.45l-1.45 1.45zM418.8 132.1l1.45 -1.45l1.45 1.45l-1.45 1.45zM475.0 179.5l1.45 -1.45l1.45 1.45l-1.45 1.45zM389.2 129.0l1.45 -1.45l1.45 1.45l-1.45 1.45zM411.7 94.1l1.45 -1.45l1.45 1.45l-1.45 1.45zM405.8 105.7l1.45 -1.45l1.45 1.45l-1.45 1.45zM427.3 134.4l1.45 -1.45l1.45 1.45l-1.45 1.45zM351.3 105.7l1.45 -1.45l1.45 1.45l-1.45 1.45zM342.8 107.2l1.45 -1.45l1.45 1.45l-1.45 1.45zM442.5 129.5l1.45 -1.45l1.45 1.45l-1.45 1.45zM455.8 118.6l1.45 -1.45l1.45 1.45l-1.45 1.45zM390.5 143.0l1.45 -1.45l1.45 1.45l-1.45 1.45zM432.1 140.7l1.45 -1.45l1.45 1.45l-1.45 1.45zM470.7 130.4l1.45 -1.45l1.45 1.45l-1.45 1.45zM480.9 124.0l1.45 -1.45l1.45 1.45l-1.45 1.45zM417.6 80.9l1.45 -1.45l1.45 1.45l-1.45 1.45zM366.6 121.9l1.45 -1.45l1.45 1.45l-1.45 1.45zM418.1 123.5l1.45 -1.45l1.45 1.45l-1.45 1.45zM426.3 145.5l1.45 -1.45l1.45 1.45l-1.45 1.45zM409.2 96.3l1.45 -1.45l1.45 1.45l-1.45 1.45zM450.9 90.9l1.45 -1.45l1.45 1.45l-1.45 1.45zM383.9 125.8l1.45 -1.45l1.45 1.45l-1.45 1.45zM404.8 152.1l1.45 -1.45l1.45 1.45l-1.45 1.45zM389.8 83.7l1.45 -1.45l1.45 1.45l-1.45 1.45zM420.5 122.2l1.45 -1.45l1.45 1.45l-1.45 1.45zM400.6 144.4l1.45 -1.45l1.45 1.45l-1.45 1.45zM449.1 128.8l1.45 -1.45l1.45 1.45l-1.45 1.45zM368.7 193.8l1.45 -1.45l1.45 1.45l-1.45 1.45zM433.3 144.0l1.45 -1.45l1.45 1.45l-1.45 1.45zM420.1 135.5l1.45 -1.45l1.45 1.45l-1.45 1.45zM394.3 110.6l1.45 -1.45l1.45 1.45l-1.45 1.45zM467.2 138.7l1.45 -1.45l1.45 1.45l-1.45 1.45zM440.5 128.4l1.45 -1.45l1.45 1.45l-1.45 1.45zM377.6 167.4l1.45 -1.45l1.45 1.45l-1.45 1.45zM432.5 111.7l1.45 -1.45l1.45 1.45l-1.45 1.45zM456.1 152.3l1.45 -1.45l1.45 1.45l-1.45 1.45zM402.0 120.6l1.45 -1.45l1.45 1.45l-1.45 1.45zM465.4 84.2l1.45 -1.45l1.45 1.45l-1.45 1.45zM427.7 110.3l1.45 -1.45l1.45 1.45l-1.45 1.45zM393.3 90.8l1.45 -1.45l1.45 1.45l-1.45 1.45zM398.3 169.8l1.45 -1.45l1.45 1.45l-1.45 1.45zM436.5 110.7l1.45 -1.45l1.45 1.45l-1.45 1.45zM403.8 129.8l1.45 -1.45l1.45 1.45l-1.45 1.45zM452.4 147.5l1.45 -1.45l1.45 1.45l-1.45 1.45zM446.4 147.7l1.45 -1.45l1.45 1.45l-1.45 1.45zM441.2 152.7l1.45 -1.45l1.45 1.45l-1.45 1.45zM440.4 169.7l1.45 -1.45l1.45 1.45l-1.45 1.45zM401.5 102.3l1.45 -1.45l1.45 1.45l-1.45 1.45zM456.4 111.5l1.45 -1.45l1.45 1.45l-1.45 1.45zM416.8 95.6l1.45 -1.45l1.45 1.45l-1.45 1.45zM447.0 106.7l1.45 -1.45l1.45 1.45l-1.45 1.45zM395.4 110.2l1.45 -1.45l1.45 1.45l-1.45 1.45zM398.6 131.7l1.45 -1.45l1.45 1.45l-1.45 1.45zM414.3 105.1l1.45 -1.45l1.45 1.45l-1.45 1.45zM430.1 147.4l1.45 -1.45l1.45 1.45l-1.45 1.45zM425.6 107.6l1.45 -1.45l1.45 1.45l-1.45 1.45zM380.1 163.9l1.45 -1.45l1.45 1.45l-1.45 1.45zM427.3 140.2l1.45 -1.45l1.45 1.45l-1.45 1.45zM406.6 113.3l1.45 -1.45l1.45 1.45l-1.45 1.45zM399.6 154.4l1.45 -1.45l1.45 1.45l-1.45 1.45zM390.6 137.2l1.45 -1.45l1.45 1.45l-1.45 1.45zM398.8 141.2l1.45 -1.45l1.45 1.45l-1.45 1.45zM447.3 139.9l1.45 -1.45l1.45 1.45l-1.45 1.45zM399.4 101.2l1.45 -1.45l1.45 1.45l-1.45 1.45zM404.9 89.6l1.45 -1.45l1.45 1.45l-1.45 1.45zM337.2 163.1l1.45 -1.45l1.45 1.45l-1.45 1.45zM480.4 146.2l1.45 -1.45l1.45 1.45l-1.45 1.45zM407.3 101.6l1.45 -1.45l1.45 1.45l-1.45 1.45zM392.5 150.0l1.45 -1.45l1.45 1.45l-1.45 1.45zM438.8 151.0l1.45 -1.45l1.45 1.45l-1.45 1.45zM441.0 137.3l1.45 -1.45l1.45 1.45l-1.45 1.45zM470.3 72.2l1.45 -1.45l1.45 1.45l-1.45 1.45zM429.9 121.4l1.45 -1.45l1.45 1.45l-1.45 1.45zM418.1 109.0l1.45 -1.45l1.45 1.45l-1.45 1.45zM371.1 114.2l1.45 -1.45l1.45 1.45l-1.45 1.45zM388.7 155.5l1.45 -1.45l1.45 1.45l-1.45 1.45zM448.0 121.1l1.45 -1.45l1.45 1.45l-1.45 1.45zM493.6 147.6l1.45 -1.45l1.45 1.45l-1.45 1.45zM431.6 100.8l1.45 -1.45l1.45 1.45l-1.45 1.45zM418.4 158.7l1.45 -1.45l1.45 1.45l-1.45 1.45zM404.6 125.3l1.45 -1.45l1.45 1.45l-1.45 1.45zM462.1 78.9l1.45 -1.45l1.45 1.45l-1.45 1.45zM403.8 124.6l1.45 -1.45l1.45 1.45l-1.45 1.45zM398.9 107.1l1.45 -1.45l1.45 1.45l-1.45 1.45zM347.0 139.5l1.45 -1.45l1.45 1.45l-1.45 1.45zM456.2 183.0l1.45 -1.45l1.45 1.45l-1.45 1.45zM481.4 93.8l1.45 -1.45l1.45 1.45l-1.45 1.45zM482.8 134.8l1.45 -1.45l1.45 1.45l-1.45 1.45zM403.2 143.6l1.45 -1.45l1.45 1.45l-1.45 1.45zM424.0 121.7l1.45 -1.45l1.45 1.45l-1.45 1.45zM446.9 144.3l1.45 -1.45l1.45 1.45l-1.45 1.45zM423.8 137.2l1.45 -1.45l1.45 1.45l-1.45 1.45zM463.4 65.2l1.45 -1.45l1.45 1.45l-1.45 1.45zM424.5 128.8l1.45 -1.45l1.45 1.45l-1.45 1.45zM417.0 148.8l1.45 -1.45l1.45 1.45l-1.45 1.45zM400.2 139.5l1.45 -1.45l1.45 1.45l-1.45 1.45zM417.3 124.5l1.45 -1.45l1.45 1.45l-1.45 1.45zM381.7 142.8l1.45 -1.45l1.45 1.45l-1.45 1.45zM405.4 127.3l1.45 -1.45l1.45 1.45l-1.45 1.45zM416.9 176.0l1.45 -1.45l1.45 1.45l-1.45 1.45zM404.0 161.9l1.45 -1.45l1.45 1.45l-1.45 1.45zM401.8 106.7l1.45 -1.45l1.45 1.45l-1.45 1.45zM471.3 95.2l1.45 -1.45l1.45 1.45l-1.45 1.45zM400.0 167.2l1.45 -1.45l1.45 1.45l-1.45 1.45zM388.1 124.0l1.45 -1.45l1.45 1.45l-1.45 1.45zM457.8 166.4l1.45 -1.45l1.45 1.45l-1.45 1.45zM402.5 179.2l1.45 -1.45l1.45 1.45l-1.45 1.45zM468.1 130.0l1.45 -1.45l1.45 1.45l-1.45 1.45zM422.5 149.1l1.45 -1.45l1.45 1.45l-1.45 1.45zM409.6 69.1l1.45 -1.45l1.45 1.45l-1.45 1.45zM398.3 66.4l1.45 -1.45l1.45 1.45l-1.45 1.45zM437.6 105.3l1.45 -1.45l1.45 1.45l-1.45 1.45zM414.8 117.6l1.45 -1.45l1.45 1.45l-1.45 1.45zM451.1 76.8l1.45 -1.45l1.45 1.45l-1.45 1.45zM370.0 142.2l1.45 -1.45l1.45 1.45l-1.45 1.45zM440.1 137.5l1.45 -1.45l1.45 1.45l-1.45 1.45zM438.8 94.4l1.45 -1.45l1.45 1.45l-1.45 1.45zM422.2 104.3l1.45 -1.45l1.45 1.45l-1.45 1.45zM344.5 147.2l1.45 -1.45l1.45 1.45l-1.45 1.45zM449.2 115.8l1.45 -1.45l1.45 1.45l-1.45 1.45zM395.8 130.2l1.45 -1.45l1.45 1.45l-1.45 1.45zM430.5 129.0l1.45 -1.45l1.45 1.45l-1.45 1.45zM451.5 131.1l1.45 -1.45l1.45 1.45l-1.45 1.45zM341.4 181.9l1.45 -1.45l1.45 1.45l-1.45 1.45zM420.1 144.3l1.45 -1.45l1.45 1.45l-1.45 1.45zM448.9 143.1l1.45 -1.45l1.45 1.45l-1.45 1.45zM494.6 85.8l1.45 -1.45l1.45 1.45l-1.45 1.45zM417.2 130.9l1.45 -1.45l1.45 1.45l-1.45 1.45zM441.8 112.9l1.45 -1.45l1.45 1.45l-1.45 1.45zM362.9 154.2l1.45 -1.45l1.45 1.45l-1.45 1.45zM407.1 121.9l1.45 -1.45l1.45 1.45l-1.45 1.45zM485.7 92.3l1.45 -1.45l1.45 1.45l-1.45 1.45zM484.1 133.1l1.45 -1.45l1.45 1.45l-1.45 1.45zM400.7 133.4l1.45 -1.45l1.45 1.45l-1.45 1.45zM418.9 90.5l1.45 -1.45l1.45 1.45l-1.45 1.45zM407.5 156.7l1.45 -1.45l1.45 1.45l-1.45 1.45zM438.1 165.0l1.45 -1.45l1.45 1.45l-1.45 1.45zM423.5 147.6l1.45 -1.45l1.45 1.45l-1.45 1.45zM439.4 148.3l1.45 -1.45l1.45 1.45l-1.45 1.45zM393.1 131.8l1.45 -1.45l1.45 1.45l-1.45 1.45zM431.1 106.2l1.45 -1.45l1.45 1.45l-1.45 1.45zM435.0 115.7l1.45 -1.45l1.45 1.45l-1.45 1.45zM401.6 71.3l1.45 -1.45l1.45 1.45l-1.45 1.45zM355.4 104.1l1.45 -1.45l1.45 1.45l-1.45 1.45zM413.3 102.3l1.45 -1.45l1.45 1.45l-1.45 1.45zM374.0 151.8l1.45 -1.45l1.45 1.45l-1.45 1.45zM401.7 153.3l1.45 -1.45l1.45 1.45l-1.45 1.45zM401.7 112.1l1.45 -1.45l1.45 1.45l-1.45 1.45zM441.1 143.5l1.45 -1.45l1.45 1.45l-1.45 1.45zM508.4 112.1l1.45 -1.45l1.45 1.45l-1.45 1.45zM441.9 142.2l1.45 -1.45l1.45 1.45l-1.45 1.45zM439.9 159.1l1.45 -1.45l1.45 1.45l-1.45 1.45zM439.8 64.4l1.45 -1.45l1.45 1.45l-1.45 1.45zM390.2 134.1l1.45 -1.45l1.45 1.45l-1.45 1.45zM481.5 111.4l1.45 -1.45l1.45 1.45l-1.45 1.45zM429.9 138.4l1.45 -1.45l1.45 1.45l-1.45 1.45zM450.5 162.0l1.45 -1.45l1.45 1.45l-1.45 1.45zM399.5 82.8l1.45 -1.45l1.45 1.45l-1.45 1.45zM364.6 103.1l1.45 -1.45l1.45 1.45l-1.45 1.45zM488.3 80.0l1.45 -1.45l1.45 1.45l-1.45 1.45zM415.0 164.0l1.45 -1.45l1.45 1.45l-1.45 1.45zM389.9 187.6l1.45 -1.45l1.45 1.45l-1.45 1.45zM421.7 146.4l1.45 -1.45l1.45 1.45l-1.45 1.45zM393.0 104.0l1.45 -1.45l1.45 1.45l-1.45 1.45zM399.1 139.4l1.45 -1.45l1.45 1.45l-1.45 1.45zM416.1 138.0l1.45 -1.45l1.45 1.45l-1.45 1.45zM394.3 150.3l1.45 -1.45l1.45 1.45l-1.45 1.45zM473.8 133.7l1.45 -1.45l1.45 1.45l-1.45 1.45zM368.3 154.6l1.45 -1.45l1.45 1.45l-1.45 1.45zM414.0 126.4l1.45 -1.45l1.45 1.45l-1.45 1.45zM340.0 109.2l1.45 -1.45l1.45 1.45l-1.45 1.45zM393.3 123.8l1.45 -1.45l1.45 1.45l-1.45 1.45zM419.6 104.7l1.45 -1.45l1.45 1.45l-1.45 1.45zM417.7 75.4l1.45 -1.45l1.45 1.45l-1.45 1.45zM397.3 74.9l1.45 -1.45l1.45 1.45l-1.45 1.45zM466.3 147.0l1.45 -1.45l1.45 1.45l-1.45 1.45zM389.9 119.5l1.45 -1.45l1.45 1.45l-1.45 1.45zM447.3 144.5l1.45 -1.45l1.45 1.45l-1.45 1.45zM393.5 82.8l1.45 -1.45l1.45 1.45l-1.45 1.45zM430.9 151.1l1.45 -1.45l1.45 1.45l-1.45 1.45zM357.3 117.1l1.45 -1.45l1.45 1.45l-1.45 1.45zM435.7 81.6l1.45 -1.45l1.45 1.45l-1.45 1.45zM382.7 141.2l1.45 -1.45l1.45 1.45l-1.45 1.45zM489.0 142.1l1.45 -1.45l1.45 1.45l-1.45 1.45zM409.4 150.3l1.45 -1.45l1.45 1.45l-1.45 1.45zM445.3 166.8l1.45 -1.45l1.45 1.45l-1.45 1.45zM450.9 152.9l1.45 -1.45l1.45 1.45l-1.45 1.45zM410.7 105.0l1.45 -1.45l1.45 1.45l-1.45 1.45zM453.5 143.7l1.45 -1.45l1.45 1.45l-1.45 1.45zM374.9 114.8l1.45 -1.45l1.45 1.45l-1.45 1.45zM408.7 156.1l1.45 -1.45l1.45 1.45l-1.45 1.45zM402.8 131.9l1.45 -1.45l1.45 1.45l-1.45 1.45zM365.3 192.3l1.45 -1.45l1.45 1.45l-1.45 1.45zM340.3 98.5l1.45 -1.45l1.45 1.45l-1.45 1.45zM424.1 121.1l1.45 -1.45l1.45 1.45l-1.45 1.45zM444.5 65.1l1.45 -1.45l1.45 1.45l-1.45 1.45zM392.5 103.7l1.45 -1.45l1.45 1.45l-1.45 1.45zM430.6 138.8l1.45 -1.45l1.45 1.45l-1.45 1.45zM404.5 169.5l1.45 -1.45l1.45 1.45l-1.45 1.45zM430.4 99.5l1.45 -1.45l1.45 1.45l-1.45 1.45zM387.8 161.3l1.45 -1.45l1.45 1.45l-1.45 1.45zM404.5 169.9l1.45 -1.45l1.45 1.45l-1.45 1.45zM395.1 101.3l1.45 -1.45l1.45 1.45l-1.45 1.45zM418.9 135.9l1.45 -1.45l1.45 1.45l-1.45 1.45zM374.6 164.7l1.45 -1.45l1.45 1.45l-1.45 1.45zM405.5 88.0l1.45 -1.45l1.45 1.45l-1.45 1.45zM478.8 154.9l1.45 -1.45l1.45 1.45l-1.45 1.45zM434.8 145.5l1.45 -1.45l1.45 1.45l-1.45 1.45zM458.0 157.9l1.45 -1.45l1.45 1.45l-1.45 1.45zM371.9 92.9l1.45 -1.45l1.45 1.45l-1.45 1.45zM433.9 150.6l1.45 -1.45l1.45 1.45l-1.45 1.45zM440.0 149.5l1.45 -1.45l1.45 1.45l-1.45 1.45zM408.4 148.2l1.45 -1.45l1.45 1.45l-1.45 1.45zM419.0 130.9l1.45 -1.45l1.45 1.45l-1.45 1.45zM428.9 108.8l1.45 -1.45l1.45 1.45l-1.45 1.45zM422.9 148.4l1.45 -1.45l1.45 1.45l-1.45 1.45zM409.5 138.6l1.45 -1.45l1.45 1.45l-1.45 1.45zM375.3 159.6l1.45 -1.45l1.45 1.45l-1.45 1.45zM404.3 102.9l1.45 -1.45l1.45 1.45l-1.45 1.45zM375.2 118.7l1.45 -1.45l1.45 1.45l-1.45 1.45zM433.7 147.1l1.45 -1.45l1.45 1.45l-1.45 1.45zM413.5 102.2l1.45 -1.45l1.45 1.45l-1.45 1.45zM468.5 146.6l1.45 -1.45l1.45 1.45l-1.45 1.45zM382.0 139.7l1.45 -1.45l1.45 1.45l-1.45 1.45zM448.6 97.6l1.45 -1.45l1.45 1.45l-1.45 1.45zM419.4 98.6l1.45 -1.45l1.45 1.45l-1.45 1.45zM462.4 113.9l1.45 -1.45l1.45 1.45l-1.45 1.45zM452.4 177.0l1.45 -1.45l1.45 1.45l-1.45 1.45zM401.3 113.8l1.45 -1.45l1.45 1.45l-1.45 1.45zM446.0 100.9l1.45 -1.45l1.45 1.45l-1.45 1.45zM390.8 94.7l1.45 -1.45l1.45 1.45l-1.45 1.45zM426.3 138.7l1.45 -1.45l1.45 1.45l-1.45 1.45zM385.2 182.3l1.45 -1.45l1.45 1.45l-1.45 1.45zM444.7 101.0l1.45 -1.45l1.45 1.45l-1.45 1.45zM435.4 110.3l1.45 -1.45l1.45 1.45l-1.45 1.45zM475.0 139.8l1.45 -1.45l1.45 1.45l-1.45 1.45zM407.7 78.2l1.45 -1.45l1.45 1.45l-1.45 1.45zM418.0 88.5l1.45 -1.45l1.45 1.45l-1.45 1.45zM447.6 70.2l1.45 -1.45l1.45 1.45l-1.45 1.45zM434.7 123.6l1.45 -1.45l1.45 1.45l-1.45 1.45zM388.0 108.9l1.45 -1.45l1.45 1.45l-1.45 1.45zM417.7 165.3l1.45 -1.45l1.45 1.45l-1.45 1.45zM477.5 156.8l1.45 -1.45l1.45 1.45l-1.45 1.45zM430.3 89.5l1.45 -1.45l1.45 1.45l-1.45 1.45zM383.7 107.5l1.45 -1.45l1.45 1.45l-1.45 1.45zM417.0 151.1l1.45 -1.45l1.45 1.45l-1.45 1.45zM394.4 99.8l1.45 -1.45l1.45 1.45l-1.45 1.45zM395.4 100.2l1.45 -1.45l1.45 1.45l-1.45 1.45zM377.9 81.6l1.45 -1.45l1.45 1.45l-1.45 1.45zM371.6 99.0l1.45 -1.45l1.45 1.45l-1.45 1.45zM373.5 155.4l1.45 -1.45l1.45 1.45l-1.45 1.45zM424.8 66.1l1.45 -1.45l1.45 1.45l-1.45 1.45zM423.2 118.2l1.45 -1.45l1.45 1.45l-1.45 1.45zM395.6 164.9l1.45 -1.45l1.45 1.45l-1.45 1.45zM443.3 149.3l1.45 -1.45l1.45 1.45l-1.45 1.45zM401.9 85.9l1.45 -1.45l1.45 1.45l-1.45 1.45zM445.4 115.5l1.45 -1.45l1.45 1.45l-1.45 1.45zM391.9 150.5l1.45 -1.45l1.45 1.45l-1.45 1.45zM458.3 85.1l1.45 -1.45l1.45 1.45l-1.45 1.45zM421.4 134.6l1.45 -1.45l1.45 1.45l-1.45 1.45zM399.9 113.5l1.45 -1.45l1.45 1.45l-1.45 1.45zM422.8 154.0l1.45 -1.45l1.45 1.45l-1.45 1.45zM410.1 172.2l1.45 -1.45l1.45 1.45l-1.45 1.45zM409.5 145.8l1.45 -1.45l1.45 1.45l-1.45 1.45zM442.6 172.4l1.45 -1.45l1.45 1.45l-1.45 1.45zM435.3 110.2l1.45 -1.45l1.45 1.45l-1.45 1.45zM395.1 116.6l1.45 -1.45l1.45 1.45l-1.45 1.45zM463.5 131.4l1.45 -1.45l1.45 1.45l-1.45 1.45zM416.9 161.3l1.45 -1.45l1.45 1.45l-1.45 1.45zM398.9 75.9l1.45 -1.45l1.45 1.45l-1.45 1.45zM423.4 71.5l1.45 -1.45l1.45 1.45l-1.45 1.45zM445.4 133.1l1.45 -1.45l1.45 1.45l-1.45 1.45zM418.8 165.3l1.45 -1.45l1.45 1.45l-1.45 1.45zM381.7 153.9l1.45 -1.45l1.45 1.45l-1.45 1.45zM399.6 107.1l1.45 -1.45l1.45 1.45l-1.45 1.45zM400.5 84.8l1.45 -1.45l1.45 1.45l-1.45 1.45zM401.6 175.3l1.45 -1.45l1.45 1.45l-1.45 1.45zM440.1 153.6l1.45 -1.45l1.45 1.45l-1.45 1.45zM427.4 176.5l1.45 -1.45l1.45 1.45l-1.45 1.45zM400.6 127.9l1.45 -1.45l1.45 1.45l-1.45 1.45zM399.8 135.3l1.45 -1.45l1.45 1.45l-1.45 1.45zM392.6 164.3l1.45 -1.45l1.45 1.45l-1.45 1.45zM415.5 148.0l1.45 -1.45l1.45 1.45l-1.45 1.45zM450.9 101.0l1.45 -1.45l1.45 1.45l-1.45 1.45zM441.2 153.8l1.45 -1.45l1.45 1.45l-1.45 1.45zM413.6 114.0l1.45 -1.45l1.45 1.45l-1.45 1.45zM415.9 166.1l1.45 -1.45l1.45 1.45l-1.45 1.45zM416.4 165.4l1.45 -1.45l1.45 1.45l-1.45 1.45zM421.9 141.0l1.45 -1.45l1.45 1.45l-1.45 1.45zM444.8 117.8l1.45 -1.45l1.45 1.45l-1.45 1.45zM457.5 87.4l1.45 -1.45l1.45 1.45l-1.45 1.45zM479.0 90.7l1.45 -1.45l1.45 1.45l-1.45 1.45zM352.5 110.9l1.45 -1.45l1.45 1.45l-1.45 1.45zM400.5 153.6l1.45 -1.45l1.45 1.45l-1.45 1.45zM451.4 135.5l1.45 -1.45l1.45 1.45l-1.45 1.45zM444.4 104.8l1.45 -1.45l1.45 1.45l-1.45 1.45zM440.2 133.8l1.45 -1.45l1.45 1.45l-1.45 1.45zM423.9 154.3l1.45 -1.45l1.45 1.45l-1.45 1.45zM435.8 111.9l1.45 -1.45l1.45 1.45l-1.45 1.45zM411.6 141.5l1.45 -1.45l1.45 1.45l-1.45 1.45zM389.8 142.9l1.45 -1.45l1.45 1.45l-1.45 1.45zM428.3 120.4l1.45 -1.45l1.45 1.45l-1.45 1.45zM398.9 103.0l1.45 -1.45l1.45 1.45l-1.45 1.45zM416.0 163.2l1.45 -1.45l1.45 1.45l-1.45 1.45zM367.0 128.1l1.45 -1.45l1.45 1.45l-1.45 1.45zM375.3 67.4l1.45 -1.45l1.45 1.45l-1.45 1.45zM429.7 174.0l1.45 -1.45l1.45 1.45l-1.45 1.45zM401.6 159.1l1.45 -1.45l1.45 1.45l-1.45 1.45zM355.3 158.7l1.45 -1.45l1.45 1.45l-1.45 1.45zM397.3 105.3l1.45 -1.45l1.45 1.45l-1.45 1.45zM376.4 98.0l1.45 -1.45l1.45 1.45l-1.45 1.45zM389.8 129.2l1.45 -1.45l1.45 1.45l-1.45 1.45zM393.3 103.3l1.45 -1.45l1.45 1.45l-1.45 1.45zM386.3 61.0l1.45 -1.45l1.45 1.45l-1.45 1.45zM456.5 145.2l1.45 -1.45l1.45 1.45l-1.45 1.45zM458.0 112.5l1.45 -1.45l1.45 1.45l-1.45 1.45zM418.1 167.6l1.45 -1.45l1.45 1.45l-1.45 1.45zM410.9 105.9l1.45 -1.45l1.45 1.45l-1.45 1.45zM364.3 157.1l1.45 -1.45l1.45 1.45l-1.45 1.45zM418.8 123.0l1.45 -1.45l1.45 1.45l-1.45 1.45zM417.1 145.4l1.45 -1.45l1.45 1.45l-1.45 1.45zM402.0 119.5l1.45 -1.45l1.45 1.45l-1.45 1.45zM447.1 122.4l1.45 -1.45l1.45 1.45l-1.45 1.45zM339.7 108.0l1.45 -1.45l1.45 1.45l-1.45 1.45zM422.2 122.4l1.45 -1.45l1.45 1.45l-1.45 1.45zM428.0 105.5l1.45 -1.45l1.45 1.45l-1.45 1.45zM424.7 157.3l1.45 -1.45l1.45 1.45l-1.45 1.45zM471.2 110.3l1.45 -1.45l1.45 1.45l-1.45 1.45zM368.2 106.6l1.45 -1.45l1.45 1.45l-1.45 1.45zM383.8 127.7l1.45 -1.45l1.45 1.45l-1.45 1.45zM401.6 142.0l1.45 -1.45l1.45 1.45l-1.45 1.45zM361.7 157.6l1.45 -1.45l1.45 1.45l-1.45 1.45zM419.2 113.8l1.45 -1.45l1.45 1.45l-1.45 1.45zM428.7 120.7l1.45 -1.45l1.45 1.45l-1.45 1.45zM416.5 107.8l1.45 -1.45l1.45 1.45l-1.45 1.45zM395.9 103.4l1.45 -1.45l1.45 1.45l-1.45 1.45zM340.7 107.9l1.45 -1.45l1.45 1.45l-1.45 1.45zM476.4 126.7l1.45 -1.45l1.45 1.45l-1.45 1.45zM393.1 101.1l1.45 -1.45l1.45 1.45l-1.45 1.45zM404.7 98.1l1.45 -1.45l1.45 1.45l-1.45 1.45zM389.5 160.5l1.45 -1.45l1.45 1.45l-1.45 1.45zM469.2 120.9l1.45 -1.45l1.45 1.45l-1.45 1.45zM409.6 105.2l1.45 -1.45l1.45 1.45l-1.45 1.45zM425.9 139.2l1.45 -1.45l1.45 1.45l-1.45 1.45zM421.1 109.4l1.45 -1.45l1.45 1.45l-1.45 1.45zM478.3 135.5l1.45 -1.45l1.45 1.45l-1.45 1.45zM426.2 89.5l1.45 -1.45l1.45 1.45l-1.45 1.45zM480.9 131.6l1.45 -1.45l1.45 1.45l-1.45 1.45zM426.1 134.6l1.45 -1.45l1.45 1.45l-1.45 1.45zM489.9 141.2l1.45 -1.45l1.45 1.45l-1.45 1.45zM443.1 108.1l1.45 -1.45l1.45 1.45l-1.45 1.45zM403.4 178.9l1.45 -1.45l1.45 1.45l-1.45 1.45zM389.3 156.0l1.45 -1.45l1.45 1.45l-1.45 1.45zM404.8 96.7l1.45 -1.45l1.45 1.45l-1.45 1.45zM385.6 87.5l1.45 -1.45l1.45 1.45l-1.45 1.45zM388.9 100.3l1.45 -1.45l1.45 1.45l-1.45 1.45zM366.0 132.5l1.45 -1.45l1.45 1.45l-1.45 1.45zM400.2 134.8l1.45 -1.45l1.45 1.45l-1.45 1.45zM414.3 90.1l1.45 -1.45l1.45 1.45l-1.45 1.45zM386.1 133.0l1.45 -1.45l1.45 1.45l-1.45 1.45zM416.9 117.5l1.45 -1.45l1.45 1.45l-1.45 1.45zM439.0 128.3l1.45 -1.45l1.45 1.45l-1.45 1.45zM460.4 125.7l1.45 -1.45l1.45 1.45l-1.45 1.45zM396.4 140.6l1.45 -1.45l1.45 1.45l-1.45 1.45zM364.3 111.3l1.45 -1.45l1.45 1.45l-1.45 1.45zM425.2 114.5l1.45 -1.45l1.45 1.45l-1.45 1.45zM424.0 131.1l1.45 -1.45l1.45 1.45l-1.45 1.45zM326.9 83.8l1.45 -1.45l1.45 1.45l-1.45 1.45zM417.2 103.7l1.45 -1.45l1.45 1.45l-1.45 1.45zM460.8 116.9l1.45 -1.45l1.45 1.45l-1.45 1.45zM403.1 142.3l1.45 -1.45l1.45 1.45l-1.45 1.45zM418.2 144.2l1.45 -1.45l1.45 1.45l-1.45 1.45zM406.1 150.5l1.45 -1.45l1.45 1.45l-1.45 1.45zM415.3 168.1l1.45 -1.45l1.45 1.45l-1.45 1.45zM421.6 134.9l1.45 -1.45l1.45 1.45l-1.45 1.45zM386.9 168.2l1.45 -1.45l1.45 1.45l-1.45 1.45zM452.3 199.6l1.45 -1.45l1.45 1.45l-1.45 1.45zM421.5 156.7l1.45 -1.45l1.45 1.45l-1.45 1.45zM427.2 102.5l1.45 -1.45l1.45 1.45l-1.45 1.45zM409.8 110.4l1.45 -1.45l1.45 1.45l-1.45 1.45zM418.7 143.1l1.45 -1.45l1.45 1.45l-1.45 1.45zM407.4 106.8l1.45 -1.45l1.45 1.45l-1.45 1.45zM360.9 156.6l1.45 -1.45l1.45 1.45l-1.45 1.45zM422.0 129.7l1.45 -1.45l1.45 1.45l-1.45 1.45zM441.8 82.1l1.45 -1.45l1.45 1.45l-1.45 1.45zM371.4 145.6l1.45 -1.45l1.45 1.45l-1.45 1.45zM416.9 123.8l1.45 -1.45l1.45 1.45l-1.45 1.45zM433.4 129.0l1.45 -1.45l1.45 1.45l-1.45 1.45zM380.2 100.7l1.45 -1.45l1.45 1.45l-1.45 1.45zM367.1 137.1l1.45 -1.45l1.45 1.45l-1.45 1.45zM443.6 139.4l1.45 -1.45l1.45 1.45l-1.45 1.45zM401.5 172.0l1.45 -1.45l1.45 1.45l-1.45 1.45zM423.0 109.3l1.45 -1.45l1.45 1.45l-1.45 1.45zM410.3 152.1l1.45 -1.45l1.45 1.45l-1.45 1.45zM423.3 139.9l1.45 -1.45l1.45 1.45l-1.45 1.45zM445.4 159.8l1.45 -1.45l1.45 1.45l-1.45 1.45zM405.2 132.3l1.45 -1.45l1.45 1.45l-1.45 1.45zM439.0 118.6l1.45 -1.45l1.45 1.45l-1.45 1.45zM464.6 98.0l1.45 -1.45l1.45 1.45l-1.45 1.45zM430.1 156.0l1.45 -1.45l1.45 1.45l-1.45 1.45zM398.3 159.9l1.45 -1.45l1.45 1.45l-1.45 1.45zM442.0 85.6l1.45 -1.45l1.45 1.45l-1.45 1.45zM438.0 160.9l1.45 -1.45l1.45 1.45l-1.45 1.45zM414.9 110.1l1.45 -1.45l1.45 1.45l-1.45 1.45zM468.3 142.4l1.45 -1.45l1.45 1.45l-1.45 1.45zM418.0 139.9l1.45 -1.45l1.45 1.45l-1.45 1.45zM396.9 117.3l1.45 -1.45l1.45 1.45l-1.45 1.45zM422.6 152.5l1.45 -1.45l1.45 1.45l-1.45 1.45zM402.2 125.9l1.45 -1.45l1.45 1.45l-1.45 1.45zM403.3 132.0l1.45 -1.45l1.45 1.45l-1.45 1.45zM469.8 115.6l1.45 -1.45l1.45 1.45l-1.45 1.45zM461.4 97.8l1.45 -1.45l1.45 1.45l-1.45 1.45zM423.4 149.8l1.45 -1.45l1.45 1.45l-1.45 1.45zM454.0 131.8l1.45 -1.45l1.45 1.45l-1.45 1.45zM421.3 143.7l1.45 -1.45l1.45 1.45l-1.45 1.45zM388.9 108.6l1.45 -1.45l1.45 1.45l-1.45 1.45zM458.7 142.7l1.45 -1.45l1.45 1.45l-1.45 1.45zM489.0 151.5l1.45 -1.45l1.45 1.45l-1.45 1.45zM410.5 132.1l1.45 -1.45l1.45 1.45l-1.45 1.45zM348.8 107.0l1.45 -1.45l1.45 1.45l-1.45 1.45zM517.5 93.5l1.45 -1.45l1.45 1.45l-1.45 1.45zM438.1 147.3l1.45 -1.45l1.45 1.45l-1.45 1.45zM470.4 142.7l1.45 -1.45l1.45 1.45l-1.45 1.45zM369.5 100.6l1.45 -1.45l1.45 1.45l-1.45 1.45zM454.6 149.7l1.45 -1.45l1.45 1.45l-1.45 1.45zM415.3 105.2l1.45 -1.45l1.45 1.45l-1.45 1.45zM406.5 91.9l1.45 -1.45l1.45 1.45l-1.45 1.45zM371.6 169.0l1.45 -1.45l1.45 1.45l-1.45 1.45zM415.5 115.7l1.45 -1.45l1.45 1.45l-1.45 1.45zM457.8 114.9l1.45 -1.45l1.45 1.45l-1.45 1.45zM419.8 133.4l1.45 -1.45l1.45 1.45l-1.45 1.45zM430.8 171.2l1.45 -1.45l1.45 1.45l-1.45 1.45zM473.5 144.6l1.45 -1.45l1.45 1.45l-1.45 1.45zM416.9 135.4l1.45 -1.45l1.45 1.45l-1.45 1.45zM476.1 112.8l1.45 -1.45l1.45 1.45l-1.45 1.45zM451.6 156.9l1.45 -1.45l1.45 1.45l-1.45 1.45zM413.7 140.0l1.45 -1.45l1.45 1.45l-1.45 1.45zM434.0 157.7l1.45 -1.45l1.45 1.45l-1.45 1.45zM447.3 161.3l1.45 -1.45l1.45 1.45l-1.45 1.45zM442.7 111.0l1.45 -1.45l1.45 1.45l-1.45 1.45zM455.9 140.5l1.45 -1.45l1.45 1.45l-1.45 1.45zM482.6 74.3l1.45 -1.45l1.45 1.45l-1.45 1.45zM419.8 160.1l1.45 -1.45l1.45 1.45l-1.45 1.45zM445.4 101.5l1.45 -1.45l1.45 1.45l-1.45 1.45zM432.9 125.0l1.45 -1.45l1.45 1.45l-1.45 1.45zM419.1 140.2l1.45 -1.45l1.45 1.45l-1.45 1.45zM487.6 126.5l1.45 -1.45l1.45 1.45l-1.45 1.45zM443.1 85.3l1.45 -1.45l1.45 1.45l-1.45 1.45zM395.1 169.0l1.45 -1.45l1.45 1.45l-1.45 1.45zM448.2 98.7l1.45 -1.45l1.45 1.45l-1.45 1.45zM398.3 156.2l1.45 -1.45l1.45 1.45l-1.45 1.45zM412.0 156.3l1.45 -1.45l1.45 1.45l-1.45 1.45zM471.8 107.1l1.45 -1.45l1.45 1.45l-1.45 1.45zM424.3 148.5l1.45 -1.45l1.45 1.45l-1.45 1.45zM380.3 117.9l1.45 -1.45l1.45 1.45l-1.45 1.45zM445.6 104.2l1.45 -1.45l1.45 1.45l-1.45 1.45zM390.8 159.2l1.45 -1.45l1.45 1.45l-1.45 1.45zM438.5 137.7l1.45 -1.45l1.45 1.45l-1.45 1.45zM427.0 130.8l1.45 -1.45l1.45 1.45l-1.45 1.45zM426.2 138.8l1.45 -1.45l1.45 1.45l-1.45 1.45zM427.4 143.7l1.45 -1.45l1.45 1.45l-1.45 1.45zM469.6 154.7l1.45 -1.45l1.45 1.45l-1.45 1.45zM463.3 101.1l1.45 -1.45l1.45 1.45l-1.45 1.45zM401.0 86.4l1.45 -1.45l1.45 1.45l-1.45 1.45zM426.6 98.7l1.45 -1.45l1.45 1.45l-1.45 1.45zM422.9 115.5l1.45 -1.45l1.45 1.45l-1.45 1.45zM452.9 110.6l1.45 -1.45l1.45 1.45l-1.45 1.45zM348.0 125.3l1.45 -1.45l1.45 1.45l-1.45 1.45zM440.2 97.8l1.45 -1.45l1.45 1.45l-1.45 1.45zM465.2 109.9l1.45 -1.45l1.45 1.45l-1.45 1.45zM439.8 105.1l1.45 -1.45l1.45 1.45l-1.45 1.45zM435.0 136.1l1.45 -1.45l1.45 1.45l-1.45 1.45zM372.5 141.6l1.45 -1.45l1.45 1.45l-1.45 1.45zM390.2 150.4l1.45 -1.45l1.45 1.45l-1.45 1.45zM439.5 106.9l1.45 -1.45l1.45 1.45l-1.45 1.45zM421.4 106.5l1.45 -1.45l1.45 1.45l-1.45 1.45zM381.6 158.4l1.45 -1.45l1.45 1.45l-1.45 1.45zM451.1 125.6l1.45 -1.45l1.45 1.45l-1.45 1.45zM433.0 159.5l1.45 -1.45l1.45 1.45l-1.45 1.45zM398.5 116.7l1.45 -1.45l1.45 1.45l-1.45 1.45zM384.5 163.0l1.45 -1.45l1.45 1.45l-1.45 1.45zM429.3 102.1l1.45 -1.45l1.45 1.45l-1.45 1.45zM460.4 124.9l1.45 -1.45l1.45 1.45l-1.45 1.45zM399.0 69.0l1.45 -1.45l1.45 1.45l-1.45 1.45zM463.2 101.0l1.45 -1.45l1.45 1.45l-1.45 1.45zM398.1 163.5l1.45 -1.45l1.45 1.45l-1.45 1.45zM407.7 148.3l1.45 -1.45l1.45 1.45l-1.45 1.45zM485.6 113.7l1.45 -1.45l1.45 1.45l-1.45 1.45zM416.3 151.0l1.45 -1.45l1.45 1.45l-1.45 1.45zM517.0 97.2l1.45 -1.45l1.45 1.45l-1.45 1.45zM462.8 78.7l1.45 -1.45l1.45 1.45l-1.45 1.45zM467.1 140.2l1.45 -1.45l1.45 1.45l-1.45 1.45zM403.5 78.6l1.45 -1.45l1.45 1.45l-1.45 1.45zM432.8 94.6l1.45 -1.45l1.45 1.45l-1.45 1.45zM429.4 164.7l1.45 -1.45l1.45 1.45l-1.45 1.45zM417.8 140.4l1.45 -1.45l1.45 1.45l-1.45 1.45zM332.6 92.4l1.45 -1.45l1.45 1.45l-1.45 1.45zM422.8 167.6l1.45 -1.45l1.45 1.45l-1.45 1.45zM413.4 140.8l1.45 -1.45l1.45 1.45l-1.45 1.45zM443.9 118.2l1.45 -1.45l1.45 1.45l-1.45 1.45zM381.6 110.7l1.45 -1.45l1.45 1.45l-1.45 1.45zM437.6 168.5l1.45 -1.45l1.45 1.45l-1.45 1.45zM419.1 112.1l1.45 -1.45l1.45 1.45l-1.45 1.45zM464.0 182.6l1.45 -1.45l1.45 1.45l-1.45 1.45zM439.5 106.8l1.45 -1.45l1.45 1.45l-1.45 1.45zM479.1 195.7l1.45 -1.45l1.45 1.45l-1.45 1.45zM420.6 81.5l1.45 -1.45l1.45 1.45l-1.45 1.45zM460.3 120.2l1.45 -1.45l1.45 1.45l-1.45 1.45zM452.4 131.9l1.45 -1.45l1.45 1.45l-1.45 1.45zM428.9 137.7l1.45 -1.45l1.45 1.45l-1.45 1.45zM416.3 116.8l1.45 -1.45l1.45 1.45l-1.45 1.45zM370.5 137.6l1.45 -1.45l1.45 1.45l-1.45 1.45zM429.3 81.6l1.45 -1.45l1.45 1.45l-1.45 1.45zM437.8 70.1l1.45 -1.45l1.45 1.45l-1.45 1.45zM420.1 101.3l1.45 -1.45l1.45 1.45l-1.45 1.45zM354.3 95.6l1.45 -1.45l1.45 1.45l-1.45 1.45zM443.6 114.1l1.45 -1.45l1.45 1.45l-1.45 1.45zM409.8 181.2l1.45 -1.45l1.45 1.45l-1.45 1.45zM431.6 177.5l1.45 -1.45l1.45 1.45l-1.45 1.45zM414.3 113.0l1.45 -1.45l1.45 1.45l-1.45 1.45zM383.2 84.4l1.45 -1.45l1.45 1.45l-1.45 1.45zM437.1 86.8l1.45 -1.45l1.45 1.45l-1.45 1.45zM414.1 163.6l1.45 -1.45l1.45 1.45l-1.45 1.45zM486.6 119.8l1.45 -1.45l1.45 1.45l-1.45 1.45zM381.3 145.8l1.45 -1.45l1.45 1.45l-1.45 1.45zM438.6 156.0l1.45 -1.45l1.45 1.45l-1.45 1.45zM439.9 146.5l1.45 -1.45l1.45 1.45l-1.45 1.45zM412.6 173.3l1.45 -1.45l1.45 1.45l-1.45 1.45zM417.8 176.0l1.45 -1.45l1.45 1.45l-1.45 1.45zM429.2 112.8l1.45 -1.45l1.45 1.45l-1.45 1.45zM420.3 80.2l1.45 -1.45l1.45 1.45l-1.45 1.45zM444.8 116.4l1.45 -1.45l1.45 1.45l-1.45 1.45zM442.8 125.7l1.45 -1.45l1.45 1.45l-1.45 1.45zM407.9 113.2l1.45 -1.45l1.45 1.45l-1.45 1.45zM460.6 109.9l1.45 -1.45l1.45 1.45l-1.45 1.45zM434.9 146.0l1.45 -1.45l1.45 1.45l-1.45 1.45zM405.7 111.6l1.45 -1.45l1.45 1.45l-1.45 1.45zM411.4 118.0l1.45 -1.45l1.45 1.45l-1.45 1.45zM408.4 106.3l1.45 -1.45l1.45 1.45l-1.45 1.45zM427.6 81.4l1.45 -1.45l1.45 1.45l-1.45 1.45zM412.5 129.9l1.45 -1.45l1.45 1.45l-1.45 1.45zM380.1 120.0l1.45 -1.45l1.45 1.45l-1.45 1.45zM404.5 93.9l1.45 -1.45l1.45 1.45l-1.45 1.45zM415.4 120.6l1.45 -1.45l1.45 1.45l-1.45 1.45zM449.3 122.0l1.45 -1.45l1.45 1.45l-1.45 1.45zM344.0 117.5l1.45 -1.45l1.45 1.45l-1.45 1.45zM524.5 95.2l1.45 -1.45l1.45 1.45l-1.45 1.45zM391.9 82.0l1.45 -1.45l1.45 1.45l-1.45 1.45zM421.4 111.2l1.45 -1.45l1.45 1.45l-1.45 1.45zM407.1 166.4l1.45 -1.45l1.45 1.45l-1.45 1.45zM407.5 100.5l1.45 -1.45l1.45 1.45l-1.45 1.45zM433.1 139.7l1.45 -1.45l1.45 1.45l-1.45 1.45zM448.7 106.5l1.45 -1.45l1.45 1.45l-1.45 1.45zM479.6 89.2l1.45 -1.45l1.45 1.45l-1.45 1.45zM396.6 172.6l1.45 -1.45l1.45 1.45l-1.45 1.45zM405.1 104.4l1.45 -1.45l1.45 1.45l-1.45 1.45zM408.5 133.6l1.45 -1.45l1.45 1.45l-1.45 1.45zM363.9 167.3l1.45 -1.45l1.45 1.45l-1.45 1.45zM458.5 196.7l1.45 -1.45l1.45 1.45l-1.45 1.45zM382.1 114.5l1.45 -1.45l1.45 1.45l-1.45 1.45zM430.4 145.5l1.45 -1.45l1.45 1.45l-1.45 1.45zM448.8 148.1l1.45 -1.45l1.45 1.45l-1.45 1.45zM413.2 163.3l1.45 -1.45l1.45 1.45l-1.45 1.45zM412.0 96.8l1.45 -1.45l1.45 1.45l-1.45 1.45zM387.7 136.2l1.45 -1.45l1.45 1.45l-1.45 1.45zM400.7 143.2l1.45 -1.45l1.45 1.45l-1.45 1.45zM401.3 111.3l1.45 -1.45l1.45 1.45l-1.45 1.45zM423.3 119.7l1.45 -1.45l1.45 1.45l-1.45 1.45zM393.6 121.8l1.45 -1.45l1.45 1.45l-1.45 1.45zM386.1 180.4l1.45 -1.45l1.45 1.45l-1.45 1.45zM416.1 130.5l1.45 -1.45l1.45 1.45l-1.45 1.45zM361.4 129.2l1.45 -1.45l1.45 1.45l-1.45 1.45zM457.7 158.7l1.45 -1.45l1.45 1.45l-1.45 1.45zM434.2 152.7l1.45 -1.45l1.45 1.45l-1.45 1.45zM435.3 160.6l1.45 -1.45l1.45 1.45l-1.45 1.45zM440.0 136.9l1.45 -1.45l1.45 1.45l-1.45 1.45zM369.2 140.9l1.45 -1.45l1.45 1.45l-1.45 1.45zM454.4 154.5l1.45 -1.45l1.45 1.45l-1.45 1.45zM442.2 85.6l1.45 -1.45l1.45 1.45l-1.45 1.45zM460.4 129.7l1.45 -1.45l1.45 1.45l-1.45 1.45zM329.0 113.6l1.45 -1.45l1.45 1.45l-1.45 1.45zM425.7 171.9l1.45 -1.45l1.45 1.45l-1.45 1.45zM430.7 158.7l1.45 -1.45l1.45 1.45l-1.45 1.45zM461.4 102.5l1.45 -1.45l1.45 1.45l-1.45 1.45zM405.5 145.6l1.45 -1.45l1.45 1.45l-1.45 1.45zM415.6 181.5l1.45 -1.45l1.45 1.45l-1.45 1.45zM440.0 90.5l1.45 -1.45l1.45 1.45l-1.45 1.45zM364.1 96.1l1.45 -1.45l1.45 1.45l-1.45 1.45zM403.8 110.1l1.45 -1.45l1.45 1.45l-1.45 1.45zM388.9 58.7l1.45 -1.45l1.45 1.45l-1.45 1.45zM423.8 115.4l1.45 -1.45l1.45 1.45l-1.45 1.45zM459.5 112.3l1.45 -1.45l1.45 1.45l-1.45 1.45zM404.4 135.0l1.45 -1.45l1.45 1.45l-1.45 1.45zM422.4 110.3l1.45 -1.45l1.45 1.45l-1.45 1.45zM373.8 158.3l1.45 -1.45l1.45 1.45l-1.45 1.45zM424.2 137.5l1.45 -1.45l1.45 1.45l-1.45 1.45zM401.8 149.3l1.45 -1.45l1.45 1.45l-1.45 1.45zM436.2 115.6l1.45 -1.45l1.45 1.45l-1.45 1.45zM350.0 123.5l1.45 -1.45l1.45 1.45l-1.45 1.45zM417.2 138.0l1.45 -1.45l1.45 1.45l-1.45 1.45zM418.4 102.5l1.45 -1.45l1.45 1.45l-1.45 1.45zM385.3 84.0l1.45 -1.45l1.45 1.45l-1.45 1.45zM406.7 162.3l1.45 -1.45l1.45 1.45l-1.45 1.45zM435.1 165.1l1.45 -1.45l1.45 1.45l-1.45 1.45zM399.2 47.7l1.45 -1.45l1.45 1.45l-1.45 1.45zM420.5 122.3l1.45 -1.45l1.45 1.45l-1.45 1.45zM371.2 144.8l1.45 -1.45l1.45 1.45l-1.45 1.45zM423.4 82.5l1.45 -1.45l1.45 1.45l-1.45 1.45zM430.8 165.8l1.45 -1.45l1.45 1.45l-1.45 1.45zM388.7 94.1l1.45 -1.45l1.45 1.45l-1.45 1.45zM415.6 137.1l1.45 -1.45l1.45 1.45l-1.45 1.45zM410.8 119.7l1.45 -1.45l1.45 1.45l-1.45 1.45zM478.8 131.4l1.45 -1.45l1.45 1.45l-1.45 1.45zM373.8 115.8l1.45 -1.45l1.45 1.45l-1.45 1.45zM445.0 135.4l1.45 -1.45l1.45 1.45l-1.45 1.45zM417.7 131.4l1.45 -1.45l1.45 1.45l-1.45 1.45zM388.3 108.3l1.45 -1.45l1.45 1.45l-1.45 1.45zM421.4 116.2l1.45 -1.45l1.45 1.45l-1.45 1.45zM414.6 165.9l1.45 -1.45l1.45 1.45l-1.45 1.45zM440.3 143.9l1.45 -1.45l1.45 1.45l-1.45 1.45zM437.1 79.9l1.45 -1.45l1.45 1.45l-1.45 1.45zM429.0 137.6l1.45 -1.45l1.45 1.45l-1.45 1.45zM458.7 114.7l1.45 -1.45l1.45 1.45l-1.45 1.45zM410.5 138.2l1.45 -1.45l1.45 1.45l-1.45 1.45zM430.4 81.2l1.45 -1.45l1.45 1.45l-1.45 1.45zM417.2 157.5l1.45 -1.45l1.45 1.45l-1.45 1.45zM433.9 143.9l1.45 -1.45l1.45 1.45l-1.45 1.45zM421.2 184.2l1.45 -1.45l1.45 1.45l-1.45 1.45zM451.9 93.7l1.45 -1.45l1.45 1.45l-1.45 1.45zM422.6 148.5l1.45 -1.45l1.45 1.45l-1.45 1.45zM434.2 172.9l1.45 -1.45l1.45 1.45l-1.45 1.45zM442.0 107.1l1.45 -1.45l1.45 1.45l-1.45 1.45zM339.1 111.0l1.45 -1.45l1.45 1.45l-1.45 1.45zM390.1 133.8l1.45 -1.45l1.45 1.45l-1.45 1.45zM433.2 191.2l1.45 -1.45l1.45 1.45l-1.45 1.45zM417.0 118.6l1.45 -1.45l1.45 1.45l-1.45 1.45zM423.0 164.0l1.45 -1.45l1.45 1.45l-1.45 1.45zM423.1 105.3l1.45 -1.45l1.45 1.45l-1.45 1.45zM456.3 119.2l1.45 -1.45l1.45 1.45l-1.45 1.45zM391.9 158.2l1.45 -1.45l1.45 1.45l-1.45 1.45zM430.1 124.4l1.45 -1.45l1.45 1.45l-1.45 1.45zM423.8 108.7l1.45 -1.45l1.45 1.45l-1.45 1.45zM424.0 115.5l1.45 -1.45l1.45 1.45l-1.45 1.45zM376.2 103.3l1.45 -1.45l1.45 1.45l-1.45 1.45zM415.7 108.6l1.45 -1.45l1.45 1.45l-1.45 1.45zM422.9 95.6l1.45 -1.45l1.45 1.45l-1.45 1.45zM408.2 106.1l1.45 -1.45l1.45 1.45l-1.45 1.45zM398.3 118.3l1.45 -1.45l1.45 1.45l-1.45 1.45zM498.2 106.7l1.45 -1.45l1.45 1.45l-1.45 1.45zM411.8 95.6l1.45 -1.45l1.45 1.45l-1.45 1.45zM421.0 160.5l1.45 -1.45l1.45 1.45l-1.45 1.45zM371.7 150.3l1.45 -1.45l1.45 1.45l-1.45 1.45zM425.1 77.3l1.45 -1.45l1.45 1.45l-1.45 1.45zM441.8 138.0l1.45 -1.45l1.45 1.45l-1.45 1.45zM434.4 128.4l1.45 -1.45l1.45 1.45l-1.45 1.45zM389.4 111.4l1.45 -1.45l1.45 1.45l-1.45 1.45zM407.3 115.2l1.45 -1.45l1.45 1.45l-1.45 1.45zM414.8 132.5l1.45 -1.45l1.45 1.45l-1.45 1.45zM496.5 111.5l1.45 -1.45l1.45 1.45l-1.45 1.45zM406.6 159.5l1.45 -1.45l1.45 1.45l-1.45 1.45zM390.2 113.8l1.45 -1.45l1.45 1.45l-1.45 1.45zM433.1 136.7l1.45 -1.45l1.45 1.45l-1.45 1.45zM384.6 163.5l1.45 -1.45l1.45 1.45l-1.45 1.45zM393.5 154.2l1.45 -1.45l1.45 1.45l-1.45 1.45zM397.3 126.5l1.45 -1.45l1.45 1.45l-1.45 1.45zM514.2 137.3l1.45 -1.45l1.45 1.45l-1.45 1.45zM467.6 70.1l1.45 -1.45l1.45 1.45l-1.45 1.45zM414.3 179.3l1.45 -1.45l1.45 1.45l-1.45 1.45zM369.1 100.8l1.45 -1.45l1.45 1.45l-1.45 1.45zM421.8 93.8l1.45 -1.45l1.45 1.45l-1.45 1.45zM410.7 147.3l1.45 -1.45l1.45 1.45l-1.45 1.45zM469.8 115.9l1.45 -1.45l1.45 1.45l-1.45 1.45zM439.1 121.5l1.45 -1.45l1.45 1.45l-1.45 1.45zM370.6 135.5l1.45 -1.45l1.45 1.45l-1.45 1.45zM424.1 118.4l1.45 -1.45l1.45 1.45l-1.45 1.45zM414.5 126.7l1.45 -1.45l1.45 1.45l-1.45 1.45zM456.2 95.2l1.45 -1.45l1.45 1.45l-1.45 1.45zM405.2 106.7l1.45 -1.45l1.45 1.45l-1.45 1.45zM379.9 103.9l1.45 -1.45l1.45 1.45l-1.45 1.45zM468.9 148.3l1.45 -1.45l1.45 1.45l-1.45 1.45zM355.4 143.8l1.45 -1.45l1.45 1.45l-1.45 1.45zM456.2 146.4l1.45 -1.45l1.45 1.45l-1.45 1.45zM452.7 170.9l1.45 -1.45l1.45 1.45l-1.45 1.45zM436.7 89.3l1.45 -1.45l1.45 1.45l-1.45 1.45zM482.3 155.3l1.45 -1.45l1.45 1.45l-1.45 1.45zM417.2 175.7l1.45 -1.45l1.45 1.45l-1.45 1.45zM427.5 132.8l1.45 -1.45l1.45 1.45l-1.45 1.45zM412.6 146.2l1.45 -1.45l1.45 1.45l-1.45 1.45zM451.5 137.3l1.45 -1.45l1.45 1.45l-1.45 1.45zM412.8 108.1l1.45 -1.45l1.45 1.45l-1.45 1.45zM436.2 137.0l1.45 -1.45l1.45 1.45l-1.45 1.45zM490.6 120.6l1.45 -1.45l1.45 1.45l-1.45 1.45zM416.8 122.9l1.45 -1.45l1.45 1.45l-1.45 1.45zM433.4 140.3l1.45 -1.45l1.45 1.45l-1.45 1.45zM400.5 165.2l1.45 -1.45l1.45 1.45l-1.45 1.45zM406.3 112.4l1.45 -1.45l1.45 1.45l-1.45 1.45zM445.3 134.6l1.45 -1.45l1.45 1.45l-1.45 1.45zM423.8 184.9l1.45 -1.45l1.45 1.45l-1.45 1.45zM461.1 95.5l1.45 -1.45l1.45 1.45l-1.45 1.45zM422.5 97.8l1.45 -1.45l1.45 1.45l-1.45 1.45zM431.2 115.3l1.45 -1.45l1.45 1.45l-1.45 1.45zM446.1 134.2l1.45 -1.45l1.45 1.45l-1.45 1.45zM446.9 193.7l1.45 -1.45l1.45 1.45l-1.45 1.45zM472.7 146.5l1.45 -1.45l1.45 1.45l-1.45 1.45zM411.2 121.0l1.45 -1.45l1.45 1.45l-1.45 1.45zM401.7 162.5l1.45 -1.45l1.45 1.45l-1.45 1.45zM389.4 142.0l1.45 -1.45l1.45 1.45l-1.45 1.45zM382.8 99.2l1.45 -1.45l1.45 1.45l-1.45 1.45zM419.1 104.5l1.45 -1.45l1.45 1.45l-1.45 1.45zM413.1 115.2l1.45 -1.45l1.45 1.45l-1.45 1.45zM416.5 132.8l1.45 -1.45l1.45 1.45l-1.45 1.45zM395.3 142.0l1.45 -1.45l1.45 1.45l-1.45 1.45zM356.5 107.3l1.45 -1.45l1.45 1.45l-1.45 1.45zM447.1 73.4l1.45 -1.45l1.45 1.45l-1.45 1.45zM404.7 89.2l1.45 -1.45l1.45 1.45l-1.45 1.45zM476.7 114.1l1.45 -1.45l1.45 1.45l-1.45 1.45zM399.4 138.0l1.45 -1.45l1.45 1.45l-1.45 1.45zM393.6 114.7l1.45 -1.45l1.45 1.45l-1.45 1.45zM391.9 76.4l1.45 -1.45l1.45 1.45l-1.45 1.45zM520.4 115.6l1.45 -1.45l1.45 1.45l-1.45 1.45zM456.8 132.2l1.45 -1.45l1.45 1.45l-1.45 1.45zM419.5 166.8l1.45 -1.45l1.45 1.45l-1.45 1.45zM489.6 94.6l1.45 -1.45l1.45 1.45l-1.45 1.45zM361.5 55.2l1.45 -1.45l1.45 1.45l-1.45 1.45zM434.5 106.8l1.45 -1.45l1.45 1.45l-1.45 1.45zM367.3 131.6l1.45 -1.45l1.45 1.45l-1.45 1.45zM418.9 151.0l1.45 -1.45l1.45 1.45l-1.45 1.45zM395.5 105.4l1.45 -1.45l1.45 1.45l-1.45 1.45zM408.6 153.2l1.45 -1.45l1.45 1.45l-1.45 1.45zM427.5 106.4l1.45 -1.45l1.45 1.45l-1.45 1.45zM418.9 133.0l1.45 -1.45l1.45 1.45l-1.45 1.45zM359.6 120.6l1.45 -1.45l1.45 1.45l-1.45 1.45zM385.5 160.1l1.45 -1.45l1.45 1.45l-1.45 1.45zM392.2 82.8l1.45 -1.45l1.45 1.45l-1.45 1.45zM439.4 121.7l1.45 -1.45l1.45 1.45l-1.45 1.45zM430.9 145.9l1.45 -1.45l1.45 1.45l-1.45 1.45zM467.0 128.4l1.45 -1.45l1.45 1.45l-1.45 1.45zM387.2 72.5l1.45 -1.45l1.45 1.45l-1.45 1.45zM399.1 102.8l1.45 -1.45l1.45 1.45l-1.45 1.45zM423.2 109.8l1.45 -1.45l1.45 1.45l-1.45 1.45zM378.3 112.2l1.45 -1.45l1.45 1.45l-1.45 1.45zM404.0 60.5l1.45 -1.45l1.45 1.45l-1.45 1.45zM380.6 85.0l1.45 -1.45l1.45 1.45l-1.45 1.45zM491.7 108.0l1.45 -1.45l1.45 1.45l-1.45 1.45zM438.3 102.2l1.45 -1.45l1.45 1.45l-1.45 1.45zM439.7 139.4l1.45 -1.45l1.45 1.45l-1.45 1.45zM428.1 73.4l1.45 -1.45l1.45 1.45l-1.45 1.45zM361.0 112.9l1.45 -1.45l1.45 1.45l-1.45 1.45zM444.7 77.2l1.45 -1.45l1.45 1.45l-1.45 1.45zM418.2 151.1l1.45 -1.45l1.45 1.45l-1.45 1.45zM420.0 105.0l1.45 -1.45l1.45 1.45l-1.45 1.45zM438.5 113.9l1.45 -1.45l1.45 1.45l-1.45 1.45zM416.5 173.4l1.45 -1.45l1.45 1.45l-1.45 1.45zM475.0 86.4l1.45 -1.45l1.45 1.45l-1.45 1.45zM395.5 147.0l1.45 -1.45l1.45 1.45l-1.45 1.45zM358.9 158.2l1.45 -1.45l1.45 1.45l-1.45 1.45zM429.0 101.7l1.45 -1.45l1.45 1.45l-1.45 1.45zM421.2 152.6l1.45 -1.45l1.45 1.45l-1.45 1.45zM419.4 91.8l1.45 -1.45l1.45 1.45l-1.45 1.45zM406.9 112.2l1.45 -1.45l1.45 1.45l-1.45 1.45zM444.4 116.7l1.45 -1.45l1.45 1.45l-1.45 1.45zM438.1 141.2l1.45 -1.45l1.45 1.45l-1.45 1.45zM394.3 137.7l1.45 -1.45l1.45 1.45l-1.45 1.45zM399.1 100.6l1.45 -1.45l1.45 1.45l-1.45 1.45zM422.3 138.9l1.45 -1.45l1.45 1.45l-1.45 1.45zM480.0 115.7l1.45 -1.45l1.45 1.45l-1.45 1.45zM407.7 114.6l1.45 -1.45l1.45 1.45l-1.45 1.45zM380.9 133.1l1.45 -1.45l1.45 1.45l-1.45 1.45zM431.2 161.5l1.45 -1.45l1.45 1.45l-1.45 1.45zM408.9 116.4l1.45 -1.45l1.45 1.45l-1.45 1.45zM390.6 145.7l1.45 -1.45l1.45 1.45l-1.45 1.45zM390.0 104.4l1.45 -1.45l1.45 1.45l-1.45 1.45zM389.1 106.6l1.45 -1.45l1.45 1.45l-1.45 1.45zM446.9 73.2l1.45 -1.45l1.45 1.45l-1.45 1.45zM362.6 148.1l1.45 -1.45l1.45 1.45l-1.45 1.45zM402.5 124.0l1.45 -1.45l1.45 1.45l-1.45 1.45zM363.0 156.1l1.45 -1.45l1.45 1.45l-1.45 1.45zM447.3 150.3l1.45 -1.45l1.45 1.45l-1.45 1.45zM377.2 107.2l1.45 -1.45l1.45 1.45l-1.45 1.45zM437.0 135.4l1.45 -1.45l1.45 1.45l-1.45 1.45zM458.0 116.0l1.45 -1.45l1.45 1.45l-1.45 1.45zM465.0 145.4l1.45 -1.45l1.45 1.45l-1.45 1.45zM421.6 167.6l1.45 -1.45l1.45 1.45l-1.45 1.45zM440.4 171.2l1.45 -1.45l1.45 1.45l-1.45 1.45zM394.1 127.6l1.45 -1.45l1.45 1.45l-1.45 1.45zM390.9 84.0l1.45 -1.45l1.45 1.45l-1.45 1.45zM405.8 157.0l1.45 -1.45l1.45 1.45l-1.45 1.45zM458.0 101.0l1.45 -1.45l1.45 1.45l-1.45 1.45zM408.0 172.1l1.45 -1.45l1.45 1.45l-1.45 1.45zM393.1 147.6l1.45 -1.45l1.45 1.45l-1.45 1.45zM339.3 128.3l1.45 -1.45l1.45 1.45l-1.45 1.45zM423.3 71.3l1.45 -1.45l1.45 1.45l-1.45 1.45zM478.9 106.7l1.45 -1.45l1.45 1.45l-1.45 1.45zM387.1 138.7l1.45 -1.45l1.45 1.45l-1.45 1.45zM378.6 140.5l1.45 -1.45l1.45 1.45l-1.45 1.45zM432.8 113.6l1.45 -1.45l1.45 1.45l-1.45 1.45zM364.3 146.7l1.45 -1.45l1.45 1.45l-1.45 1.45zM471.5 88.7l1.45 -1.45l1.45 1.45l-1.45 1.45zM432.5 114.3l1.45 -1.45l1.45 1.45l-1.45 1.45zM416.7 165.5l1.45 -1.45l1.45 1.45l-1.45 1.45zM472.9 115.7l1.45 -1.45l1.45 1.45l-1.45 1.45zM429.0 124.9l1.45 -1.45l1.45 1.45l-1.45 1.45zM468.5 80.4l1.45 -1.45l1.45 1.45l-1.45 1.45zM454.0 110.6l1.45 -1.45l1.45 1.45l-1.45 1.45zM405.4 110.3l1.45 -1.45l1.45 1.45l-1.45 1.45zM412.6 125.1l1.45 -1.45l1.45 1.45l-1.45 1.45zM417.2 167.5l1.45 -1.45l1.45 1.45l-1.45 1.45zM446.6 138.6l1.45 -1.45l1.45 1.45l-1.45 1.45zM435.3 157.2l1.45 -1.45l1.45 1.45l-1.45 1.45zM413.9 143.3l1.45 -1.45l1.45 1.45l-1.45 1.45zM414.1 90.0l1.45 -1.45l1.45 1.45l-1.45 1.45zM416.3 99.9l1.45 -1.45l1.45 1.45l-1.45 1.45zM426.4 78.7l1.45 -1.45l1.45 1.45l-1.45 1.45zM431.7 88.3l1.45 -1.45l1.45 1.45l-1.45 1.45zM415.8 164.5l1.45 -1.45l1.45 1.45l-1.45 1.45zM435.9 110.3l1.45 -1.45l1.45 1.45l-1.45 1.45zM424.2 118.6l1.45 -1.45l1.45 1.45l-1.45 1.45zM457.9 170.8l1.45 -1.45l1.45 1.45l-1.45 1.45zM394.7 69.6l1.45 -1.45l1.45 1.45l-1.45 1.45zM387.1 101.0l1.45 -1.45l1.45 1.45l-1.45 1.45zM436.7 179.4l1.45 -1.45l1.45 1.45l-1.45 1.45zM416.9 163.6l1.45 -1.45l1.45 1.45l-1.45 1.45zM429.1 91.2l1.45 -1.45l1.45 1.45l-1.45 1.45zM439.7 150.3l1.45 -1.45l1.45 1.45l-1.45 1.45zM388.1 120.0l1.45 -1.45l1.45 1.45l-1.45 1.45zM448.7 105.9l1.45 -1.45l1.45 1.45l-1.45 1.45zM439.0 137.7l1.45 -1.45l1.45 1.45l-1.45 1.45zM419.6 98.4l1.45 -1.45l1.45 1.45l-1.45 1.45zM439.2 97.5l1.45 -1.45l1.45 1.45l-1.45 1.45zM425.6 132.8l1.45 -1.45l1.45 1.45l-1.45 1.45zM444.6 142.9l1.45 -1.45l1.45 1.45l-1.45 1.45zM406.8 109.0l1.45 -1.45l1.45 1.45l-1.45 1.45zM428.2 160.2l1.45 -1.45l1.45 1.45l-1.45 1.45zM372.3 99.9l1.45 -1.45l1.45 1.45l-1.45 1.45zM370.7 135.2l1.45 -1.45l1.45 1.45l-1.45 1.45zM407.2 89.0l1.45 -1.45l1.45 1.45l-1.45 1.45zM419.4 89.4l1.45 -1.45l1.45 1.45l-1.45 1.45zM413.0 107.8l1.45 -1.45l1.45 1.45l-1.45 1.45zM384.2 128.5l1.45 -1.45l1.45 1.45l-1.45 1.45zM429.5 76.2l1.45 -1.45l1.45 1.45l-1.45 1.45zM472.8 167.0l1.45 -1.45l1.45 1.45l-1.45 1.45zM396.6 128.7l1.45 -1.45l1.45 1.45l-1.45 1.45zM415.0 129.8l1.45 -1.45l1.45 1.45l-1.45 1.45zM338.5 102.5l1.45 -1.45l1.45 1.45l-1.45 1.45zM486.6 134.0l1.45 -1.45l1.45 1.45l-1.45 1.45zM451.2 150.0l1.45 -1.45l1.45 1.45l-1.45 1.45zM431.9 169.8l1.45 -1.45l1.45 1.45l-1.45 1.45zM438.5 93.0l1.45 -1.45l1.45 1.45l-1.45 1.45zM446.1 71.5l1.45 -1.45l1.45 1.45l-1.45 1.45zM392.6 126.4l1.45 -1.45l1.45 1.45l-1.45 1.45zM383.4 118.5l1.45 -1.45l1.45 1.45l-1.45 1.45zM466.9 141.5l1.45 -1.45l1.45 1.45l-1.45 1.45zM400.9 117.7l1.45 -1.45l1.45 1.45l-1.45 1.45zM406.3 86.3l1.45 -1.45l1.45 1.45l-1.45 1.45zM430.5 107.5l1.45 -1.45l1.45 1.45l-1.45 1.45zM376.2 105.6l1.45 -1.45l1.45 1.45l-1.45 1.45zM358.9 113.5l1.45 -1.45l1.45 1.45l-1.45 1.45zM386.5 142.6l1.45 -1.45l1.45 1.45l-1.45 1.45zM509.0 84.5l1.45 -1.45l1.45 1.45l-1.45 1.45zM408.3 90.4l1.45 -1.45l1.45 1.45l-1.45 1.45zM429.1 165.7l1.45 -1.45l1.45 1.45l-1.45 1.45zM412.6 127.7l1.45 -1.45l1.45 1.45l-1.45 1.45zM419.1 114.4l1.45 -1.45l1.45 1.45l-1.45 1.45zM365.0 139.0l1.45 -1.45l1.45 1.45l-1.45 1.45zM356.1 170.2l1.45 -1.45l1.45 1.45l-1.45 1.45zM446.3 157.7l1.45 -1.45l1.45 1.45l-1.45 1.45zM367.1 90.8l1.45 -1.45l1.45 1.45l-1.45 1.45zM423.8 118.9l1.45 -1.45l1.45 1.45l-1.45 1.45zM348.5 112.3l1.45 -1.45l1.45 1.45l-1.45 1.45zM407.7 72.3l1.45 -1.45l1.45 1.45l-1.45 1.45zM371.3 118.3l1.45 -1.45l1.45 1.45l-1.45 1.45zM398.3 105.5l1.45 -1.45l1.45 1.45l-1.45 1.45zM449.7 160.3l1.45 -1.45l1.45 1.45l-1.45 1.45zM402.2 114.6l1.45 -1.45l1.45 1.45l-1.45 1.45zM396.8 93.4l1.45 -1.45l1.45 1.45l-1.45 1.45zM377.0 154.7l1.45 -1.45l1.45 1.45l-1.45 1.45zM437.1 95.4l1.45 -1.45l1.45 1.45l-1.45 1.45zM430.4 107.6l1.45 -1.45l1.45 1.45l-1.45 1.45zM418.4 127.4l1.45 -1.45l1.45 1.45l-1.45 1.45zM414.5 143.5l1.45 -1.45l1.45 1.45l-1.45 1.45zM442.1 173.2l1.45 -1.45l1.45 1.45l-1.45 1.45zM442.4 134.2l1.45 -1.45l1.45 1.45l-1.45 1.45zM428.4 135.8l1.45 -1.45l1.45 1.45l-1.45 1.45zM402.1 114.5l1.45 -1.45l1.45 1.45l-1.45 1.45zM420.9 94.2l1.45 -1.45l1.45 1.45l-1.45 1.45zM453.8 146.4l1.45 -1.45l1.45 1.45l-1.45 1.45zM350.8 145.5l1.45 -1.45l1.45 1.45l-1.45 1.45zM397.4 170.9l1.45 -1.45l1.45 1.45l-1.45 1.45zM466.6 183.8l1.45 -1.45l1.45 1.45l-1.45 1.45zM490.0 133.3l1.45 -1.45l1.45 1.45l-1.45 1.45zM381.0 122.8l1.45 -1.45l1.45 1.45l-1.45 1.45zM405.4 139.0l1.45 -1.45l1.45 1.45l-1.45 1.45zM350.3 93.9l1.45 -1.45l1.45 1.45l-1.45 1.45zM405.4 112.6l1.45 -1.45l1.45 1.45l-1.45 1.45zM431.7 160.9l1.45 -1.45l1.45 1.45l-1.45 1.45zM411.5 145.9l1.45 -1.45l1.45 1.45l-1.45 1.45zM407.8 169.6l1.45 -1.45l1.45 1.45l-1.45 1.45zM442.2 120.2l1.45 -1.45l1.45 1.45l-1.45 1.45zM406.9 102.2l1.45 -1.45l1.45 1.45l-1.45 1.45zM396.0 121.9l1.45 -1.45l1.45 1.45l-1.45 1.45zM384.8 169.7l1.45 -1.45l1.45 1.45l-1.45 1.45zM369.9 132.8l1.45 -1.45l1.45 1.45l-1.45 1.45zM417.2 88.5l1.45 -1.45l1.45 1.45l-1.45 1.45zM401.4 146.7l1.45 -1.45l1.45 1.45l-1.45 1.45zM435.4 116.1l1.45 -1.45l1.45 1.45l-1.45 1.45zM438.0 75.7l1.45 -1.45l1.45 1.45l-1.45 1.45zM479.1 127.3l1.45 -1.45l1.45 1.45l-1.45 1.45zM361.7 122.6l1.45 -1.45l1.45 1.45l-1.45 1.45zM524.1 83.9l1.45 -1.45l1.45 1.45l-1.45 1.45zM408.3 94.4l1.45 -1.45l1.45 1.45l-1.45 1.45zM423.1 142.6l1.45 -1.45l1.45 1.45l-1.45 1.45zM468.1 126.8l1.45 -1.45l1.45 1.45l-1.45 1.45zM401.8 145.7l1.45 -1.45l1.45 1.45l-1.45 1.45zM387.5 150.1l1.45 -1.45l1.45 1.45l-1.45 1.45zM431.4 98.5l1.45 -1.45l1.45 1.45l-1.45 1.45zM425.1 92.9l1.45 -1.45l1.45 1.45l-1.45 1.45zM346.7 153.0l1.45 -1.45l1.45 1.45l-1.45 1.45zM483.3 126.8l1.45 -1.45l1.45 1.45l-1.45 1.45zM395.0 110.0l1.45 -1.45l1.45 1.45l-1.45 1.45zM361.3 108.2l1.45 -1.45l1.45 1.45l-1.45 1.45zM348.4 129.1l1.45 -1.45l1.45 1.45l-1.45 1.45zM464.8 150.6l1.45 -1.45l1.45 1.45l-1.45 1.45zM381.1 112.7l1.45 -1.45l1.45 1.45l-1.45 1.45zM493.2 129.9l1.45 -1.45l1.45 1.45l-1.45 1.45zM461.0 127.4l1.45 -1.45l1.45 1.45l-1.45 1.45zM434.5 121.2l1.45 -1.45l1.45 1.45l-1.45 1.45zM392.4 135.5l1.45 -1.45l1.45 1.45l-1.45 1.45zM370.4 141.8l1.45 -1.45l1.45 1.45l-1.45 1.45zM399.7 107.4l1.45 -1.45l1.45 1.45l-1.45 1.45zM402.8 103.7l1.45 -1.45l1.45 1.45l-1.45 1.45zM445.6 109.1l1.45 -1.45l1.45 1.45l-1.45 1.45zM410.4 142.7l1.45 -1.45l1.45 1.45l-1.45 1.45zM429.2 137.1l1.45 -1.45l1.45 1.45l-1.45 1.45zM420.7 135.6l1.45 -1.45l1.45 1.45l-1.45 1.45zM459.9 147.2l1.45 -1.45l1.45 1.45l-1.45 1.45zM413.3 104.1l1.45 -1.45l1.45 1.45l-1.45 1.45zM407.0 152.7l1.45 -1.45l1.45 1.45l-1.45 1.45zM338.4 117.2l1.45 -1.45l1.45 1.45l-1.45 1.45zM430.2 160.6l1.45 -1.45l1.45 1.45l-1.45 1.45zM402.2 81.2l1.45 -1.45l1.45 1.45l-1.45 1.45zM478.1 114.4l1.45 -1.45l1.45 1.45l-1.45 1.45zM332.6 137.4l1.45 -1.45l1.45 1.45l-1.45 1.45zM432.5 131.0l1.45 -1.45l1.45 1.45l-1.45 1.45zM390.0 115.8l1.45 -1.45l1.45 1.45l-1.45 1.45zM489.2 89.7l1.45 -1.45l1.45 1.45l-1.45 1.45zM436.8 154.7l1.45 -1.45l1.45 1.45l-1.45 1.45zM347.9 98.1l1.45 -1.45l1.45 1.45l-1.45 1.45zM419.7 110.1l1.45 -1.45l1.45 1.45l-1.45 1.45zM407.4 126.4l1.45 -1.45l1.45 1.45l-1.45 1.45zM488.5 142.8l1.45 -1.45l1.45 1.45l-1.45 1.45zM442.3 105.1l1.45 -1.45l1.45 1.45l-1.45 1.45zM461.9 127.3l1.45 -1.45l1.45 1.45l-1.45 1.45zM435.0 65.6l1.45 -1.45l1.45 1.45l-1.45 1.45zM431.1 144.9l1.45 -1.45l1.45 1.45l-1.45 1.45zM386.7 65.2l1.45 -1.45l1.45 1.45l-1.45 1.45zM391.0 145.2l1.45 -1.45l1.45 1.45l-1.45 1.45zM393.3 133.7l1.45 -1.45l1.45 1.45l-1.45 1.45zM446.1 125.9l1.45 -1.45l1.45 1.45l-1.45 1.45zM461.3 116.9l1.45 -1.45l1.45 1.45l-1.45 1.45zM397.8 152.1l1.45 -1.45l1.45 1.45l-1.45 1.45zM431.3 72.2l1.45 -1.45l1.45 1.45l-1.45 1.45zM417.0 135.8l1.45 -1.45l1.45 1.45l-1.45 1.45zM421.6 120.1l1.45 -1.45l1.45 1.45l-1.45 1.45zM422.1 141.4l1.45 -1.45l1.45 1.45l-1.45 1.45zM438.3 92.3l1.45 -1.45l1.45 1.45l-1.45 1.45zM459.1 156.0l1.45 -1.45l1.45 1.45l-1.45 1.45zM383.8 144.0l1.45 -1.45l1.45 1.45l-1.45 1.45zM377.7 111.4l1.45 -1.45l1.45 1.45l-1.45 1.45zM405.7 160.1l1.45 -1.45l1.45 1.45l-1.45 1.45zM426.6 129.9l1.45 -1.45l1.45 1.45l-1.45 1.45zM436.2 111.0l1.45 -1.45l1.45 1.45l-1.45 1.45zM476.3 43.5l1.45 -1.45l1.45 1.45l-1.45 1.45zM394.6 115.4l1.45 -1.45l1.45 1.45l-1.45 1.45zM420.9 61.4l1.45 -1.45l1.45 1.45l-1.45 1.45zM443.8 150.7l1.45 -1.45l1.45 1.45l-1.45 1.45zM402.9 115.6l1.45 -1.45l1.45 1.45l-1.45 1.45zM421.0 130.2l1.45 -1.45l1.45 1.45l-1.45 1.45zM395.0 133.0l1.45 -1.45l1.45 1.45l-1.45 1.45zM387.8 130.6l1.45 -1.45l1.45 1.45l-1.45 1.45zM392.1 148.9l1.45 -1.45l1.45 1.45l-1.45 1.45zM409.2 152.7l1.45 -1.45l1.45 1.45l-1.45 1.45zM404.5 96.8l1.45 -1.45l1.45 1.45l-1.45 1.45zM379.3 133.9l1.45 -1.45l1.45 1.45l-1.45 1.45zM417.8 121.4l1.45 -1.45l1.45 1.45l-1.45 1.45zM402.5 145.0l1.45 -1.45l1.45 1.45l-1.45 1.45zM360.6 178.9l1.45 -1.45l1.45 1.45l-1.45 1.45zM425.0 133.0l1.45 -1.45l1.45 1.45l-1.45 1.45zM475.1 133.1l1.45 -1.45l1.45 1.45l-1.45 1.45zM409.8 98.1l1.45 -1.45l1.45 1.45l-1.45 1.45zM473.3 132.3l1.45 -1.45l1.45 1.45l-1.45 1.45zM425.2 103.6l1.45 -1.45l1.45 1.45l-1.45 1.45zM400.2 107.6l1.45 -1.45l1.45 1.45l-1.45 1.45zM395.7 102.2l1.45 -1.45l1.45 1.45l-1.45 1.45zM400.5 176.4l1.45 -1.45l1.45 1.45l-1.45 1.45zM392.1 141.2l1.45 -1.45l1.45 1.45l-1.45 1.45zM412.3 118.6l1.45 -1.45l1.45 1.45l-1.45 1.45zM409.9 127.1l1.45 -1.45l1.45 1.45l-1.45 1.45zM422.5 71.1l1.45 -1.45l1.45 1.45l-1.45 1.45zM403.2 109.0l1.45 -1.45l1.45 1.45l-1.45 1.45zM414.5 115.3l1.45 -1.45l1.45 1.45l-1.45 1.45zM454.3 146.6l1.45 -1.45l1.45 1.45l-1.45 1.45zM472.8 95.9l1.45 -1.45l1.45 1.45l-1.45 1.45zM459.2 106.6l1.45 -1.45l1.45 1.45l-1.45 1.45zM415.2 112.7l1.45 -1.45l1.45 1.45l-1.45 1.45zM434.5 152.7l1.45 -1.45l1.45 1.45l-1.45 1.45zM424.4 106.7l1.45 -1.45l1.45 1.45l-1.45 1.45zM424.5 124.7l1.45 -1.45l1.45 1.45l-1.45 1.45zM506.0 103.3l1.45 -1.45l1.45 1.45l-1.45 1.45zM388.5 147.3l1.45 -1.45l1.45 1.45l-1.45 1.45zM419.2 113.0l1.45 -1.45l1.45 1.45l-1.45 1.45zM427.7 173.6l1.45 -1.45l1.45 1.45l-1.45 1.45zM445.4 52.8l1.45 -1.45l1.45 1.45l-1.45 1.45zM371.4 161.7l1.45 -1.45l1.45 1.45l-1.45 1.45zM438.0 112.4l1.45 -1.45l1.45 1.45l-1.45 1.45zM443.1 128.0l1.45 -1.45l1.45 1.45l-1.45 1.45zM391.1 153.2l1.45 -1.45l1.45 1.45l-1.45 1.45zM436.6 160.0l1.45 -1.45l1.45 1.45l-1.45 1.45zM370.9 93.1l1.45 -1.45l1.45 1.45l-1.45 1.45zM372.2 71.4l1.45 -1.45l1.45 1.45l-1.45 1.45zM341.1 129.0l1.45 -1.45l1.45 1.45l-1.45 1.45zM388.3 121.1l1.45 -1.45l1.45 1.45l-1.45 1.45zM429.8 92.3l1.45 -1.45l1.45 1.45l-1.45 1.45zM401.8 132.2l1.45 -1.45l1.45 1.45l-1.45 1.45zM377.0 122.3l1.45 -1.45l1.45 1.45l-1.45 1.45zM414.2 119.1l1.45 -1.45l1.45 1.45l-1.45 1.45zM416.6 114.9l1.45 -1.45l1.45 1.45l-1.45 1.45zM406.9 119.9l1.45 -1.45l1.45 1.45l-1.45 1.45zM449.6 121.5l1.45 -1.45l1.45 1.45l-1.45 1.45zM440.9 141.2l1.45 -1.45l1.45 1.45l-1.45 1.45zM436.3 86.6l1.45 -1.45l1.45 1.45l-1.45 1.45zM410.8 120.6l1.45 -1.45l1.45 1.45l-1.45 1.45zM414.8 139.4l1.45 -1.45l1.45 1.45l-1.45 1.45zM406.1 160.8l1.45 -1.45l1.45 1.45l-1.45 1.45zM463.9 144.4l1.45 -1.45l1.45 1.45l-1.45 1.45zM390.8 93.2l1.45 -1.45l1.45 1.45l-1.45 1.45zM471.7 139.9l1.45 -1.45l1.45 1.45l-1.45 1.45zM448.8 157.8l1.45 -1.45l1.45 1.45l-1.45 1.45zM456.6 107.8l1.45 -1.45l1.45 1.45l-1.45 1.45zM386.1 162.5l1.45 -1.45l1.45 1.45l-1.45 1.45zM429.5 119.5l1.45 -1.45l1.45 1.45l-1.45 1.45zM444.3 128.9l1.45 -1.45l1.45 1.45l-1.45 1.45zM383.9 95.4l1.45 -1.45l1.45 1.45l-1.45 1.45zM439.4 135.7l1.45 -1.45l1.45 1.45l-1.45 1.45zM415.6 156.4l1.45 -1.45l1.45 1.45l-1.45 1.45zM421.5 145.7l1.45 -1.45l1.45 1.45l-1.45 1.45zM420.2 98.2l1.45 -1.45l1.45 1.45l-1.45 1.45zM351.5 128.4l1.45 -1.45l1.45 1.45l-1.45 1.45zM425.2 160.7l1.45 -1.45l1.45 1.45l-1.45 1.45zM450.6 110.0l1.45 -1.45l1.45 1.45l-1.45 1.45zM441.3 113.9l1.45 -1.45l1.45 1.45l-1.45 1.45zM410.0 169.0l1.45 -1.45l1.45 1.45l-1.45 1.45zM401.5 92.1l1.45 -1.45l1.45 1.45l-1.45 1.45zM439.8 151.5l1.45 -1.45l1.45 1.45l-1.45 1.45zM427.4 172.3l1.45 -1.45l1.45 1.45l-1.45 1.45zM472.6 131.2l1.45 -1.45l1.45 1.45l-1.45 1.45zM357.9 185.0l1.45 -1.45l1.45 1.45l-1.45 1.45zM470.6 115.4l1.45 -1.45l1.45 1.45l-1.45 1.45zM491.8 108.0l1.45 -1.45l1.45 1.45l-1.45 1.45zM425.9 93.7l1.45 -1.45l1.45 1.45l-1.45 1.45zM372.1 151.3l1.45 -1.45l1.45 1.45l-1.45 1.45zM439.2 77.2l1.45 -1.45l1.45 1.45l-1.45 1.45zM423.6 138.7l1.45 -1.45l1.45 1.45l-1.45 1.45zM448.9 107.1l1.45 -1.45l1.45 1.45l-1.45 1.45zM375.4 144.5l1.45 -1.45l1.45 1.45l-1.45 1.45zM408.1 131.8l1.45 -1.45l1.45 1.45l-1.45 1.45zM360.1 114.1l1.45 -1.45l1.45 1.45l-1.45 1.45zM362.3 127.5l1.45 -1.45l1.45 1.45l-1.45 1.45zM471.4 165.9l1.45 -1.45l1.45 1.45l-1.45 1.45zM393.4 113.9l1.45 -1.45l1.45 1.45l-1.45 1.45zM459.8 125.6l1.45 -1.45l1.45 1.45l-1.45 1.45zM351.6 103.2l1.45 -1.45l1.45 1.45l-1.45 1.45zM452.9 137.3l1.45 -1.45l1.45 1.45l-1.45 1.45zM399.0 80.6l1.45 -1.45l1.45 1.45l-1.45 1.45zM440.7 102.8l1.45 -1.45l1.45 1.45l-1.45 1.45zM427.4 103.6l1.45 -1.45l1.45 1.45l-1.45 1.45zM438.5 141.4l1.45 -1.45l1.45 1.45l-1.45 1.45zM411.2 143.7l1.45 -1.45l1.45 1.45l-1.45 1.45zM384.9 140.9l1.45 -1.45l1.45 1.45l-1.45 1.45zM427.5 112.4l1.45 -1.45l1.45 1.45l-1.45 1.45zM472.0 150.3l1.45 -1.45l1.45 1.45l-1.45 1.45zM324.8 120.6l1.45 -1.45l1.45 1.45l-1.45 1.45zM429.4 117.5l1.45 -1.45l1.45 1.45l-1.45 1.45zM408.0 130.8l1.45 -1.45l1.45 1.45l-1.45 1.45zM418.2 126.7l1.45 -1.45l1.45 1.45l-1.45 1.45zM369.7 175.5l1.45 -1.45l1.45 1.45l-1.45 1.45zM426.5 137.6l1.45 -1.45l1.45 1.45l-1.45 1.45zM429.4 87.3l1.45 -1.45l1.45 1.45l-1.45 1.45zM415.4 148.0l1.45 -1.45l1.45 1.45l-1.45 1.45zM423.7 110.0l1.45 -1.45l1.45 1.45l-1.45 1.45zM399.7 142.3l1.45 -1.45l1.45 1.45l-1.45 1.45zM380.6 104.0l1.45 -1.45l1.45 1.45l-1.45 1.45zM415.9 124.5l1.45 -1.45l1.45 1.45l-1.45 1.45zM418.0 172.8l1.45 -1.45l1.45 1.45l-1.45 1.45zM461.8 111.8l1.45 -1.45l1.45 1.45l-1.45 1.45zM407.4 111.3l1.45 -1.45l1.45 1.45l-1.45 1.45zM444.0 129.3l1.45 -1.45l1.45 1.45l-1.45 1.45zM429.8 88.8l1.45 -1.45l1.45 1.45l-1.45 1.45zM464.6 140.6l1.45 -1.45l1.45 1.45l-1.45 1.45zM420.0 148.2l1.45 -1.45l1.45 1.45l-1.45 1.45zM402.6 147.6l1.45 -1.45l1.45 1.45l-1.45 1.45zM386.5 113.8l1.45 -1.45l1.45 1.45l-1.45 1.45zM471.9 160.0l1.45 -1.45l1.45 1.45l-1.45 1.45zM374.7 130.7l1.45 -1.45l1.45 1.45l-1.45 1.45zM483.5 108.1l1.45 -1.45l1.45 1.45l-1.45 1.45zM414.2 160.9l1.45 -1.45l1.45 1.45l-1.45 1.45zM389.3 105.5l1.45 -1.45l1.45 1.45l-1.45 1.45zM393.4 152.3l1.45 -1.45l1.45 1.45l-1.45 1.45zM458.7 148.5l1.45 -1.45l1.45 1.45l-1.45 1.45zM390.1 150.7l1.45 -1.45l1.45 1.45l-1.45 1.45zM409.1 164.6l1.45 -1.45l1.45 1.45l-1.45 1.45zM405.9 141.8l1.45 -1.45l1.45 1.45l-1.45 1.45zM393.1 117.1l1.45 -1.45l1.45 1.45l-1.45 1.45zM428.5 172.8l1.45 -1.45l1.45 1.45l-1.45 1.45zM410.4 101.9l1.45 -1.45l1.45 1.45l-1.45 1.45zM423.1 75.0l1.45 -1.45l1.45 1.45l-1.45 1.45zM446.9 66.6l1.45 -1.45l1.45 1.45l-1.45 1.45zM451.8 147.5l1.45 -1.45l1.45 1.45l-1.45 1.45zM429.4 137.8l1.45 -1.45l1.45 1.45l-1.45 1.45zM366.1 149.4l1.45 -1.45l1.45 1.45l-1.45 1.45zM367.3 121.7l1.45 -1.45l1.45 1.45l-1.45 1.45zM411.6 106.6l1.45 -1.45l1.45 1.45l-1.45 1.45zM456.7 79.2l1.45 -1.45l1.45 1.45l-1.45 1.45zM406.4 153.7l1.45 -1.45l1.45 1.45l-1.45 1.45zM431.1 131.5l1.45 -1.45l1.45 1.45l-1.45 1.45zM433.3 128.8l1.45 -1.45l1.45 1.45l-1.45 1.45zM418.2 145.0l1.45 -1.45l1.45 1.45l-1.45 1.45zM441.7 159.9l1.45 -1.45l1.45 1.45l-1.45 1.45zM430.1 78.6l1.45 -1.45l1.45 1.45l-1.45 1.45zM408.3 120.8l1.45 -1.45l1.45 1.45l-1.45 1.45zM427.4 126.3l1.45 -1.45l1.45 1.45l-1.45 1.45zM386.2 156.3l1.45 -1.45l1.45 1.45l-1.45 1.45zM444.0 144.3l1.45 -1.45l1.45 1.45l-1.45 1.45zM386.5 115.2l1.45 -1.45l1.45 1.45l-1.45 1.45zM476.7 102.0l1.45 -1.45l1.45 1.45l-1.45 1.45zM468.3 79.7l1.45 -1.45l1.45 1.45l-1.45 1.45zM485.5 162.7l1.45 -1.45l1.45 1.45l-1.45 1.45zM462.9 152.5l1.45 -1.45l1.45 1.45l-1.45 1.45zM417.2 129.2l1.45 -1.45l1.45 1.45l-1.45 1.45zM428.2 113.2l1.45 -1.45l1.45 1.45l-1.45 1.45zM453.5 103.3l1.45 -1.45l1.45 1.45l-1.45 1.45zM472.2 171.3l1.45 -1.45l1.45 1.45l-1.45 1.45zM409.4 136.6l1.45 -1.45l1.45 1.45l-1.45 1.45zM427.1 155.6l1.45 -1.45l1.45 1.45l-1.45 1.45zM454.9 120.0l1.45 -1.45l1.45 1.45l-1.45 1.45zM408.5 151.0l1.45 -1.45l1.45 1.45l-1.45 1.45zM448.1 124.3l1.45 -1.45l1.45 1.45l-1.45 1.45zM391.6 133.4l1.45 -1.45l1.45 1.45l-1.45 1.45zM423.3 107.9l1.45 -1.45l1.45 1.45l-1.45 1.45zM410.4 118.2l1.45 -1.45l1.45 1.45l-1.45 1.45zM402.3 155.8l1.45 -1.45l1.45 1.45l-1.45 1.45zM427.4 98.7l1.45 -1.45l1.45 1.45l-1.45 1.45zM393.1 161.7l1.45 -1.45l1.45 1.45l-1.45 1.45zM451.2 152.6l1.45 -1.45l1.45 1.45l-1.45 1.45zM504.2 128.9l1.45 -1.45l1.45 1.45l-1.45 1.45zM396.8 113.2l1.45 -1.45l1.45 1.45l-1.45 1.45zM406.4 174.5l1.45 -1.45l1.45 1.45l-1.45 1.45zM391.5 114.6l1.45 -1.45l1.45 1.45l-1.45 1.45zM368.0 137.0l1.45 -1.45l1.45 1.45l-1.45 1.45zM377.7 164.7l1.45 -1.45l1.45 1.45l-1.45 1.45zM427.9 100.9l1.45 -1.45l1.45 1.45l-1.45 1.45zM398.0 104.8l1.45 -1.45l1.45 1.45l-1.45 1.45zM384.4 155.7l1.45 -1.45l1.45 1.45l-1.45 1.45zM437.3 125.3l1.45 -1.45l1.45 1.45l-1.45 1.45zM394.6 102.0l1.45 -1.45l1.45 1.45l-1.45 1.45zM436.0 127.5l1.45 -1.45l1.45 1.45l-1.45 1.45zM418.9 108.0l1.45 -1.45l1.45 1.45l-1.45 1.45zM455.1 102.1l1.45 -1.45l1.45 1.45l-1.45 1.45zM467.5 184.6l1.45 -1.45l1.45 1.45l-1.45 1.45zM413.0 146.0l1.45 -1.45l1.45 1.45l-1.45 1.45zM411.5 114.8l1.45 -1.45l1.45 1.45l-1.45 1.45zM462.3 120.0l1.45 -1.45l1.45 1.45l-1.45 1.45zM458.2 124.5l1.45 -1.45l1.45 1.45l-1.45 1.45zM384.1 129.0l1.45 -1.45l1.45 1.45l-1.45 1.45zM377.2 100.4l1.45 -1.45l1.45 1.45l-1.45 1.45zM474.4 129.4l1.45 -1.45l1.45 1.45l-1.45 1.45zM381.6 148.3l1.45 -1.45l1.45 1.45l-1.45 1.45zM453.2 100.4l1.45 -1.45l1.45 1.45l-1.45 1.45zM421.3 91.2l1.45 -1.45l1.45 1.45l-1.45 1.45zM465.9 143.1l1.45 -1.45l1.45 1.45l-1.45 1.45zM444.3 68.0l1.45 -1.45l1.45 1.45l-1.45 1.45zM344.8 160.0l1.45 -1.45l1.45 1.45l-1.45 1.45zM350.9 84.7l1.45 -1.45l1.45 1.45l-1.45 1.45zM404.3 75.5l1.45 -1.45l1.45 1.45l-1.45 1.45zM407.7 120.7l1.45 -1.45l1.45 1.45l-1.45 1.45zM425.4 152.9l1.45 -1.45l1.45 1.45l-1.45 1.45zM430.5 81.2l1.45 -1.45l1.45 1.45l-1.45 1.45zM396.7 143.2l1.45 -1.45l1.45 1.45l-1.45 1.45zM383.7 153.5l1.45 -1.45l1.45 1.45l-1.45 1.45zM408.8 132.5l1.45 -1.45l1.45 1.45l-1.45 1.45zM420.0 109.1l1.45 -1.45l1.45 1.45l-1.45 1.45zM382.8 126.5l1.45 -1.45l1.45 1.45l-1.45 1.45zM428.7 120.0l1.45 -1.45l1.45 1.45l-1.45 1.45zM382.8 135.2l1.45 -1.45l1.45 1.45l-1.45 1.45zM417.7 145.1l1.45 -1.45l1.45 1.45l-1.45 1.45zM361.5 102.6l1.45 -1.45l1.45 1.45l-1.45 1.45zM425.8 148.5l1.45 -1.45l1.45 1.45l-1.45 1.45zM390.2 143.2l1.45 -1.45l1.45 1.45l-1.45 1.45zM356.5 137.9l1.45 -1.45l1.45 1.45l-1.45 1.45zM425.4 156.8l1.45 -1.45l1.45 1.45l-1.45 1.45zM413.3 135.3l1.45 -1.45l1.45 1.45l-1.45 1.45zM408.7 143.6l1.45 -1.45l1.45 1.45l-1.45 1.45zM444.7 93.7l1.45 -1.45l1.45 1.45l-1.45 1.45zM404.0 116.2l1.45 -1.45l1.45 1.45l-1.45 1.45zM421.9 145.3l1.45 -1.45l1.45 1.45l-1.45 1.45zM393.9 97.1l1.45 -1.45l1.45 1.45l-1.45 1.45zM445.7 102.4l1.45 -1.45l1.45 1.45l-1.45 1.45zM390.7 127.8l1.45 -1.45l1.45 1.45l-1.45 1.45zM458.3 141.7l1.45 -1.45l1.45 1.45l-1.45 1.45zM468.1 132.7l1.45 -1.45l1.45 1.45l-1.45 1.45zM410.2 131.2l1.45 -1.45l1.45 1.45l-1.45 1.45zM423.7 106.2l1.45 -1.45l1.45 1.45l-1.45 1.45zM388.3 127.0l1.45 -1.45l1.45 1.45l-1.45 1.45zM360.3 160.3l1.45 -1.45l1.45 1.45l-1.45 1.45zM426.3 120.3l1.45 -1.45l1.45 1.45l-1.45 1.45zM431.3 103.6l1.45 -1.45l1.45 1.45l-1.45 1.45zM406.4 114.1l1.45 -1.45l1.45 1.45l-1.45 1.45zM373.9 151.8l1.45 -1.45l1.45 1.45l-1.45 1.45zM399.9 82.2l1.45 -1.45l1.45 1.45l-1.45 1.45zM407.4 127.2l1.45 -1.45l1.45 1.45l-1.45 1.45zM368.9 165.5l1.45 -1.45l1.45 1.45l-1.45 1.45zM455.7 152.0l1.45 -1.45l1.45 1.45l-1.45 1.45zM429.0 145.4l1.45 -1.45l1.45 1.45l-1.45 1.45zM423.3 176.5l1.45 -1.45l1.45 1.45l-1.45 1.45zM392.5 119.6l1.45 -1.45l1.45 1.45l-1.45 1.45zM377.1 98.5l1.45 -1.45l1.45 1.45l-1.45 1.45zM434.2 127.7l1.45 -1.45l1.45 1.45l-1.45 1.45zM385.2 115.4l1.45 -1.45l1.45 1.45l-1.45 1.45zM461.8 127.5l1.45 -1.45l1.45 1.45l-1.45 1.45zM422.2 174.7l1.45 -1.45l1.45 1.45l-1.45 1.45zM449.0 172.0l1.45 -1.45l1.45 1.45l-1.45 1.45zM446.6 151.2l1.45 -1.45l1.45 1.45l-1.45 1.45zM409.4 124.8l1.45 -1.45l1.45 1.45l-1.45 1.45zM416.6 98.3l1.45 -1.45l1.45 1.45l-1.45 1.45zM393.4 145.9l1.45 -1.45l1.45 1.45l-1.45 1.45zM354.5 62.4l1.45 -1.45l1.45 1.45l-1.45 1.45zM470.1 136.6l1.45 -1.45l1.45 1.45l-1.45 1.45zM387.7 116.4l1.45 -1.45l1.45 1.45l-1.45 1.45zM388.2 139.1l1.45 -1.45l1.45 1.45l-1.45 1.45zM397.5 86.6l1.45 -1.45l1.45 1.45l-1.45 1.45zM431.7 120.0l1.45 -1.45l1.45 1.45l-1.45 1.45zM478.4 143.4l1.45 -1.45l1.45 1.45l-1.45 1.45zM425.6 161.2l1.45 -1.45l1.45 1.45l-1.45 1.45zM384.6 140.7l1.45 -1.45l1.45 1.45l-1.45 1.45zM421.6 163.0l1.45 -1.45l1.45 1.45l-1.45 1.45zM436.2 102.2l1.45 -1.45l1.45 1.45l-1.45 1.45zM404.7 119.9l1.45 -1.45l1.45 1.45l-1.45 1.45zM425.9 151.9l1.45 -1.45l1.45 1.45l-1.45 1.45zM408.1 129.9l1.45 -1.45l1.45 1.45l-1.45 1.45zM404.7 126.1l1.45 -1.45l1.45 1.45l-1.45 1.45zM414.8 153.0l1.45 -1.45l1.45 1.45l-1.45 1.45zM396.7 82.3l1.45 -1.45l1.45 1.45l-1.45 1.45zM443.0 121.1l1.45 -1.45l1.45 1.45l-1.45 1.45zM460.2 132.2l1.45 -1.45l1.45 1.45l-1.45 1.45zM477.9 176.8l1.45 -1.45l1.45 1.45l-1.45 1.45zM352.3 129.4l1.45 -1.45l1.45 1.45l-1.45 1.45zM440.2 178.4l1.45 -1.45l1.45 1.45l-1.45 1.45zM454.3 97.0l1.45 -1.45l1.45 1.45l-1.45 1.45zM425.8 158.0l1.45 -1.45l1.45 1.45l-1.45 1.45zM465.2 116.2l1.45 -1.45l1.45 1.45l-1.45 1.45zM455.3 103.7l1.45 -1.45l1.45 1.45l-1.45 1.45zM441.7 100.8l1.45 -1.45l1.45 1.45l-1.45 1.45zM453.6 125.3l1.45 -1.45l1.45 1.45l-1.45 1.45zM423.1 107.9l1.45 -1.45l1.45 1.45l-1.45 1.45zM419.2 117.9l1.45 -1.45l1.45 1.45l-1.45 1.45zM403.7 106.0l1.45 -1.45l1.45 1.45l-1.45 1.45zM472.6 103.9l1.45 -1.45l1.45 1.45l-1.45 1.45zM427.8 93.7l1.45 -1.45l1.45 1.45l-1.45 1.45zM410.9 141.5l1.45 -1.45l1.45 1.45l-1.45 1.45zM388.7 166.8l1.45 -1.45l1.45 1.45l-1.45 1.45zM424.6 120.7l1.45 -1.45l1.45 1.45l-1.45 1.45zM467.2 170.3l1.45 -1.45l1.45 1.45l-1.45 1.45zM379.5 153.4l1.45 -1.45l1.45 1.45l-1.45 1.45zM443.2 96.3l1.45 -1.45l1.45 1.45l-1.45 1.45zM452.0 138.4l1.45 -1.45l1.45 1.45l-1.45 1.45zM478.1 102.9l1.45 -1.45l1.45 1.45l-1.45 1.45zM422.0 131.2l1.45 -1.45l1.45 1.45l-1.45 1.45zM413.7 129.8l1.45 -1.45l1.45 1.45l-1.45 1.45zM397.6 101.0l1.45 -1.45l1.45 1.45l-1.45 1.45zM389.9 133.4l1.45 -1.45l1.45 1.45l-1.45 1.45zM434.2 152.6l1.45 -1.45l1.45 1.45l-1.45 1.45zM409.8 156.3l1.45 -1.45l1.45 1.45l-1.45 1.45zM425.8 134.8l1.45 -1.45l1.45 1.45l-1.45 1.45zM358.7 186.4l1.45 -1.45l1.45 1.45l-1.45 1.45zM437.9 88.4l1.45 -1.45l1.45 1.45l-1.45 1.45zM422.6 138.9l1.45 -1.45l1.45 1.45l-1.45 1.45zM422.2 82.7l1.45 -1.45l1.45 1.45l-1.45 1.45zM463.1 128.6l1.45 -1.45l1.45 1.45l-1.45 1.45zM436.3 164.6l1.45 -1.45l1.45 1.45l-1.45 1.45zM405.6 85.1l1.45 -1.45l1.45 1.45l-1.45 1.45zM332.4 89.6l1.45 -1.45l1.45 1.45l-1.45 1.45zM416.3 140.0l1.45 -1.45l1.45 1.45l-1.45 1.45zM387.7 201.0l1.45 -1.45l1.45 1.45l-1.45 1.45zM435.9 155.5l1.45 -1.45l1.45 1.45l-1.45 1.45zM427.5 110.3l1.45 -1.45l1.45 1.45l-1.45 1.45zM434.9 151.1l1.45 -1.45l1.45 1.45l-1.45 1.45zM395.4 112.9l1.45 -1.45l1.45 1.45l-1.45 1.45zM450.3 177.6l1.45 -1.45l1.45 1.45l-1.45 1.45zM452.7 143.8l1.45 -1.45l1.45 1.45l-1.45 1.45zM428.0 135.4l1.45 -1.45l1.45 1.45l-1.45 1.45zM470.4 107.6l1.45 -1.45l1.45 1.45l-1.45 1.45zM414.0 95.5l1.45 -1.45l1.45 1.45l-1.45 1.45zM424.8 168.3l1.45 -1.45l1.45 1.45l-1.45 1.45zM430.7 125.4l1.45 -1.45l1.45 1.45l-1.45 1.45zM419.4 172.6l1.45 -1.45l1.45 1.45l-1.45 1.45zM459.6 76.8l1.45 -1.45l1.45 1.45l-1.45 1.45zM416.8 126.3l1.45 -1.45l1.45 1.45l-1.45 1.45zM457.2 136.9l1.45 -1.45l1.45 1.45l-1.45 1.45zM430.6 138.3l1.45 -1.45l1.45 1.45l-1.45 1.45zM381.9 145.9l1.45 -1.45l1.45 1.45l-1.45 1.45zM408.8 136.9l1.45 -1.45l1.45 1.45l-1.45 1.45zM357.8 102.1l1.45 -1.45l1.45 1.45l-1.45 1.45zM417.2 143.2l1.45 -1.45l1.45 1.45l-1.45 1.45zM421.3 86.7l1.45 -1.45l1.45 1.45l-1.45 1.45zM431.0 161.9l1.45 -1.45l1.45 1.45l-1.45 1.45zM438.9 108.1l1.45 -1.45l1.45 1.45l-1.45 1.45zM427.9 109.6l1.45 -1.45l1.45 1.45l-1.45 1.45zM496.8 118.6l1.45 -1.45l1.45 1.45l-1.45 1.45zM429.8 129.9l1.45 -1.45l1.45 1.45l-1.45 1.45zM426.3 146.4l1.45 -1.45l1.45 1.45l-1.45 1.45zM436.6 147.4l1.45 -1.45l1.45 1.45l-1.45 1.45zM435.2 160.1l1.45 -1.45l1.45 1.45l-1.45 1.45zM441.2 107.0l1.45 -1.45l1.45 1.45l-1.45 1.45zM425.8 140.3l1.45 -1.45l1.45 1.45l-1.45 1.45zM440.2 94.6l1.45 -1.45l1.45 1.45l-1.45 1.45zM455.2 155.0l1.45 -1.45l1.45 1.45l-1.45 1.45zM472.1 111.7l1.45 -1.45l1.45 1.45l-1.45 1.45zM454.2 141.0l1.45 -1.45l1.45 1.45l-1.45 1.45zM389.5 123.6l1.45 -1.45l1.45 1.45l-1.45 1.45zM425.2 128.2l1.45 -1.45l1.45 1.45l-1.45 1.45zM412.6 94.1l1.45 -1.45l1.45 1.45l-1.45 1.45zM451.0 97.6l1.45 -1.45l1.45 1.45l-1.45 1.45zM390.3 112.2l1.45 -1.45l1.45 1.45l-1.45 1.45zM458.3 185.6l1.45 -1.45l1.45 1.45l-1.45 1.45zM401.9 141.0l1.45 -1.45l1.45 1.45l-1.45 1.45zM451.4 82.1l1.45 -1.45l1.45 1.45l-1.45 1.45zM383.4 98.4l1.45 -1.45l1.45 1.45l-1.45 1.45zM463.6 167.7l1.45 -1.45l1.45 1.45l-1.45 1.45zM374.7 80.2l1.45 -1.45l1.45 1.45l-1.45 1.45zM400.5 142.3l1.45 -1.45l1.45 1.45l-1.45 1.45zM373.5 81.5l1.45 -1.45l1.45 1.45l-1.45 1.45zM439.1 102.9l1.45 -1.45l1.45 1.45l-1.45 1.45zM472.9 123.9l1.45 -1.45l1.45 1.45l-1.45 1.45zM367.7 78.5l1.45 -1.45l1.45 1.45l-1.45 1.45zM434.2 92.3l1.45 -1.45l1.45 1.45l-1.45 1.45zM424.2 91.7l1.45 -1.45l1.45 1.45l-1.45 1.45zM421.8 137.2l1.45 -1.45l1.45 1.45l-1.45 1.45zM370.9 130.1l1.45 -1.45l1.45 1.45l-1.45 1.45zM434.2 109.7l1.45 -1.45l1.45 1.45l-1.45 1.45zM412.7 151.0l1.45 -1.45l1.45 1.45l-1.45 1.45zM402.2 106.2l1.45 -1.45l1.45 1.45l-1.45 1.45zM488.6 163.0l1.45 -1.45l1.45 1.45l-1.45 1.45zM462.2 106.2l1.45 -1.45l1.45 1.45l-1.45 1.45zM428.4 84.7l1.45 -1.45l1.45 1.45l-1.45 1.45zM412.3 142.1l1.45 -1.45l1.45 1.45l-1.45 1.45zM419.6 147.7l1.45 -1.45l1.45 1.45l-1.45 1.45zM381.2 83.6l1.45 -1.45l1.45 1.45l-1.45 1.45zM423.1 114.4l1.45 -1.45l1.45 1.45l-1.45 1.45zM390.8 181.2l1.45 -1.45l1.45 1.45l-1.45 1.45zM381.2 128.3l1.45 -1.45l1.45 1.45l-1.45 1.45zM441.7 145.7l1.45 -1.45l1.45 1.45l-1.45 1.45zM392.9 153.3l1.45 -1.45l1.45 1.45l-1.45 1.45zM380.4 130.3l1.45 -1.45l1.45 1.45l-1.45 1.45zM420.5 153.6l1.45 -1.45l1.45 1.45l-1.45 1.45zM438.5 151.6l1.45 -1.45l1.45 1.45l-1.45 1.45zM411.1 85.3l1.45 -1.45l1.45 1.45l-1.45 1.45zM436.3 108.9l1.45 -1.45l1.45 1.45l-1.45 1.45zM432.5 140.2l1.45 -1.45l1.45 1.45l-1.45 1.45zM386.1 142.9l1.45 -1.45l1.45 1.45l-1.45 1.45zM423.4 116.6l1.45 -1.45l1.45 1.45l-1.45 1.45zM445.6 105.9l1.45 -1.45l1.45 1.45l-1.45 1.45zM379.1 120.7l1.45 -1.45l1.45 1.45l-1.45 1.45zM433.3 168.4l1.45 -1.45l1.45 1.45l-1.45 1.45zM435.4 121.7l1.45 -1.45l1.45 1.45l-1.45 1.45zM411.4 151.1l1.45 -1.45l1.45 1.45l-1.45 1.45zM413.6 79.7l1.45 -1.45l1.45 1.45l-1.45 1.45zM433.8 149.8l1.45 -1.45l1.45 1.45l-1.45 1.45zM443.5 173.3l1.45 -1.45l1.45 1.45l-1.45 1.45zM473.8 112.9l1.45 -1.45l1.45 1.45l-1.45 1.45zM416.8 120.8l1.45 -1.45l1.45 1.45l-1.45 1.45zM444.3 109.0l1.45 -1.45l1.45 1.45l-1.45 1.45zM419.6 166.3l1.45 -1.45l1.45 1.45l-1.45 1.45zM407.0 96.9l1.45 -1.45l1.45 1.45l-1.45 1.45zM383.1 103.2l1.45 -1.45l1.45 1.45l-1.45 1.45zM520.1 99.6l1.45 -1.45l1.45 1.45l-1.45 1.45zM414.7 86.2l1.45 -1.45l1.45 1.45l-1.45 1.45zM408.8 156.5l1.45 -1.45l1.45 1.45l-1.45 1.45zM397.7 170.3l1.45 -1.45l1.45 1.45l-1.45 1.45zM384.1 139.0l1.45 -1.45l1.45 1.45l-1.45 1.45zM417.7 131.6l1.45 -1.45l1.45 1.45l-1.45 1.45zM433.8 146.4l1.45 -1.45l1.45 1.45l-1.45 1.45zM405.3 94.0l1.45 -1.45l1.45 1.45l-1.45 1.45zM389.9 180.2l1.45 -1.45l1.45 1.45l-1.45 1.45zM423.1 158.5l1.45 -1.45l1.45 1.45l-1.45 1.45zM419.6 147.0l1.45 -1.45l1.45 1.45l-1.45 1.45zM443.5 199.8l1.45 -1.45l1.45 1.45l-1.45 1.45zM405.9 150.4l1.45 -1.45l1.45 1.45l-1.45 1.45zM425.0 108.6l1.45 -1.45l1.45 1.45l-1.45 1.45zM436.0 158.8l1.45 -1.45l1.45 1.45l-1.45 1.45zM451.8 130.3l1.45 -1.45l1.45 1.45l-1.45 1.45zM427.0 115.4l1.45 -1.45l1.45 1.45l-1.45 1.45zM438.9 86.5l1.45 -1.45l1.45 1.45l-1.45 1.45zM395.9 92.3l1.45 -1.45l1.45 1.45l-1.45 1.45zM512.1 119.0l1.45 -1.45l1.45 1.45l-1.45 1.45zM430.9 115.1l1.45 -1.45l1.45 1.45l-1.45 1.45zM479.5 91.3l1.45 -1.45l1.45 1.45l-1.45 1.45zM388.1 165.7l1.45 -1.45l1.45 1.45l-1.45 1.45zM428.3 146.9l1.45 -1.45l1.45 1.45l-1.45 1.45zM432.7 155.8l1.45 -1.45l1.45 1.45l-1.45 1.45zM368.8 130.9l1.45 -1.45l1.45 1.45l-1.45 1.45zM414.5 104.1l1.45 -1.45l1.45 1.45l-1.45 1.45zM437.0 128.5l1.45 -1.45l1.45 1.45l-1.45 1.45zM373.9 96.0l1.45 -1.45l1.45 1.45l-1.45 1.45zM434.0 115.7l1.45 -1.45l1.45 1.45l-1.45 1.45zM380.2 138.8l1.45 -1.45l1.45 1.45l-1.45 1.45zM392.6 110.7l1.45 -1.45l1.45 1.45l-1.45 1.45zM415.3 176.5l1.45 -1.45l1.45 1.45l-1.45 1.45zM393.0 155.2l1.45 -1.45l1.45 1.45l-1.45 1.45zM456.9 128.7l1.45 -1.45l1.45 1.45l-1.45 1.45zM397.6 188.6l1.45 -1.45l1.45 1.45l-1.45 1.45zM449.2 115.0l1.45 -1.45l1.45 1.45l-1.45 1.45zM447.3 87.5l1.45 -1.45l1.45 1.45l-1.45 1.45zM445.9 128.1l1.45 -1.45l1.45 1.45l-1.45 1.45zM403.6 84.7l1.45 -1.45l1.45 1.45l-1.45 1.45zM434.2 83.5l1.45 -1.45l1.45 1.45l-1.45 1.45zM435.2 78.0l1.45 -1.45l1.45 1.45l-1.45 1.45zM377.8 129.3l1.45 -1.45l1.45 1.45l-1.45 1.45zM429.8 109.5l1.45 -1.45l1.45 1.45l-1.45 1.45zM413.6 88.8l1.45 -1.45l1.45 1.45l-1.45 1.45zM348.4 152.1l1.45 -1.45l1.45 1.45l-1.45 1.45zM403.9 108.8l1.45 -1.45l1.45 1.45l-1.45 1.45zM412.7 129.7l1.45 -1.45l1.45 1.45l-1.45 1.45zM408.1 142.1l1.45 -1.45l1.45 1.45l-1.45 1.45zM459.0 179.0l1.45 -1.45l1.45 1.45l-1.45 1.45zM423.3 126.7l1.45 -1.45l1.45 1.45l-1.45 1.45zM416.8 119.5l1.45 -1.45l1.45 1.45l-1.45 1.45zM409.4 119.6l1.45 -1.45l1.45 1.45l-1.45 1.45zM371.7 89.4l1.45 -1.45l1.45 1.45l-1.45 1.45zM436.1 102.9l1.45 -1.45l1.45 1.45l-1.45 1.45zM458.2 99.4l1.45 -1.45l1.45 1.45l-1.45 1.45zM371.4 150.1l1.45 -1.45l1.45 1.45l-1.45 1.45zM455.5 135.0l1.45 -1.45l1.45 1.45l-1.45 1.45zM361.0 128.9l1.45 -1.45l1.45 1.45l-1.45 1.45zM423.8 153.0l1.45 -1.45l1.45 1.45l-1.45 1.45zM398.4 99.5l1.45 -1.45l1.45 1.45l-1.45 1.45zM446.9 136.6l1.45 -1.45l1.45 1.45l-1.45 1.45zM419.1 127.0l1.45 -1.45l1.45 1.45l-1.45 1.45zM375.6 115.2l1.45 -1.45l1.45 1.45l-1.45 1.45zM393.4 136.6l1.45 -1.45l1.45 1.45l-1.45 1.45zM431.5 107.1l1.45 -1.45l1.45 1.45l-1.45 1.45zM398.6 76.2l1.45 -1.45l1.45 1.45l-1.45 1.45zM397.6 110.8l1.45 -1.45l1.45 1.45l-1.45 1.45zM427.7 139.2l1.45 -1.45l1.45 1.45l-1.45 1.45zM467.5 113.7l1.45 -1.45l1.45 1.45l-1.45 1.45zM375.5 123.0l1.45 -1.45l1.45 1.45l-1.45 1.45zM421.6 136.3l1.45 -1.45l1.45 1.45l-1.45 1.45zM420.1 102.0l1.45 -1.45l1.45 1.45l-1.45 1.45zM412.1 159.6l1.45 -1.45l1.45 1.45l-1.45 1.45zM448.8 124.9l1.45 -1.45l1.45 1.45l-1.45 1.45zM514.4 146.0l1.45 -1.45l1.45 1.45l-1.45 1.45zM479.1 108.4l1.45 -1.45l1.45 1.45l-1.45 1.45zM434.2 156.8l1.45 -1.45l1.45 1.45l-1.45 1.45zM340.2 129.3l1.45 -1.45l1.45 1.45l-1.45 1.45zM417.7 134.6l1.45 -1.45l1.45 1.45l-1.45 1.45zM399.7 118.1l1.45 -1.45l1.45 1.45l-1.45 1.45zM496.8 121.9l1.45 -1.45l1.45 1.45l-1.45 1.45zM415.7 94.7l1.45 -1.45l1.45 1.45l-1.45 1.45zM405.5 117.0l1.45 -1.45l1.45 1.45l-1.45 1.45zM407.3 94.4l1.45 -1.45l1.45 1.45l-1.45 1.45zM417.9 82.8l1.45 -1.45l1.45 1.45l-1.45 1.45zM372.5 137.9l1.45 -1.45l1.45 1.45l-1.45 1.45zM420.0 135.5l1.45 -1.45l1.45 1.45l-1.45 1.45zM414.9 134.4l1.45 -1.45l1.45 1.45l-1.45 1.45zM427.5 152.0l1.45 -1.45l1.45 1.45l-1.45 1.45zM421.9 123.5l1.45 -1.45l1.45 1.45l-1.45 1.45zM429.8 119.4l1.45 -1.45l1.45 1.45l-1.45 1.45zM464.4 107.9l1.45 -1.45l1.45 1.45l-1.45 1.45zM426.6 98.9l1.45 -1.45l1.45 1.45l-1.45 1.45zM431.9 121.1l1.45 -1.45l1.45 1.45l-1.45 1.45zM411.3 174.2l1.45 -1.45l1.45 1.45l-1.45 1.45zM393.9 113.7l1.45 -1.45l1.45 1.45l-1.45 1.45zM426.9 71.8l1.45 -1.45l1.45 1.45l-1.45 1.45zM467.8 119.4l1.45 -1.45l1.45 1.45l-1.45 1.45zM436.5 161.7l1.45 -1.45l1.45 1.45l-1.45 1.45zM438.3 151.8l1.45 -1.45l1.45 1.45l-1.45 1.45zM424.1 161.1l1.45 -1.45l1.45 1.45l-1.45 1.45zM402.6 114.1l1.45 -1.45l1.45 1.45l-1.45 1.45zM410.7 108.8l1.45 -1.45l1.45 1.45l-1.45 1.45zM437.7 74.0l1.45 -1.45l1.45 1.45l-1.45 1.45zM422.9 109.6l1.45 -1.45l1.45 1.45l-1.45 1.45zM418.2 150.9l1.45 -1.45l1.45 1.45l-1.45 1.45zM359.9 127.9l1.45 -1.45l1.45 1.45l-1.45 1.45zM429.4 149.9l1.45 -1.45l1.45 1.45l-1.45 1.45zM387.4 120.0l1.45 -1.45l1.45 1.45l-1.45 1.45zM434.7 69.7l1.45 -1.45l1.45 1.45l-1.45 1.45zM413.6 143.8l1.45 -1.45l1.45 1.45l-1.45 1.45zM396.5 138.8l1.45 -1.45l1.45 1.45l-1.45 1.45zM468.7 159.1l1.45 -1.45l1.45 1.45l-1.45 1.45zM433.2 107.5l1.45 -1.45l1.45 1.45l-1.45 1.45zM435.7 105.4l1.45 -1.45l1.45 1.45l-1.45 1.45zM458.9 170.2l1.45 -1.45l1.45 1.45l-1.45 1.45zM401.5 147.0l1.45 -1.45l1.45 1.45l-1.45 1.45zM469.0 43.9l1.45 -1.45l1.45 1.45l-1.45 1.45zM400.9 80.9l1.45 -1.45l1.45 1.45l-1.45 1.45zM350.4 123.8l1.45 -1.45l1.45 1.45l-1.45 1.45zM406.5 112.2l1.45 -1.45l1.45 1.45l-1.45 1.45zM407.3 143.4l1.45 -1.45l1.45 1.45l-1.45 1.45zM453.5 160.4l1.45 -1.45l1.45 1.45l-1.45 1.45zM352.3 128.9l1.45 -1.45l1.45 1.45l-1.45 1.45zM399.7 118.0l1.45 -1.45l1.45 1.45l-1.45 1.45zM433.4 111.5l1.45 -1.45l1.45 1.45l-1.45 1.45zM413.9 145.4l1.45 -1.45l1.45 1.45l-1.45 1.45zM428.2 141.4l1.45 -1.45l1.45 1.45l-1.45 1.45zM389.9 113.6l1.45 -1.45l1.45 1.45l-1.45 1.45zM448.7 105.0l1.45 -1.45l1.45 1.45l-1.45 1.45zM446.0 158.0l1.45 -1.45l1.45 1.45l-1.45 1.45zM423.3 136.6l1.45 -1.45l1.45 1.45l-1.45 1.45zM441.6 120.3l1.45 -1.45l1.45 1.45l-1.45 1.45zM414.6 115.4l1.45 -1.45l1.45 1.45l-1.45 1.45zM391.5 133.0l1.45 -1.45l1.45 1.45l-1.45 1.45zM442.3 122.4l1.45 -1.45l1.45 1.45l-1.45 1.45zM429.1 179.2l1.45 -1.45l1.45 1.45l-1.45 1.45zM452.3 134.1l1.45 -1.45l1.45 1.45l-1.45 1.45zM405.5 119.7l1.45 -1.45l1.45 1.45l-1.45 1.45zM415.2 86.7l1.45 -1.45l1.45 1.45l-1.45 1.45zM343.7 93.1l1.45 -1.45l1.45 1.45l-1.45 1.45zM401.7 82.8l1.45 -1.45l1.45 1.45l-1.45 1.45zM407.0 90.1l1.45 -1.45l1.45 1.45l-1.45 1.45zM445.9 110.8l1.45 -1.45l1.45 1.45l-1.45 1.45zM431.4 101.0l1.45 -1.45l1.45 1.45l-1.45 1.45zM436.1 107.1l1.45 -1.45l1.45 1.45l-1.45 1.45zM399.2 167.7l1.45 -1.45l1.45 1.45l-1.45 1.45zM357.5 117.0l1.45 -1.45l1.45 1.45l-1.45 1.45zM392.9 106.7l1.45 -1.45l1.45 1.45l-1.45 1.45zM400.2 171.8l1.45 -1.45l1.45 1.45l-1.45 1.45zM468.1 136.5l1.45 -1.45l1.45 1.45l-1.45 1.45zM466.5 106.3l1.45 -1.45l1.45 1.45l-1.45 1.45zM421.5 106.0l1.45 -1.45l1.45 1.45l-1.45 1.45zM444.5 134.0l1.45 -1.45l1.45 1.45l-1.45 1.45zM415.9 108.2l1.45 -1.45l1.45 1.45l-1.45 1.45zM377.8 173.9l1.45 -1.45l1.45 1.45l-1.45 1.45zM397.2 167.0l1.45 -1.45l1.45 1.45l-1.45 1.45zM443.4 71.9l1.45 -1.45l1.45 1.45l-1.45 1.45zM356.1 115.4l1.45 -1.45l1.45 1.45l-1.45 1.45zM374.2 162.6l1.45 -1.45l1.45 1.45l-1.45 1.45zM427.6 99.1l1.45 -1.45l1.45 1.45l-1.45 1.45zM446.2 167.5l1.45 -1.45l1.45 1.45l-1.45 1.45zM408.1 141.3l1.45 -1.45l1.45 1.45l-1.45 1.45zM407.5 161.0l1.45 -1.45l1.45 1.45l-1.45 1.45zM413.9 134.8l1.45 -1.45l1.45 1.45l-1.45 1.45zM509.3 117.7l1.45 -1.45l1.45 1.45l-1.45 1.45zM387.3 171.5l1.45 -1.45l1.45 1.45l-1.45 1.45zM440.6 122.1l1.45 -1.45l1.45 1.45l-1.45 1.45zM422.2 80.7l1.45 -1.45l1.45 1.45l-1.45 1.45zM484.5 117.1l1.45 -1.45l1.45 1.45l-1.45 1.45zM424.1 120.6l1.45 -1.45l1.45 1.45l-1.45 1.45zM415.3 157.8l1.45 -1.45l1.45 1.45l-1.45 1.45zM405.2 151.0l1.45 -1.45l1.45 1.45l-1.45 1.45zM394.9 96.9l1.45 -1.45l1.45 1.45l-1.45 1.45zM390.5 78.6l1.45 -1.45l1.45 1.45l-1.45 1.45zM454.7 93.0l1.45 -1.45l1.45 1.45l-1.45 1.45zM443.7 121.5l1.45 -1.45l1.45 1.45l-1.45 1.45zM375.9 138.2l1.45 -1.45l1.45 1.45l-1.45 1.45zM377.1 142.1l1.45 -1.45l1.45 1.45l-1.45 1.45zM414.6 129.3l1.45 -1.45l1.45 1.45l-1.45 1.45zM421.1 140.4l1.45 -1.45l1.45 1.45l-1.45 1.45zM431.1 151.2l1.45 -1.45l1.45 1.45l-1.45 1.45zM421.5 110.7l1.45 -1.45l1.45 1.45l-1.45 1.45zM435.2 110.7l1.45 -1.45l1.45 1.45l-1.45 1.45zM365.5 124.8l1.45 -1.45l1.45 1.45l-1.45 1.45zM384.3 182.0l1.45 -1.45l1.45 1.45l-1.45 1.45zM423.7 97.6l1.45 -1.45l1.45 1.45l-1.45 1.45zM381.9 105.9l1.45 -1.45l1.45 1.45l-1.45 1.45zM436.8 83.1l1.45 -1.45l1.45 1.45l-1.45 1.45zM436.9 88.5l1.45 -1.45l1.45 1.45l-1.45 1.45zM424.3 160.5l1.45 -1.45l1.45 1.45l-1.45 1.45zM418.3 128.3l1.45 -1.45l1.45 1.45l-1.45 1.45zM411.4 72.4l1.45 -1.45l1.45 1.45l-1.45 1.45zM403.8 139.3l1.45 -1.45l1.45 1.45l-1.45 1.45zM408.1 141.9l1.45 -1.45l1.45 1.45l-1.45 1.45zM443.6 152.3l1.45 -1.45l1.45 1.45l-1.45 1.45zM460.0 142.1l1.45 -1.45l1.45 1.45l-1.45 1.45zM410.8 81.9l1.45 -1.45l1.45 1.45l-1.45 1.45zM400.5 145.6l1.45 -1.45l1.45 1.45l-1.45 1.45zM413.7 181.9l1.45 -1.45l1.45 1.45l-1.45 1.45zM468.6 130.0l1.45 -1.45l1.45 1.45l-1.45 1.45zM391.6 82.7l1.45 -1.45l1.45 1.45l-1.45 1.45zM412.4 96.9l1.45 -1.45l1.45 1.45l-1.45 1.45zM428.4 119.5l1.45 -1.45l1.45 1.45l-1.45 1.45zM422.1 124.3l1.45 -1.45l1.45 1.45l-1.45 1.45zM377.8 109.4l1.45 -1.45l1.45 1.45l-1.45 1.45zM446.4 108.2l1.45 -1.45l1.45 1.45l-1.45 1.45zM454.9 114.5l1.45 -1.45l1.45 1.45l-1.45 1.45zM424.6 103.9l1.45 -1.45l1.45 1.45l-1.45 1.45zM433.9 114.4l1.45 -1.45l1.45 1.45l-1.45 1.45zM434.9 98.2l1.45 -1.45l1.45 1.45l-1.45 1.45zM436.3 110.4l1.45 -1.45l1.45 1.45l-1.45 1.45zM463.3 166.8l1.45 -1.45l1.45 1.45l-1.45 1.45zM442.5 126.9l1.45 -1.45l1.45 1.45l-1.45 1.45zM396.1 61.2l1.45 -1.45l1.45 1.45l-1.45 1.45zM404.1 172.3l1.45 -1.45l1.45 1.45l-1.45 1.45zM454.3 129.6l1.45 -1.45l1.45 1.45l-1.45 1.45zM477.1 109.6l1.45 -1.45l1.45 1.45l-1.45 1.45zM426.1 157.7l1.45 -1.45l1.45 1.45l-1.45 1.45zM418.5 153.8l1.45 -1.45l1.45 1.45l-1.45 1.45zM388.4 166.7l1.45 -1.45l1.45 1.45l-1.45 1.45zM400.1 169.5l1.45 -1.45l1.45 1.45l-1.45 1.45zM429.1 144.7l1.45 -1.45l1.45 1.45l-1.45 1.45zM427.2 175.5l1.45 -1.45l1.45 1.45l-1.45 1.45zM416.0 122.3l1.45 -1.45l1.45 1.45l-1.45 1.45zM420.8 130.9l1.45 -1.45l1.45 1.45l-1.45 1.45zM419.7 95.8l1.45 -1.45l1.45 1.45l-1.45 1.45zM420.3 104.3l1.45 -1.45l1.45 1.45l-1.45 1.45zM397.6 106.4l1.45 -1.45l1.45 1.45l-1.45 1.45zM447.0 105.1l1.45 -1.45l1.45 1.45l-1.45 1.45zM380.4 121.6l1.45 -1.45l1.45 1.45l-1.45 1.45zM453.2 178.0l1.45 -1.45l1.45 1.45l-1.45 1.45zM418.4 177.7l1.45 -1.45l1.45 1.45l-1.45 1.45zM415.4 149.6l1.45 -1.45l1.45 1.45l-1.45 1.45zM403.4 110.3l1.45 -1.45l1.45 1.45l-1.45 1.45zM446.2 159.7l1.45 -1.45l1.45 1.45l-1.45 1.45zM409.7 142.9l1.45 -1.45l1.45 1.45l-1.45 1.45zM385.8 119.0l1.45 -1.45l1.45 1.45l-1.45 1.45zM404.1 87.2l1.45 -1.45l1.45 1.45l-1.45 1.45zM420.3 125.4l1.45 -1.45l1.45 1.45l-1.45 1.45zM477.6 110.9l1.45 -1.45l1.45 1.45l-1.45 1.45zM398.7 88.4l1.45 -1.45l1.45 1.45l-1.45 1.45zM452.8 135.1l1.45 -1.45l1.45 1.45l-1.45 1.45zM431.7 108.5l1.45 -1.45l1.45 1.45l-1.45 1.45zM439.8 157.1l1.45 -1.45l1.45 1.45l-1.45 1.45zM448.3 132.7l1.45 -1.45l1.45 1.45l-1.45 1.45zM437.9 171.8l1.45 -1.45l1.45 1.45l-1.45 1.45zM417.9 90.5l1.45 -1.45l1.45 1.45l-1.45 1.45zM425.0 147.9l1.45 -1.45l1.45 1.45l-1.45 1.45z" fill="#151515"/>
<rect x="311.5" y="37.1" width="227.30" height="179.40" fill="none" stroke="#c2c2c2" stroke-width="0.8"/>
<path d="M311.50 216.5v-2.2M311.50 37.1v2.2M311.5 216.50h2.2M538.8 216.50h-2.2M334.23 216.5v-2.2M334.23 37.1v2.2M311.5 198.56h2.2M538.8 198.56h-2.2M356.96 216.5v-2.2M356.96 37.1v2.2M311.5 180.62h2.2M538.8 180.62h-2.2M379.69 216.5v-2.2M379.69 37.1v2.2M311.5 162.68h2.2M538.8 162.68h-2.2M402.42 216.5v-2.2M402.42 37.1v2.2M311.5 144.74h2.2M538.8 144.74h-2.2M425.15 216.5v-2.2M425.15 37.1v2.2M311.5 126.80h2.2M538.8 126.80h-2.2M447.88 216.5v-2.2M447.88 37.1v2.2M311.5 108.86h2.2M538.8 108.86h-2.2M470.61 216.5v-2.2M470.61 37.1v2.2M311.5 90.92h2.2M538.8 90.92h-2.2M493.34 216.5v-2.2M493.34 37.1v2.2M311.5 72.98h2.2M538.8 72.98h-2.2M516.07 216.5v-2.2M516.07 37.1v2.2M311.5 55.04h2.2M538.8 55.04h-2.2M538.80 216.5v-2.2M538.80 37.1v2.2M311.5 37.10h2.2M538.8 37.10h-2.2" stroke="#9a9a9a" stroke-width="0.7" fill="none"/>
<g class="ss" font-size="5.3" fill="#484848">
<text x="311.50" y="223.5" text-anchor="middle">-2.5</text>
<text x="309.7" y="218.40" text-anchor="end">-2.5</text>
<text x="334.23" y="223.5" text-anchor="middle">-2</text>
<text x="309.7" y="200.46" text-anchor="end">-2</text>
<text x="356.96" y="223.5" text-anchor="middle">-1.5</text>
<text x="309.7" y="182.52" text-anchor="end">-1.5</text>
<text x="379.69" y="223.5" text-anchor="middle">-1</text>
<text x="309.7" y="164.58" text-anchor="end">-1</text>
<text x="402.42" y="223.5" text-anchor="middle">-0.5</text>
<text x="309.7" y="146.64" text-anchor="end">-0.5</text>
<text x="425.15" y="223.5" text-anchor="middle">0</text>
<text x="309.7" y="128.70" text-anchor="end">0</text>
<text x="447.88" y="223.5" text-anchor="middle">0.5</text>
<text x="309.7" y="110.76" text-anchor="end">0.5</text>
<text x="470.61" y="223.5" text-anchor="middle">1</text>
<text x="309.7" y="92.82" text-anchor="end">1</text>
<text x="493.34" y="223.5" text-anchor="middle">1.5</text>
<text x="309.7" y="74.88" text-anchor="end">1.5</text>
<text x="516.07" y="223.5" text-anchor="middle">2</text>
<text x="309.7" y="56.94" text-anchor="end">2</text>
<text x="538.80" y="223.5" text-anchor="middle">2.5</text>
<text x="309.7" y="39.00" text-anchor="end">2.5</text>
</g>
<text class="sbi" transform="translate(323.37 56.00) scale(1.128 1)" font-size="16.00" fill="#000">μ</text>
<text class="sr" transform="translate(333.28 59.40) scale(1.235 1)" font-size="10.60" fill="#000">3</text>
<text class="sbi" transform="translate(511.27 206.30) scale(1.128 1)" font-size="16.00" fill="#000">μ</text>
<text class="sr" transform="translate(521.33 209.60) scale(1.044 1)" font-size="10.60" fill="#000">1</text>
<text class="sr" transform="translate(386.87 26.70) scale(1.080 1)" font-size="21.20" fill="#111">Prior</text>
<text class="sr" transform="translate(405.36 244.30) scale(1.054 1)" font-size="21.00" fill="#111">(b)</text>
<text class="sr" transform="translate(361.07 264.00) scale(1.078 1)" font-size="21.20" fill="#111">Forward</text>
<text class="sr" transform="translate(445.94 264.00) scale(1.094 1)" font-size="21.20" fill="#111">UP</text>
<text class="sr" transform="translate(416.00 495.60) scale(1.003 1)" font-size="21.00" fill="#111">(c)</text>
<rect x="312.9" y="274.0" width="225.40" height="177.80" fill="#fff"/>
<path d="M331.11 451.8V451.09h2.47V451.8M333.58 451.8V450.91h2.47V451.8M336.05 451.8V450.91h2.47V451.8M338.52 451.8V450.73h2.47V451.8M340.99 451.8V449.84h2.47V451.8M343.46 451.8V446.47h2.47V451.8M345.93 451.8V440.51h2.47V451.8M348.40 451.8V428.69h2.47V451.8M350.87 451.8V396.68h2.47V451.8M353.34 451.8V367.35h2.47V451.8M355.81 451.8V338.01h2.47V451.8M358.28 451.8V317.56h2.47V451.8M360.75 451.8V310.45h2.47V451.8M363.22 451.8V322.36h2.47V451.8M365.69 451.8V356.23h2.47V451.8M368.16 451.8V404.42h2.47V451.8M370.63 451.8V420.69h2.47V451.8M373.10 451.8V445.67h2.47V451.8M375.57 451.8V447.09h2.47V451.8M378.04 451.8V449.58h2.47V451.8M380.51 451.8V450.91h2.47V451.8" fill="#3a72cc" fill-opacity="0.68" stroke="#2a3f66" stroke-width="0.4" stroke-opacity="0.5"/>
<path d="M399.66 451.8V450.33h2.28V451.8M401.94 451.8V446.83h2.28V451.8M404.22 451.8V440.27h2.28V451.8M406.50 451.8V429.29h2.28V451.8M408.78 451.8V408.05h2.28V451.8M411.06 451.8V382.83h2.28V451.8M413.34 451.8V376.24h2.28V451.8M415.62 451.8V341.56h2.28V451.8M417.90 451.8V298.00h2.28V451.8M420.18 451.8V318.45h2.28V451.8M422.46 451.8V347.79h2.28V451.8M424.74 451.8V379.79h2.28V451.8M427.02 451.8V402.34h2.28V451.8M429.30 451.8V422.89h2.28V451.8M431.58 451.8V438.24h2.28V451.8M433.86 451.8V445.67h2.28V451.8M436.14 451.8V449.58h2.28V451.8M438.42 451.8V450.99h2.28V451.8" fill="#ea6423" fill-opacity="0.68" stroke="#6a3818" stroke-width="0.4" stroke-opacity="0.5"/>
<path d="M415.30 451.8V451.05h3.00V451.8M418.30 451.8V449.37h3.00V451.8M421.30 451.8V444.67h3.00V451.8M424.30 451.8V433.99h3.00V451.8M427.30 451.8V417.89h3.00V451.8M430.30 451.8V385.53h3.00V451.8M433.30 451.8V356.05h3.00V451.8M436.30 451.8V314.98h3.00V451.8M439.30 451.8V311.87h3.00V451.8M442.30 451.8V320.23h3.00V451.8M445.30 451.8V350.72h3.00V451.8M448.30 451.8V387.00h3.00V451.8M451.30 451.8V416.07h3.00V451.8M454.30 451.8V434.15h3.00V451.8M457.30 451.8V444.33h3.00V451.8M460.30 451.8V449.32h3.00V451.8M463.30 451.8V451.03h3.00V451.8" fill="#fbc246" fill-opacity="0.68" stroke="#7a6020" stroke-width="0.4" stroke-opacity="0.5"/>
<path d="M434.90 451.8V449.57h2.50V451.8M437.40 451.8V446.13h2.50V451.8M439.90 451.8V436.66h2.50V451.8M442.40 451.8V420.91h2.50V451.8M444.90 451.8V393.74h2.50V451.8M447.40 451.8V369.55h2.50V451.8M449.90 451.8V316.23h2.50V451.8M452.40 451.8V325.03h2.50V451.8M454.90 451.8V309.65h2.50V451.8M457.40 451.8V337.22h2.50V451.8M459.90 451.8V368.10h2.50V451.8M462.40 451.8V404.88h2.50V451.8M464.90 451.8V421.71h2.50V451.8M467.40 451.8V440.61h2.50V451.8M469.90 451.8V446.67h2.50V451.8M472.40 451.8V450.19h2.50V451.8" fill="#7a2e9b" fill-opacity="0.68" stroke="#40184f" stroke-width="0.4" stroke-opacity="0.5"/>
<path d="M440.55 451.8V449.80h2.35V451.8M442.90 451.8V446.10h2.35V451.8M445.25 451.8V438.82h2.35V451.8M447.60 451.8V425.64h2.35V451.8M449.95 451.8V393.13h2.35V451.8M452.30 451.8V377.12h2.35V451.8M454.65 451.8V358.46h2.35V451.8M457.00 451.8V318.54h2.35V451.8M459.35 451.8V332.14h2.35V451.8M461.70 451.8V356.94h2.35V451.8M464.05 451.8V351.05h2.35V451.8M466.40 451.8V387.29h2.35V451.8M468.75 451.8V417.06h2.35V451.8M471.10 451.8V432.17h2.35V451.8M473.45 451.8V443.43h2.35V451.8M475.80 451.8V448.42h2.35V451.8M478.15 451.8V450.64h2.35V451.8" fill="#6d9126" fill-opacity="0.68" stroke="#3a4e14" stroke-width="0.4" stroke-opacity="0.5"/>
<path d="M447.24 451.8V450.75h2.87V451.8M450.11 451.8V448.12h2.87V451.8M452.98 451.8V441.32h2.87V451.8M455.85 451.8V427.74h2.87V451.8M458.72 451.8V401.58h2.87V451.8M461.59 451.8V371.45h2.87V451.8M464.46 451.8V338.01h2.87V451.8M467.33 451.8V310.09h2.87V451.8M470.20 451.8V287.96h2.87V451.8M473.07 451.8V335.21h2.87V451.8M475.94 451.8V361.06h2.87V451.8M478.81 451.8V398.35h2.87V451.8M481.68 451.8V421.20h2.87V451.8M484.55 451.8V438.27h2.87V451.8M487.42 451.8V446.63h2.87V451.8M490.29 451.8V450.30h2.87V451.8" fill="#4cb8ea" fill-opacity="0.68" stroke="#2a6a88" stroke-width="0.4" stroke-opacity="0.5"/>
<path d="M455.60 451.8V450.66h2.40V451.8M458.00 451.8V448.48h2.40V451.8M460.40 451.8V443.75h2.40V451.8M462.80 451.8V433.22h2.40V451.8M465.20 451.8V413.93h2.40V451.8M467.60 451.8V393.69h2.40V451.8M470.00 451.8V366.90h2.40V451.8M472.40 451.8V326.45h2.40V451.8M474.80 451.8V327.34h2.40V451.8M477.20 451.8V321.12h2.40V451.8M479.60 451.8V338.36h2.40V451.8M482.00 451.8V369.00h2.40V451.8M484.40 451.8V394.73h2.40V451.8M486.80 451.8V421.82h2.40V451.8M489.20 451.8V435.76h2.40V451.8M491.60 451.8V445.16h2.40V451.8M494.00 451.8V449.11h2.40V451.8M496.40 451.8V450.90h2.40V451.8" fill="#9e1818" fill-opacity="0.68" stroke="#500c0c" stroke-width="0.4" stroke-opacity="0.5"/>
<path d="M464.20 451.8V450.88h2.50V451.8M466.70 451.8V449.14h2.50V451.8M469.20 451.8V443.59h2.50V451.8M471.70 451.8V433.21h2.50V451.8M474.20 451.8V410.76h2.50V451.8M476.70 451.8V381.05h2.50V451.8M479.20 451.8V345.75h2.50V451.8M481.70 451.8V335.34h2.50V451.8M484.20 451.8V310.45h2.50V451.8M486.70 451.8V326.45h2.50V451.8M489.20 451.8V349.14h2.50V451.8M491.70 451.8V390.09h2.50V451.8M494.20 451.8V414.27h2.50V451.8M496.70 451.8V434.08h2.50V451.8M499.20 451.8V443.87h2.50V451.8M501.70 451.8V449.28h2.50V451.8M504.20 451.8V451.01h2.50V451.8" fill="#3565c4" fill-opacity="0.68" stroke="#2a3f66" stroke-width="0.4" stroke-opacity="0.5"/>
<path d="M471.80 451.8V450.63h2.06V451.8M473.86 451.8V448.68h2.06V451.8M475.92 451.8V445.04h2.06V451.8M477.98 451.8V436.98h2.06V451.8M480.04 451.8V424.22h2.06V451.8M482.10 451.8V406.89h2.06V451.8M484.16 451.8V385.78h2.06V451.8M486.22 451.8V368.21h2.06V451.8M488.28 451.8V332.67h2.06V451.8M490.34 451.8V331.78h2.06V451.8M492.40 451.8V324.14h2.06V451.8M494.46 451.8V345.56h2.06V451.8M496.52 451.8V371.48h2.06V451.8M498.58 451.8V398.52h2.06V451.8M500.64 451.8V415.11h2.06V451.8M502.70 451.8V433.16h2.06V451.8M504.76 451.8V441.50h2.06V451.8M506.82 451.8V447.62h2.06V451.8M508.88 451.8V450.07h2.06V451.8" fill="#e86a1c" fill-opacity="0.68" stroke="#6a3818" stroke-width="0.4" stroke-opacity="0.5"/>
<path d="M471.55 451.8V450.96h2.65V451.8M474.20 451.8V449.54h2.65V451.8M476.85 451.8V446.15h2.65V451.8M479.50 451.8V438.98h2.65V451.8M482.15 451.8V426.76h2.65V451.8M484.80 451.8V409.06h2.65V451.8M487.45 451.8V388.58h2.65V451.8M490.10 451.8V365.90h2.65V451.8M492.75 451.8V346.48h2.65V451.8M495.40 451.8V330.36h2.65V451.8M498.05 451.8V330.36h2.65V451.8M500.70 451.8V354.59h2.65V451.8M503.35 451.8V377.10h2.65V451.8M506.00 451.8V396.27h2.65V451.8M508.65 451.8V421.27h2.65V451.8M511.30 451.8V433.52h2.65V451.8M513.95 451.8V442.60h2.65V451.8M516.60 451.8V448.07h2.65V451.8M519.25 451.8V450.36h2.65V451.8" fill="#f0ad28" fill-opacity="0.68" stroke="#7a6020" stroke-width="0.4" stroke-opacity="0.5"/>
<rect x="312.9" y="274.0" width="225.40" height="177.80" fill="none" stroke="#c2c2c2" stroke-width="0.8"/>
<path d="M312.90 451.8v-2.2M312.90 274.0v2.2M369.25 451.8v-2.2M369.25 274.0v2.2M425.60 451.8v-2.2M425.60 274.0v2.2M481.95 451.8v-2.2M481.95 274.0v2.2M538.30 451.8v-2.2M538.30 274.0v2.2M312.9 451.80h2.2M538.3 451.80h-2.2M312.9 434.02h2.2M538.3 434.02h-2.2M312.9 416.24h2.2M538.3 416.24h-2.2M312.9 398.46h2.2M538.3 398.46h-2.2M312.9 380.68h2.2M538.3 380.68h-2.2M312.9 362.90h2.2M538.3 362.90h-2.2M312.9 345.12h2.2M538.3 345.12h-2.2M312.9 327.34h2.2M538.3 327.34h-2.2M312.9 309.56h2.2M538.3 309.56h-2.2M312.9 291.78h2.2M538.3 291.78h-2.2M312.9 274.00h2.2M538.3 274.00h-2.2" stroke="#8a8a8a" stroke-width="0.7" fill="none"/>
<g class="ss" font-size="5.3" fill="#484848">
<text x="312.90" y="459.0" text-anchor="middle">-1.5</text>
<text x="369.25" y="459.0" text-anchor="middle">-1</text>
<text x="425.60" y="459.0" text-anchor="middle">-0.5</text>
<text x="481.95" y="459.0" text-anchor="middle">0</text>
<text x="538.30" y="459.0" text-anchor="middle">0.5</text>
<text x="310.9" y="453.70" text-anchor="end">0</text>
<text x="310.9" y="435.92" text-anchor="end">0.02</text>
<text x="310.9" y="418.14" text-anchor="end">0.04</text>
<text x="310.9" y="400.36" text-anchor="end">0.06</text>
<text x="310.9" y="382.58" text-anchor="end">0.08</text>
<text x="310.9" y="364.80" text-anchor="end">0.1</text>
<text x="310.9" y="347.02" text-anchor="end">0.12</text>
<text x="310.9" y="329.24" text-anchor="end">0.14</text>
<text x="310.9" y="311.46" text-anchor="end">0.16</text>
<text x="310.9" y="293.68" text-anchor="end">0.18</text>
<text x="310.9" y="275.90" text-anchor="end">0.2</text>
</g>
<text class="si" transform="translate(348.33 391.80) scale(1.258 1)" font-size="18.80" fill="#000">ω</text>
<text class="sr" transform="translate(364.61 394.20) scale(0.847 1)" font-size="13.40" fill="#000">1</text>
<text class="si" transform="translate(407.77 389.30) scale(1.199 1)" font-size="18.80" fill="#000">ω</text>
<text class="sr" transform="translate(422.55 392.00) scale(1.150 1)" font-size="13.40" fill="#000">2</text>
<text class="si" transform="translate(427.91 349.80) scale(1.131 1)" font-size="18.80" fill="#000">ω</text>
<text class="sr" transform="translate(442.05 352.90) scale(1.176 1)" font-size="13.40" fill="#000">3</text>
</svg>
</body></html>
